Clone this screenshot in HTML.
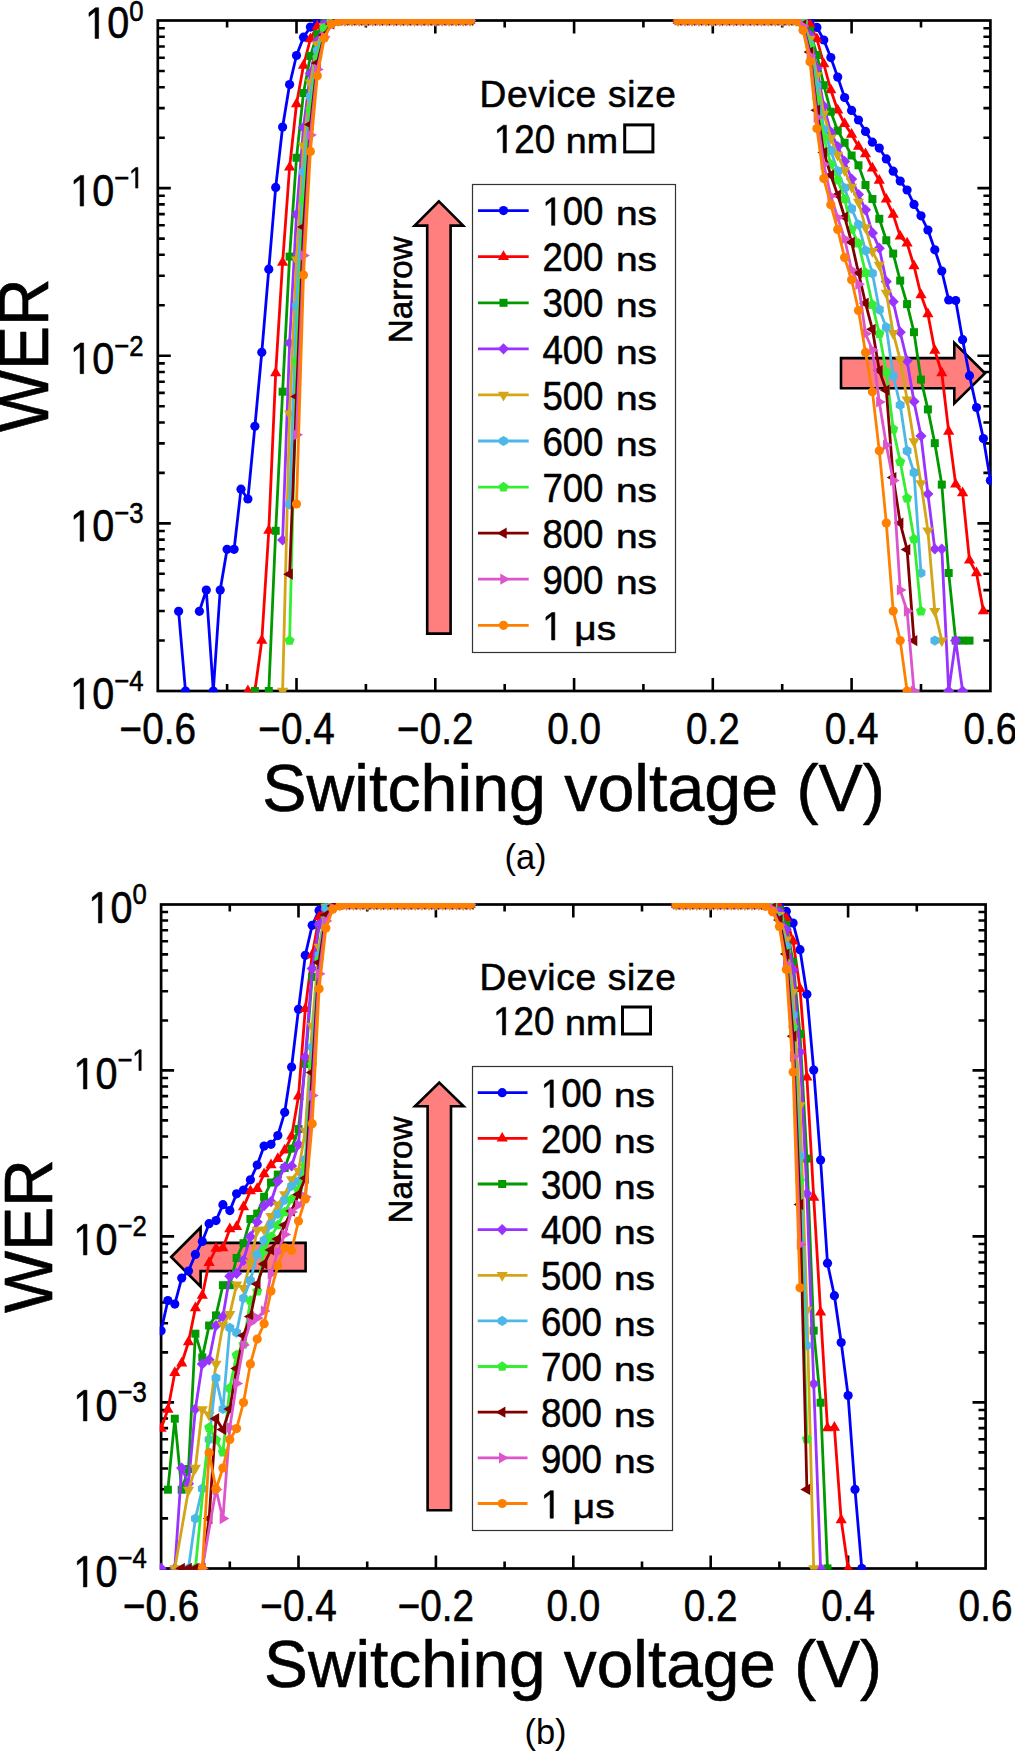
<!DOCTYPE html><html><head><meta charset="utf-8"><style>html,body{margin:0;padding:0;background:#fff;overflow:hidden;width:1015px;height:1751px;}svg{display:block;}text{font-family:"Liberation Sans", sans-serif;fill:#000;stroke:#000;stroke-width:0.6px;stroke-linejoin:round;}text.lt{stroke:none;}</style></head><body>
<svg width="1015" height="1751" viewBox="0 0 1015 1751">
<g id="pa">
<path d="M985.0 373.2L954.3 342.9L954.3 358.1L841.0 358.1L841.0 388.3L954.3 388.3L954.3 403.5Z" fill="#ff7f7f" stroke="#000" stroke-width="2.6" stroke-linejoin="miter"/>
<path d="M438.9 201.3L463.2 225.6L450.6 225.6L450.6 633.6L427.2 633.6L427.2 225.6L414.6 225.6Z" fill="#ff7f7f" stroke="#000" stroke-width="2.6" stroke-linejoin="miter"/>
<path d="M227.1 691.0V684.0M227.1 20.5V27.5M296.5 691.0V678.0M296.5 20.5V33.5M365.9 691.0V684.0M365.9 20.5V27.5M435.3 691.0V678.0M435.3 20.5V33.5M504.7 691.0V684.0M504.7 20.5V27.5M574.1 691.0V678.0M574.1 20.5V33.5M643.4 691.0V684.0M643.4 20.5V27.5M712.8 691.0V678.0M712.8 20.5V33.5M782.2 691.0V684.0M782.2 20.5V27.5M851.6 691.0V678.0M851.6 20.5V33.5M921.0 691.0V684.0M921.0 20.5V27.5M157.8 188.1H170.8M990.4 188.1H977.4M157.8 137.7H164.8M990.4 137.7H983.4M157.8 108.1H164.8M990.4 108.1H983.4M157.8 87.2H164.8M990.4 87.2H983.4M157.8 71.0H164.8M990.4 71.0H983.4M157.8 57.7H164.8M990.4 57.7H983.4M157.8 46.5H164.8M990.4 46.5H983.4M157.8 36.7H164.8M990.4 36.7H983.4M157.8 28.2H164.8M990.4 28.2H983.4M157.8 355.8H170.8M990.4 355.8H977.4M157.8 305.3H164.8M990.4 305.3H983.4M157.8 275.8H164.8M990.4 275.8H983.4M157.8 254.8H164.8M990.4 254.8H983.4M157.8 238.6H164.8M990.4 238.6H983.4M157.8 225.3H164.8M990.4 225.3H983.4M157.8 214.1H164.8M990.4 214.1H983.4M157.8 204.4H164.8M990.4 204.4H983.4M157.8 195.8H164.8M990.4 195.8H983.4M157.8 523.4H170.8M990.4 523.4H977.4M157.8 472.9H164.8M990.4 472.9H983.4M157.8 443.4H164.8M990.4 443.4H983.4M157.8 422.5H164.8M990.4 422.5H983.4M157.8 406.2H164.8M990.4 406.2H983.4M157.8 392.9H164.8M990.4 392.9H983.4M157.8 381.7H164.8M990.4 381.7H983.4M157.8 372.0H164.8M990.4 372.0H983.4M157.8 363.4H164.8M990.4 363.4H983.4M157.8 640.5H164.8M990.4 640.5H983.4M157.8 611.0H164.8M990.4 611.0H983.4M157.8 590.1H164.8M990.4 590.1H983.4M157.8 573.8H164.8M990.4 573.8H983.4M157.8 560.6H164.8M990.4 560.6H983.4M157.8 549.3H164.8M990.4 549.3H983.4M157.8 539.6H164.8M990.4 539.6H983.4M157.8 531.0H164.8M990.4 531.0H983.4" stroke="#000" stroke-width="2.6" fill="none"/>
<rect x="157.8" y="20.5" width="832.6" height="670.5" stroke="#000" stroke-width="2.7" fill="none"/>
<clipPath id="ca"><rect x="156.4" y="19.15" width="835.3000000000001" height="673.2"/></clipPath>
<g clip-path="url(#ca)"><path d="M470.0 20.5L463.0 20.5L456.1 20.5L449.2 20.5L442.2 20.5L435.3 20.5L428.3 20.5L421.4 20.5L414.5 20.5L407.5 20.5L400.6 20.5L393.7 20.5L386.7 20.5L379.8 20.5L372.8 20.5L365.9 20.5L359.0 20.5L352.0 20.5L345.1 20.5L338.1 20.5L331.2 20.5L324.3 20.5L317.3 21.5L310.4 27.1L303.5 37.2L296.5 55.5L289.6 84.6L282.6 127.0L275.7 187.4L268.8 269.2L261.8 352.3L254.9 426.3L247.9 499.0L241.0 489.2L234.1 549.3L227.1 549.3L220.2 590.0L213.3 691.0L206.3 590.0L199.4 611.3M185.5 691.0L178.6 611.3" stroke="#0000ff" stroke-width="2.8" fill="none" stroke-linejoin="round"/>
<circle cx="470.0" cy="20.5" r="4.6" fill="#0000ff"/>
<circle cx="463.0" cy="20.5" r="4.6" fill="#0000ff"/>
<circle cx="456.1" cy="20.5" r="4.6" fill="#0000ff"/>
<circle cx="449.2" cy="20.5" r="4.6" fill="#0000ff"/>
<circle cx="442.2" cy="20.5" r="4.6" fill="#0000ff"/>
<circle cx="435.3" cy="20.5" r="4.6" fill="#0000ff"/>
<circle cx="428.3" cy="20.5" r="4.6" fill="#0000ff"/>
<circle cx="421.4" cy="20.5" r="4.6" fill="#0000ff"/>
<circle cx="414.5" cy="20.5" r="4.6" fill="#0000ff"/>
<circle cx="407.5" cy="20.5" r="4.6" fill="#0000ff"/>
<circle cx="400.6" cy="20.5" r="4.6" fill="#0000ff"/>
<circle cx="393.7" cy="20.5" r="4.6" fill="#0000ff"/>
<circle cx="386.7" cy="20.5" r="4.6" fill="#0000ff"/>
<circle cx="379.8" cy="20.5" r="4.6" fill="#0000ff"/>
<circle cx="372.8" cy="20.5" r="4.6" fill="#0000ff"/>
<circle cx="365.9" cy="20.5" r="4.6" fill="#0000ff"/>
<circle cx="359.0" cy="20.5" r="4.6" fill="#0000ff"/>
<circle cx="352.0" cy="20.5" r="4.6" fill="#0000ff"/>
<circle cx="345.1" cy="20.5" r="4.6" fill="#0000ff"/>
<circle cx="338.1" cy="20.5" r="4.6" fill="#0000ff"/>
<circle cx="331.2" cy="20.5" r="4.6" fill="#0000ff"/>
<circle cx="324.3" cy="20.5" r="4.6" fill="#0000ff"/>
<circle cx="317.3" cy="21.5" r="4.6" fill="#0000ff"/>
<circle cx="310.4" cy="27.1" r="4.6" fill="#0000ff"/>
<circle cx="303.5" cy="37.2" r="4.6" fill="#0000ff"/>
<circle cx="296.5" cy="55.5" r="4.6" fill="#0000ff"/>
<circle cx="289.6" cy="84.6" r="4.6" fill="#0000ff"/>
<circle cx="282.6" cy="127.0" r="4.6" fill="#0000ff"/>
<circle cx="275.7" cy="187.4" r="4.6" fill="#0000ff"/>
<circle cx="268.8" cy="269.2" r="4.6" fill="#0000ff"/>
<circle cx="261.8" cy="352.3" r="4.6" fill="#0000ff"/>
<circle cx="254.9" cy="426.3" r="4.6" fill="#0000ff"/>
<circle cx="247.9" cy="499.0" r="4.6" fill="#0000ff"/>
<circle cx="241.0" cy="489.2" r="4.6" fill="#0000ff"/>
<circle cx="234.1" cy="549.3" r="4.6" fill="#0000ff"/>
<circle cx="227.1" cy="549.3" r="4.6" fill="#0000ff"/>
<circle cx="220.2" cy="590.0" r="4.6" fill="#0000ff"/>
<circle cx="213.3" cy="691.0" r="4.6" fill="#0000ff"/>
<circle cx="206.3" cy="590.0" r="4.6" fill="#0000ff"/>
<circle cx="199.4" cy="611.3" r="4.6" fill="#0000ff"/>
<circle cx="185.5" cy="691.0" r="4.6" fill="#0000ff"/>
<circle cx="178.6" cy="611.3" r="4.6" fill="#0000ff"/>
<path d="M678.1 20.5L685.1 20.5L692.0 20.5L698.9 20.5L705.9 20.5L712.8 20.5L719.8 20.5L726.7 20.5L733.6 20.5L740.6 20.5L747.5 20.5L754.4 20.5L761.4 20.5L768.3 20.5L775.3 20.5L782.2 20.5L789.1 20.5L796.1 20.5L803.0 20.5L810.0 21.2L816.9 27.4L823.8 40.0L830.8 57.6L837.7 77.1L844.6 97.5L851.6 110.4L858.5 120.0L865.5 131.4L872.4 142.2L879.3 148.1L886.3 158.9L893.2 171.2L900.2 181.1L907.1 190.0L914.0 204.4L921.0 215.8L927.9 230.0L934.8 249.8L941.8 271.0L948.7 300.0L955.7 300.5L962.6 339.7L969.5 375.7L976.5 407.5L983.4 438.6L990.4 480.6" stroke="#0000ff" stroke-width="2.8" fill="none" stroke-linejoin="round"/>
<circle cx="678.1" cy="20.5" r="4.6" fill="#0000ff"/>
<circle cx="685.1" cy="20.5" r="4.6" fill="#0000ff"/>
<circle cx="692.0" cy="20.5" r="4.6" fill="#0000ff"/>
<circle cx="698.9" cy="20.5" r="4.6" fill="#0000ff"/>
<circle cx="705.9" cy="20.5" r="4.6" fill="#0000ff"/>
<circle cx="712.8" cy="20.5" r="4.6" fill="#0000ff"/>
<circle cx="719.8" cy="20.5" r="4.6" fill="#0000ff"/>
<circle cx="726.7" cy="20.5" r="4.6" fill="#0000ff"/>
<circle cx="733.6" cy="20.5" r="4.6" fill="#0000ff"/>
<circle cx="740.6" cy="20.5" r="4.6" fill="#0000ff"/>
<circle cx="747.5" cy="20.5" r="4.6" fill="#0000ff"/>
<circle cx="754.4" cy="20.5" r="4.6" fill="#0000ff"/>
<circle cx="761.4" cy="20.5" r="4.6" fill="#0000ff"/>
<circle cx="768.3" cy="20.5" r="4.6" fill="#0000ff"/>
<circle cx="775.3" cy="20.5" r="4.6" fill="#0000ff"/>
<circle cx="782.2" cy="20.5" r="4.6" fill="#0000ff"/>
<circle cx="789.1" cy="20.5" r="4.6" fill="#0000ff"/>
<circle cx="796.1" cy="20.5" r="4.6" fill="#0000ff"/>
<circle cx="803.0" cy="20.5" r="4.6" fill="#0000ff"/>
<circle cx="810.0" cy="21.2" r="4.6" fill="#0000ff"/>
<circle cx="816.9" cy="27.4" r="4.6" fill="#0000ff"/>
<circle cx="823.8" cy="40.0" r="4.6" fill="#0000ff"/>
<circle cx="830.8" cy="57.6" r="4.6" fill="#0000ff"/>
<circle cx="837.7" cy="77.1" r="4.6" fill="#0000ff"/>
<circle cx="844.6" cy="97.5" r="4.6" fill="#0000ff"/>
<circle cx="851.6" cy="110.4" r="4.6" fill="#0000ff"/>
<circle cx="858.5" cy="120.0" r="4.6" fill="#0000ff"/>
<circle cx="865.5" cy="131.4" r="4.6" fill="#0000ff"/>
<circle cx="872.4" cy="142.2" r="4.6" fill="#0000ff"/>
<circle cx="879.3" cy="148.1" r="4.6" fill="#0000ff"/>
<circle cx="886.3" cy="158.9" r="4.6" fill="#0000ff"/>
<circle cx="893.2" cy="171.2" r="4.6" fill="#0000ff"/>
<circle cx="900.2" cy="181.1" r="4.6" fill="#0000ff"/>
<circle cx="907.1" cy="190.0" r="4.6" fill="#0000ff"/>
<circle cx="914.0" cy="204.4" r="4.6" fill="#0000ff"/>
<circle cx="921.0" cy="215.8" r="4.6" fill="#0000ff"/>
<circle cx="927.9" cy="230.0" r="4.6" fill="#0000ff"/>
<circle cx="934.8" cy="249.8" r="4.6" fill="#0000ff"/>
<circle cx="941.8" cy="271.0" r="4.6" fill="#0000ff"/>
<circle cx="948.7" cy="300.0" r="4.6" fill="#0000ff"/>
<circle cx="955.7" cy="300.5" r="4.6" fill="#0000ff"/>
<circle cx="962.6" cy="339.7" r="4.6" fill="#0000ff"/>
<circle cx="969.5" cy="375.7" r="4.6" fill="#0000ff"/>
<circle cx="976.5" cy="407.5" r="4.6" fill="#0000ff"/>
<circle cx="983.4" cy="438.6" r="4.6" fill="#0000ff"/>
<circle cx="990.4" cy="480.6" r="4.6" fill="#0000ff"/>
<path d="M470.0 20.5L463.0 20.5L456.1 20.5L449.2 20.5L442.2 20.5L435.3 20.5L428.3 20.5L421.4 20.5L414.5 20.5L407.5 20.5L400.6 20.5L393.7 20.5L386.7 20.5L379.8 20.5L372.8 20.5L365.9 20.5L359.0 20.5L352.0 20.5L345.1 20.5L338.1 20.5L331.2 20.5L324.3 21.5L317.3 26.2L310.4 39.0L303.5 65.5L296.5 104.0L289.6 167.4L282.6 262.5L275.7 373.0L268.8 530.5L261.8 640.5L254.9 691.0L247.9 691.0" stroke="#ff0000" stroke-width="2.8" fill="none" stroke-linejoin="round"/>
<path d="M470.0 14.0L475.6 23.7L464.4 23.7Z" fill="#ff0000"/>
<path d="M463.0 14.0L468.6 23.7L457.4 23.7Z" fill="#ff0000"/>
<path d="M456.1 14.0L461.7 23.7L450.5 23.7Z" fill="#ff0000"/>
<path d="M449.2 14.0L454.8 23.7L443.6 23.7Z" fill="#ff0000"/>
<path d="M442.2 14.0L447.8 23.7L436.6 23.7Z" fill="#ff0000"/>
<path d="M435.3 14.0L440.9 23.7L429.7 23.7Z" fill="#ff0000"/>
<path d="M428.3 14.0L433.9 23.7L422.7 23.7Z" fill="#ff0000"/>
<path d="M421.4 14.0L427.0 23.7L415.8 23.7Z" fill="#ff0000"/>
<path d="M414.5 14.0L420.1 23.7L408.9 23.7Z" fill="#ff0000"/>
<path d="M407.5 14.0L413.1 23.7L401.9 23.7Z" fill="#ff0000"/>
<path d="M400.6 14.0L406.2 23.7L395.0 23.7Z" fill="#ff0000"/>
<path d="M393.7 14.0L399.3 23.7L388.1 23.7Z" fill="#ff0000"/>
<path d="M386.7 14.0L392.3 23.7L381.1 23.7Z" fill="#ff0000"/>
<path d="M379.8 14.0L385.4 23.7L374.2 23.7Z" fill="#ff0000"/>
<path d="M372.8 14.0L378.4 23.7L367.2 23.7Z" fill="#ff0000"/>
<path d="M365.9 14.0L371.5 23.7L360.3 23.7Z" fill="#ff0000"/>
<path d="M359.0 14.0L364.6 23.7L353.4 23.7Z" fill="#ff0000"/>
<path d="M352.0 14.0L357.6 23.7L346.4 23.7Z" fill="#ff0000"/>
<path d="M345.1 14.0L350.7 23.7L339.5 23.7Z" fill="#ff0000"/>
<path d="M338.1 14.0L343.7 23.7L332.5 23.7Z" fill="#ff0000"/>
<path d="M331.2 14.0L336.8 23.7L325.6 23.7Z" fill="#ff0000"/>
<path d="M324.3 15.0L329.9 24.7L318.7 24.7Z" fill="#ff0000"/>
<path d="M317.3 19.7L322.9 29.4L311.7 29.4Z" fill="#ff0000"/>
<path d="M310.4 32.5L316.0 42.2L304.8 42.2Z" fill="#ff0000"/>
<path d="M303.5 59.0L309.1 68.7L297.9 68.7Z" fill="#ff0000"/>
<path d="M296.5 97.5L302.1 107.2L290.9 107.2Z" fill="#ff0000"/>
<path d="M289.6 160.9L295.2 170.6L284.0 170.6Z" fill="#ff0000"/>
<path d="M282.6 256.0L288.2 265.7L277.0 265.7Z" fill="#ff0000"/>
<path d="M275.7 366.5L281.3 376.2L270.1 376.2Z" fill="#ff0000"/>
<path d="M268.8 524.0L274.4 533.7L263.2 533.7Z" fill="#ff0000"/>
<path d="M261.8 634.0L267.4 643.7L256.2 643.7Z" fill="#ff0000"/>
<path d="M254.9 684.5L260.5 694.2L249.3 694.2Z" fill="#ff0000"/>
<path d="M247.9 684.5L253.5 694.2L242.3 694.2Z" fill="#ff0000"/>
<path d="M678.1 20.5L685.1 20.5L692.0 20.5L698.9 20.5L705.9 20.5L712.8 20.5L719.8 20.5L726.7 20.5L733.6 20.5L740.6 20.5L747.5 20.5L754.4 20.5L761.4 20.5L768.3 20.5L775.3 20.5L782.2 20.5L789.1 20.5L796.1 20.5L803.0 20.5L810.0 24.6L816.9 39.0L823.8 64.0L830.8 90.0L837.7 110.2L844.6 123.8L851.6 134.5L858.5 146.6L865.5 154.0L872.4 168.3L879.3 180.6L886.3 199.4L893.2 214.6L900.2 236.4L907.1 243.3L914.0 266.0L921.0 295.0L927.9 314.0L934.8 350.5L941.8 373.0L948.7 431.5L955.7 484.4L962.6 493.0L969.5 560.4L976.5 573.0L983.4 611.0" stroke="#ff0000" stroke-width="2.8" fill="none" stroke-linejoin="round"/>
<path d="M678.1 14.0L683.7 23.7L672.5 23.7Z" fill="#ff0000"/>
<path d="M685.1 14.0L690.7 23.7L679.5 23.7Z" fill="#ff0000"/>
<path d="M692.0 14.0L697.6 23.7L686.4 23.7Z" fill="#ff0000"/>
<path d="M698.9 14.0L704.5 23.7L693.3 23.7Z" fill="#ff0000"/>
<path d="M705.9 14.0L711.5 23.7L700.3 23.7Z" fill="#ff0000"/>
<path d="M712.8 14.0L718.4 23.7L707.2 23.7Z" fill="#ff0000"/>
<path d="M719.8 14.0L725.4 23.7L714.2 23.7Z" fill="#ff0000"/>
<path d="M726.7 14.0L732.3 23.7L721.1 23.7Z" fill="#ff0000"/>
<path d="M733.6 14.0L739.2 23.7L728.0 23.7Z" fill="#ff0000"/>
<path d="M740.6 14.0L746.2 23.7L735.0 23.7Z" fill="#ff0000"/>
<path d="M747.5 14.0L753.1 23.7L741.9 23.7Z" fill="#ff0000"/>
<path d="M754.4 14.0L760.0 23.7L748.8 23.7Z" fill="#ff0000"/>
<path d="M761.4 14.0L767.0 23.7L755.8 23.7Z" fill="#ff0000"/>
<path d="M768.3 14.0L773.9 23.7L762.7 23.7Z" fill="#ff0000"/>
<path d="M775.3 14.0L780.9 23.7L769.7 23.7Z" fill="#ff0000"/>
<path d="M782.2 14.0L787.8 23.7L776.6 23.7Z" fill="#ff0000"/>
<path d="M789.1 14.0L794.7 23.7L783.5 23.7Z" fill="#ff0000"/>
<path d="M796.1 14.0L801.7 23.7L790.5 23.7Z" fill="#ff0000"/>
<path d="M803.0 14.0L808.6 23.7L797.4 23.7Z" fill="#ff0000"/>
<path d="M810.0 18.1L815.6 27.8L804.4 27.8Z" fill="#ff0000"/>
<path d="M816.9 32.5L822.5 42.2L811.3 42.2Z" fill="#ff0000"/>
<path d="M823.8 57.5L829.4 67.2L818.2 67.2Z" fill="#ff0000"/>
<path d="M830.8 83.5L836.4 93.2L825.2 93.2Z" fill="#ff0000"/>
<path d="M837.7 103.7L843.3 113.4L832.1 113.4Z" fill="#ff0000"/>
<path d="M844.6 117.3L850.2 127.0L839.0 127.0Z" fill="#ff0000"/>
<path d="M851.6 128.0L857.2 137.7L846.0 137.7Z" fill="#ff0000"/>
<path d="M858.5 140.1L864.1 149.8L852.9 149.8Z" fill="#ff0000"/>
<path d="M865.5 147.5L871.1 157.2L859.9 157.2Z" fill="#ff0000"/>
<path d="M872.4 161.8L878.0 171.5L866.8 171.5Z" fill="#ff0000"/>
<path d="M879.3 174.1L884.9 183.8L873.7 183.8Z" fill="#ff0000"/>
<path d="M886.3 192.9L891.9 202.6L880.7 202.6Z" fill="#ff0000"/>
<path d="M893.2 208.1L898.8 217.8L887.6 217.8Z" fill="#ff0000"/>
<path d="M900.2 229.9L905.8 239.6L894.6 239.6Z" fill="#ff0000"/>
<path d="M907.1 236.8L912.7 246.5L901.5 246.5Z" fill="#ff0000"/>
<path d="M914.0 259.5L919.6 269.2L908.4 269.2Z" fill="#ff0000"/>
<path d="M921.0 288.5L926.6 298.2L915.4 298.2Z" fill="#ff0000"/>
<path d="M927.9 307.5L933.5 317.2L922.3 317.2Z" fill="#ff0000"/>
<path d="M934.8 344.0L940.4 353.7L929.2 353.7Z" fill="#ff0000"/>
<path d="M941.8 366.5L947.4 376.2L936.2 376.2Z" fill="#ff0000"/>
<path d="M948.7 425.0L954.3 434.7L943.1 434.7Z" fill="#ff0000"/>
<path d="M955.7 477.9L961.3 487.6L950.1 487.6Z" fill="#ff0000"/>
<path d="M962.6 486.5L968.2 496.2L957.0 496.2Z" fill="#ff0000"/>
<path d="M969.5 553.9L975.1 563.6L963.9 563.6Z" fill="#ff0000"/>
<path d="M976.5 566.5L982.1 576.2L970.9 576.2Z" fill="#ff0000"/>
<path d="M983.4 604.5L989.0 614.2L977.8 614.2Z" fill="#ff0000"/>
<path d="M470.0 20.5L463.0 20.5L456.1 20.5L449.2 20.5L442.2 20.5L435.3 20.5L428.3 20.5L421.4 20.5L414.5 20.5L407.5 20.5L400.6 20.5L393.7 20.5L386.7 20.5L379.8 20.5L372.8 20.5L365.9 20.5L359.0 20.5L352.0 20.5L345.1 20.5L338.1 20.5L331.2 20.5L324.3 22.8L317.3 34.2L310.4 56.0L303.5 93.0L296.5 157.8L289.6 256.6L282.6 391.7L275.7 530.8L268.8 691.0" stroke="#009900" stroke-width="2.8" fill="none" stroke-linejoin="round"/>
<rect x="466.0" y="16.5" width="8.0" height="8.0" fill="#009900"/>
<rect x="459.0" y="16.5" width="8.0" height="8.0" fill="#009900"/>
<rect x="452.1" y="16.5" width="8.0" height="8.0" fill="#009900"/>
<rect x="445.2" y="16.5" width="8.0" height="8.0" fill="#009900"/>
<rect x="438.2" y="16.5" width="8.0" height="8.0" fill="#009900"/>
<rect x="431.3" y="16.5" width="8.0" height="8.0" fill="#009900"/>
<rect x="424.3" y="16.5" width="8.0" height="8.0" fill="#009900"/>
<rect x="417.4" y="16.5" width="8.0" height="8.0" fill="#009900"/>
<rect x="410.5" y="16.5" width="8.0" height="8.0" fill="#009900"/>
<rect x="403.5" y="16.5" width="8.0" height="8.0" fill="#009900"/>
<rect x="396.6" y="16.5" width="8.0" height="8.0" fill="#009900"/>
<rect x="389.7" y="16.5" width="8.0" height="8.0" fill="#009900"/>
<rect x="382.7" y="16.5" width="8.0" height="8.0" fill="#009900"/>
<rect x="375.8" y="16.5" width="8.0" height="8.0" fill="#009900"/>
<rect x="368.8" y="16.5" width="8.0" height="8.0" fill="#009900"/>
<rect x="361.9" y="16.5" width="8.0" height="8.0" fill="#009900"/>
<rect x="355.0" y="16.5" width="8.0" height="8.0" fill="#009900"/>
<rect x="348.0" y="16.5" width="8.0" height="8.0" fill="#009900"/>
<rect x="341.1" y="16.5" width="8.0" height="8.0" fill="#009900"/>
<rect x="334.1" y="16.5" width="8.0" height="8.0" fill="#009900"/>
<rect x="327.2" y="16.5" width="8.0" height="8.0" fill="#009900"/>
<rect x="320.3" y="18.8" width="8.0" height="8.0" fill="#009900"/>
<rect x="313.3" y="30.2" width="8.0" height="8.0" fill="#009900"/>
<rect x="306.4" y="52.0" width="8.0" height="8.0" fill="#009900"/>
<rect x="299.5" y="89.0" width="8.0" height="8.0" fill="#009900"/>
<rect x="292.5" y="153.8" width="8.0" height="8.0" fill="#009900"/>
<rect x="285.6" y="252.6" width="8.0" height="8.0" fill="#009900"/>
<rect x="278.6" y="387.7" width="8.0" height="8.0" fill="#009900"/>
<rect x="271.7" y="526.8" width="8.0" height="8.0" fill="#009900"/>
<rect x="264.8" y="687.0" width="8.0" height="8.0" fill="#009900"/>
<rect x="250.9" y="687.0" width="8.0" height="8.0" fill="#009900"/>
<path d="M678.1 20.5L685.1 20.5L692.0 20.5L698.9 20.5L705.9 20.5L712.8 20.5L719.8 20.5L726.7 20.5L733.6 20.5L740.6 20.5L747.5 20.5L754.4 20.5L761.4 20.5L768.3 20.5L775.3 20.5L782.2 20.5L789.1 20.5L796.1 20.5L803.0 21.0L810.0 31.0L816.9 55.0L823.8 85.2L830.8 111.7L837.7 130.7L844.6 142.7L851.6 155.5L858.5 165.3L865.5 185.0L872.4 199.0L879.3 218.8L886.3 240.3L893.2 253.6L900.2 280.6L907.1 304.1L914.0 332.2L921.0 379.6L927.9 409.4L934.8 443.2L941.8 484.6L948.7 573.0L955.7 640.6L962.6 640.6L969.5 640.6" stroke="#009900" stroke-width="2.8" fill="none" stroke-linejoin="round"/>
<rect x="674.1" y="16.5" width="8.0" height="8.0" fill="#009900"/>
<rect x="681.1" y="16.5" width="8.0" height="8.0" fill="#009900"/>
<rect x="688.0" y="16.5" width="8.0" height="8.0" fill="#009900"/>
<rect x="694.9" y="16.5" width="8.0" height="8.0" fill="#009900"/>
<rect x="701.9" y="16.5" width="8.0" height="8.0" fill="#009900"/>
<rect x="708.8" y="16.5" width="8.0" height="8.0" fill="#009900"/>
<rect x="715.8" y="16.5" width="8.0" height="8.0" fill="#009900"/>
<rect x="722.7" y="16.5" width="8.0" height="8.0" fill="#009900"/>
<rect x="729.6" y="16.5" width="8.0" height="8.0" fill="#009900"/>
<rect x="736.6" y="16.5" width="8.0" height="8.0" fill="#009900"/>
<rect x="743.5" y="16.5" width="8.0" height="8.0" fill="#009900"/>
<rect x="750.4" y="16.5" width="8.0" height="8.0" fill="#009900"/>
<rect x="757.4" y="16.5" width="8.0" height="8.0" fill="#009900"/>
<rect x="764.3" y="16.5" width="8.0" height="8.0" fill="#009900"/>
<rect x="771.3" y="16.5" width="8.0" height="8.0" fill="#009900"/>
<rect x="778.2" y="16.5" width="8.0" height="8.0" fill="#009900"/>
<rect x="785.1" y="16.5" width="8.0" height="8.0" fill="#009900"/>
<rect x="792.1" y="16.5" width="8.0" height="8.0" fill="#009900"/>
<rect x="799.0" y="17.0" width="8.0" height="8.0" fill="#009900"/>
<rect x="806.0" y="27.0" width="8.0" height="8.0" fill="#009900"/>
<rect x="812.9" y="51.0" width="8.0" height="8.0" fill="#009900"/>
<rect x="819.8" y="81.2" width="8.0" height="8.0" fill="#009900"/>
<rect x="826.8" y="107.7" width="8.0" height="8.0" fill="#009900"/>
<rect x="833.7" y="126.7" width="8.0" height="8.0" fill="#009900"/>
<rect x="840.6" y="138.7" width="8.0" height="8.0" fill="#009900"/>
<rect x="847.6" y="151.5" width="8.0" height="8.0" fill="#009900"/>
<rect x="854.5" y="161.3" width="8.0" height="8.0" fill="#009900"/>
<rect x="861.5" y="181.0" width="8.0" height="8.0" fill="#009900"/>
<rect x="868.4" y="195.0" width="8.0" height="8.0" fill="#009900"/>
<rect x="875.3" y="214.8" width="8.0" height="8.0" fill="#009900"/>
<rect x="882.3" y="236.3" width="8.0" height="8.0" fill="#009900"/>
<rect x="889.2" y="249.6" width="8.0" height="8.0" fill="#009900"/>
<rect x="896.2" y="276.6" width="8.0" height="8.0" fill="#009900"/>
<rect x="903.1" y="300.1" width="8.0" height="8.0" fill="#009900"/>
<rect x="910.0" y="328.2" width="8.0" height="8.0" fill="#009900"/>
<rect x="917.0" y="375.6" width="8.0" height="8.0" fill="#009900"/>
<rect x="923.9" y="405.4" width="8.0" height="8.0" fill="#009900"/>
<rect x="930.8" y="439.2" width="8.0" height="8.0" fill="#009900"/>
<rect x="937.8" y="480.6" width="8.0" height="8.0" fill="#009900"/>
<rect x="944.7" y="569.0" width="8.0" height="8.0" fill="#009900"/>
<rect x="951.7" y="636.6" width="8.0" height="8.0" fill="#009900"/>
<rect x="958.6" y="636.6" width="8.0" height="8.0" fill="#009900"/>
<rect x="965.5" y="636.6" width="8.0" height="8.0" fill="#009900"/>
<path d="M470.0 20.5L463.0 20.5L456.1 20.5L449.2 20.5L442.2 20.5L435.3 20.5L428.3 20.5L421.4 20.5L414.5 20.5L407.5 20.5L400.6 20.5L393.7 20.5L386.7 20.5L379.8 20.5L372.8 20.5L365.9 20.5L359.0 20.5L352.0 20.5L345.1 20.5L338.1 20.5L331.2 20.5L324.3 23.9L317.3 41.0L310.4 73.3L303.5 127.5L296.5 214.6L289.6 343.0L282.6 540.0" stroke="#9933ff" stroke-width="2.8" fill="none" stroke-linejoin="round"/>
<path d="M470.0 14.9L475.6 20.5L470.0 26.1L464.4 20.5Z" fill="#9933ff"/>
<path d="M463.0 14.9L468.6 20.5L463.0 26.1L457.4 20.5Z" fill="#9933ff"/>
<path d="M456.1 14.9L461.7 20.5L456.1 26.1L450.5 20.5Z" fill="#9933ff"/>
<path d="M449.2 14.9L454.8 20.5L449.2 26.1L443.6 20.5Z" fill="#9933ff"/>
<path d="M442.2 14.9L447.8 20.5L442.2 26.1L436.6 20.5Z" fill="#9933ff"/>
<path d="M435.3 14.9L440.9 20.5L435.3 26.1L429.7 20.5Z" fill="#9933ff"/>
<path d="M428.3 14.9L433.9 20.5L428.3 26.1L422.7 20.5Z" fill="#9933ff"/>
<path d="M421.4 14.9L427.0 20.5L421.4 26.1L415.8 20.5Z" fill="#9933ff"/>
<path d="M414.5 14.9L420.1 20.5L414.5 26.1L408.9 20.5Z" fill="#9933ff"/>
<path d="M407.5 14.9L413.1 20.5L407.5 26.1L401.9 20.5Z" fill="#9933ff"/>
<path d="M400.6 14.9L406.2 20.5L400.6 26.1L395.0 20.5Z" fill="#9933ff"/>
<path d="M393.7 14.9L399.3 20.5L393.7 26.1L388.1 20.5Z" fill="#9933ff"/>
<path d="M386.7 14.9L392.3 20.5L386.7 26.1L381.1 20.5Z" fill="#9933ff"/>
<path d="M379.8 14.9L385.4 20.5L379.8 26.1L374.2 20.5Z" fill="#9933ff"/>
<path d="M372.8 14.9L378.4 20.5L372.8 26.1L367.2 20.5Z" fill="#9933ff"/>
<path d="M365.9 14.9L371.5 20.5L365.9 26.1L360.3 20.5Z" fill="#9933ff"/>
<path d="M359.0 14.9L364.6 20.5L359.0 26.1L353.4 20.5Z" fill="#9933ff"/>
<path d="M352.0 14.9L357.6 20.5L352.0 26.1L346.4 20.5Z" fill="#9933ff"/>
<path d="M345.1 14.9L350.7 20.5L345.1 26.1L339.5 20.5Z" fill="#9933ff"/>
<path d="M338.1 14.9L343.7 20.5L338.1 26.1L332.5 20.5Z" fill="#9933ff"/>
<path d="M331.2 14.9L336.8 20.5L331.2 26.1L325.6 20.5Z" fill="#9933ff"/>
<path d="M324.3 18.3L329.9 23.9L324.3 29.5L318.7 23.9Z" fill="#9933ff"/>
<path d="M317.3 35.4L322.9 41.0L317.3 46.6L311.7 41.0Z" fill="#9933ff"/>
<path d="M310.4 67.7L316.0 73.3L310.4 78.9L304.8 73.3Z" fill="#9933ff"/>
<path d="M303.5 121.9L309.1 127.5L303.5 133.1L297.9 127.5Z" fill="#9933ff"/>
<path d="M296.5 209.0L302.1 214.6L296.5 220.2L290.9 214.6Z" fill="#9933ff"/>
<path d="M289.6 337.4L295.2 343.0L289.6 348.6L284.0 343.0Z" fill="#9933ff"/>
<path d="M282.6 534.4L288.2 540.0L282.6 545.6L277.0 540.0Z" fill="#9933ff"/>
<path d="M678.1 20.5L685.1 20.5L692.0 20.5L698.9 20.5L705.9 20.5L712.8 20.5L719.8 20.5L726.7 20.5L733.6 20.5L740.6 20.5L747.5 20.5L754.4 20.5L761.4 20.5L768.3 20.5L775.3 20.5L782.2 20.5L789.1 20.5L796.1 20.5L803.0 21.5L810.0 35.0L816.9 68.3L823.8 106.2L830.8 132.0L837.7 146.6L844.6 161.4L851.6 179.1L858.5 194.5L865.5 209.8L872.4 232.9L879.3 248.2L886.3 281.5L893.2 301.7L900.2 332.2L907.1 360.8L914.0 401.5L921.0 436.0L927.9 494.0L934.8 549.0L941.8 549.0L948.7 691.0L955.7 640.6L962.6 691.0" stroke="#9933ff" stroke-width="2.8" fill="none" stroke-linejoin="round"/>
<path d="M678.1 14.9L683.7 20.5L678.1 26.1L672.5 20.5Z" fill="#9933ff"/>
<path d="M685.1 14.9L690.7 20.5L685.1 26.1L679.5 20.5Z" fill="#9933ff"/>
<path d="M692.0 14.9L697.6 20.5L692.0 26.1L686.4 20.5Z" fill="#9933ff"/>
<path d="M698.9 14.9L704.5 20.5L698.9 26.1L693.3 20.5Z" fill="#9933ff"/>
<path d="M705.9 14.9L711.5 20.5L705.9 26.1L700.3 20.5Z" fill="#9933ff"/>
<path d="M712.8 14.9L718.4 20.5L712.8 26.1L707.2 20.5Z" fill="#9933ff"/>
<path d="M719.8 14.9L725.4 20.5L719.8 26.1L714.2 20.5Z" fill="#9933ff"/>
<path d="M726.7 14.9L732.3 20.5L726.7 26.1L721.1 20.5Z" fill="#9933ff"/>
<path d="M733.6 14.9L739.2 20.5L733.6 26.1L728.0 20.5Z" fill="#9933ff"/>
<path d="M740.6 14.9L746.2 20.5L740.6 26.1L735.0 20.5Z" fill="#9933ff"/>
<path d="M747.5 14.9L753.1 20.5L747.5 26.1L741.9 20.5Z" fill="#9933ff"/>
<path d="M754.4 14.9L760.0 20.5L754.4 26.1L748.8 20.5Z" fill="#9933ff"/>
<path d="M761.4 14.9L767.0 20.5L761.4 26.1L755.8 20.5Z" fill="#9933ff"/>
<path d="M768.3 14.9L773.9 20.5L768.3 26.1L762.7 20.5Z" fill="#9933ff"/>
<path d="M775.3 14.9L780.9 20.5L775.3 26.1L769.7 20.5Z" fill="#9933ff"/>
<path d="M782.2 14.9L787.8 20.5L782.2 26.1L776.6 20.5Z" fill="#9933ff"/>
<path d="M789.1 14.9L794.7 20.5L789.1 26.1L783.5 20.5Z" fill="#9933ff"/>
<path d="M796.1 14.9L801.7 20.5L796.1 26.1L790.5 20.5Z" fill="#9933ff"/>
<path d="M803.0 15.9L808.6 21.5L803.0 27.1L797.4 21.5Z" fill="#9933ff"/>
<path d="M810.0 29.4L815.6 35.0L810.0 40.6L804.4 35.0Z" fill="#9933ff"/>
<path d="M816.9 62.7L822.5 68.3L816.9 73.9L811.3 68.3Z" fill="#9933ff"/>
<path d="M823.8 100.6L829.4 106.2L823.8 111.8L818.2 106.2Z" fill="#9933ff"/>
<path d="M830.8 126.4L836.4 132.0L830.8 137.6L825.2 132.0Z" fill="#9933ff"/>
<path d="M837.7 141.0L843.3 146.6L837.7 152.2L832.1 146.6Z" fill="#9933ff"/>
<path d="M844.6 155.8L850.2 161.4L844.6 167.0L839.0 161.4Z" fill="#9933ff"/>
<path d="M851.6 173.5L857.2 179.1L851.6 184.7L846.0 179.1Z" fill="#9933ff"/>
<path d="M858.5 188.9L864.1 194.5L858.5 200.1L852.9 194.5Z" fill="#9933ff"/>
<path d="M865.5 204.2L871.1 209.8L865.5 215.4L859.9 209.8Z" fill="#9933ff"/>
<path d="M872.4 227.3L878.0 232.9L872.4 238.5L866.8 232.9Z" fill="#9933ff"/>
<path d="M879.3 242.6L884.9 248.2L879.3 253.8L873.7 248.2Z" fill="#9933ff"/>
<path d="M886.3 275.9L891.9 281.5L886.3 287.1L880.7 281.5Z" fill="#9933ff"/>
<path d="M893.2 296.1L898.8 301.7L893.2 307.3L887.6 301.7Z" fill="#9933ff"/>
<path d="M900.2 326.6L905.8 332.2L900.2 337.8L894.6 332.2Z" fill="#9933ff"/>
<path d="M907.1 355.2L912.7 360.8L907.1 366.4L901.5 360.8Z" fill="#9933ff"/>
<path d="M914.0 395.9L919.6 401.5L914.0 407.1L908.4 401.5Z" fill="#9933ff"/>
<path d="M921.0 430.4L926.6 436.0L921.0 441.6L915.4 436.0Z" fill="#9933ff"/>
<path d="M927.9 488.4L933.5 494.0L927.9 499.6L922.3 494.0Z" fill="#9933ff"/>
<path d="M934.8 543.4L940.4 549.0L934.8 554.6L929.2 549.0Z" fill="#9933ff"/>
<path d="M941.8 543.4L947.4 549.0L941.8 554.6L936.2 549.0Z" fill="#9933ff"/>
<path d="M948.7 685.4L954.3 691.0L948.7 696.6L943.1 691.0Z" fill="#9933ff"/>
<path d="M955.7 635.0L961.3 640.6L955.7 646.2L950.1 640.6Z" fill="#9933ff"/>
<path d="M962.6 685.4L968.2 691.0L962.6 696.6L957.0 691.0Z" fill="#9933ff"/>
<path d="M470.0 20.5L463.0 20.5L456.1 20.5L449.2 20.5L442.2 20.5L435.3 20.5L428.3 20.5L421.4 20.5L414.5 20.5L407.5 20.5L400.6 20.5L393.7 20.5L386.7 20.5L379.8 20.5L372.8 20.5L365.9 20.5L359.0 20.5L352.0 20.5L345.1 20.5L338.1 20.5L331.2 20.5L324.3 26.8L317.3 44.5L310.4 82.7L303.5 146.0L296.5 259.8L289.6 413.8L282.6 691.0" stroke="#d4a516" stroke-width="2.8" fill="none" stroke-linejoin="round"/>
<path d="M470.0 27.0L475.6 17.3L464.4 17.3Z" fill="#d4a516"/>
<path d="M463.0 27.0L468.6 17.3L457.4 17.3Z" fill="#d4a516"/>
<path d="M456.1 27.0L461.7 17.3L450.5 17.3Z" fill="#d4a516"/>
<path d="M449.2 27.0L454.8 17.3L443.6 17.3Z" fill="#d4a516"/>
<path d="M442.2 27.0L447.8 17.3L436.6 17.3Z" fill="#d4a516"/>
<path d="M435.3 27.0L440.9 17.3L429.7 17.3Z" fill="#d4a516"/>
<path d="M428.3 27.0L433.9 17.3L422.7 17.3Z" fill="#d4a516"/>
<path d="M421.4 27.0L427.0 17.3L415.8 17.3Z" fill="#d4a516"/>
<path d="M414.5 27.0L420.1 17.3L408.9 17.3Z" fill="#d4a516"/>
<path d="M407.5 27.0L413.1 17.3L401.9 17.3Z" fill="#d4a516"/>
<path d="M400.6 27.0L406.2 17.3L395.0 17.3Z" fill="#d4a516"/>
<path d="M393.7 27.0L399.3 17.3L388.1 17.3Z" fill="#d4a516"/>
<path d="M386.7 27.0L392.3 17.3L381.1 17.3Z" fill="#d4a516"/>
<path d="M379.8 27.0L385.4 17.3L374.2 17.3Z" fill="#d4a516"/>
<path d="M372.8 27.0L378.4 17.3L367.2 17.3Z" fill="#d4a516"/>
<path d="M365.9 27.0L371.5 17.3L360.3 17.3Z" fill="#d4a516"/>
<path d="M359.0 27.0L364.6 17.3L353.4 17.3Z" fill="#d4a516"/>
<path d="M352.0 27.0L357.6 17.3L346.4 17.3Z" fill="#d4a516"/>
<path d="M345.1 27.0L350.7 17.3L339.5 17.3Z" fill="#d4a516"/>
<path d="M338.1 27.0L343.7 17.3L332.5 17.3Z" fill="#d4a516"/>
<path d="M331.2 27.0L336.8 17.3L325.6 17.3Z" fill="#d4a516"/>
<path d="M324.3 33.3L329.9 23.6L318.7 23.6Z" fill="#d4a516"/>
<path d="M317.3 51.0L322.9 41.3L311.7 41.3Z" fill="#d4a516"/>
<path d="M310.4 89.2L316.0 79.5L304.8 79.5Z" fill="#d4a516"/>
<path d="M303.5 152.5L309.1 142.8L297.9 142.8Z" fill="#d4a516"/>
<path d="M296.5 266.3L302.1 256.6L290.9 256.6Z" fill="#d4a516"/>
<path d="M289.6 420.3L295.2 410.6L284.0 410.6Z" fill="#d4a516"/>
<path d="M282.6 697.5L288.2 687.8L277.0 687.8Z" fill="#d4a516"/>
<path d="M678.1 20.5L685.1 20.5L692.0 20.5L698.9 20.5L705.9 20.5L712.8 20.5L719.8 20.5L726.7 20.5L733.6 20.5L740.6 20.5L747.5 20.5L754.4 20.5L761.4 20.5L768.3 20.5L775.3 20.5L782.2 20.5L789.1 20.5L796.1 20.5L803.0 22.5L810.0 39.0L816.9 75.5L823.8 114.0L830.8 138.2L837.7 155.0L844.6 170.2L851.6 187.0L858.5 202.0L865.5 227.5L872.4 251.2L879.3 265.0L886.3 293.0L893.2 333.2L900.2 359.8L907.1 399.6L914.0 441.4L921.0 483.4L927.9 530.7L934.8 611.1L941.8 640.6" stroke="#d4a516" stroke-width="2.8" fill="none" stroke-linejoin="round"/>
<path d="M678.1 27.0L683.7 17.3L672.5 17.3Z" fill="#d4a516"/>
<path d="M685.1 27.0L690.7 17.3L679.5 17.3Z" fill="#d4a516"/>
<path d="M692.0 27.0L697.6 17.3L686.4 17.3Z" fill="#d4a516"/>
<path d="M698.9 27.0L704.5 17.3L693.3 17.3Z" fill="#d4a516"/>
<path d="M705.9 27.0L711.5 17.3L700.3 17.3Z" fill="#d4a516"/>
<path d="M712.8 27.0L718.4 17.3L707.2 17.3Z" fill="#d4a516"/>
<path d="M719.8 27.0L725.4 17.3L714.2 17.3Z" fill="#d4a516"/>
<path d="M726.7 27.0L732.3 17.3L721.1 17.3Z" fill="#d4a516"/>
<path d="M733.6 27.0L739.2 17.3L728.0 17.3Z" fill="#d4a516"/>
<path d="M740.6 27.0L746.2 17.3L735.0 17.3Z" fill="#d4a516"/>
<path d="M747.5 27.0L753.1 17.3L741.9 17.3Z" fill="#d4a516"/>
<path d="M754.4 27.0L760.0 17.3L748.8 17.3Z" fill="#d4a516"/>
<path d="M761.4 27.0L767.0 17.3L755.8 17.3Z" fill="#d4a516"/>
<path d="M768.3 27.0L773.9 17.3L762.7 17.3Z" fill="#d4a516"/>
<path d="M775.3 27.0L780.9 17.3L769.7 17.3Z" fill="#d4a516"/>
<path d="M782.2 27.0L787.8 17.3L776.6 17.3Z" fill="#d4a516"/>
<path d="M789.1 27.0L794.7 17.3L783.5 17.3Z" fill="#d4a516"/>
<path d="M796.1 27.0L801.7 17.3L790.5 17.3Z" fill="#d4a516"/>
<path d="M803.0 29.0L808.6 19.3L797.4 19.3Z" fill="#d4a516"/>
<path d="M810.0 45.5L815.6 35.8L804.4 35.8Z" fill="#d4a516"/>
<path d="M816.9 82.0L822.5 72.3L811.3 72.3Z" fill="#d4a516"/>
<path d="M823.8 120.5L829.4 110.8L818.2 110.8Z" fill="#d4a516"/>
<path d="M830.8 144.7L836.4 135.0L825.2 135.0Z" fill="#d4a516"/>
<path d="M837.7 161.5L843.3 151.8L832.1 151.8Z" fill="#d4a516"/>
<path d="M844.6 176.7L850.2 167.0L839.0 167.0Z" fill="#d4a516"/>
<path d="M851.6 193.5L857.2 183.8L846.0 183.8Z" fill="#d4a516"/>
<path d="M858.5 208.5L864.1 198.8L852.9 198.8Z" fill="#d4a516"/>
<path d="M865.5 234.0L871.1 224.3L859.9 224.3Z" fill="#d4a516"/>
<path d="M872.4 257.7L878.0 248.0L866.8 248.0Z" fill="#d4a516"/>
<path d="M879.3 271.5L884.9 261.8L873.7 261.8Z" fill="#d4a516"/>
<path d="M886.3 299.5L891.9 289.8L880.7 289.8Z" fill="#d4a516"/>
<path d="M893.2 339.7L898.8 330.0L887.6 330.0Z" fill="#d4a516"/>
<path d="M900.2 366.3L905.8 356.6L894.6 356.6Z" fill="#d4a516"/>
<path d="M907.1 406.1L912.7 396.4L901.5 396.4Z" fill="#d4a516"/>
<path d="M914.0 447.9L919.6 438.2L908.4 438.2Z" fill="#d4a516"/>
<path d="M921.0 489.9L926.6 480.2L915.4 480.2Z" fill="#d4a516"/>
<path d="M927.9 537.2L933.5 527.5L922.3 527.5Z" fill="#d4a516"/>
<path d="M934.8 617.6L940.4 607.9L929.2 607.9Z" fill="#d4a516"/>
<path d="M941.8 647.1L947.4 637.4L936.2 637.4Z" fill="#d4a516"/>
<path d="M470.0 20.5L463.0 20.5L456.1 20.5L449.2 20.5L442.2 20.5L435.3 20.5L428.3 20.5L421.4 20.5L414.5 20.5L407.5 20.5L400.6 20.5L393.7 20.5L386.7 20.5L379.8 20.5L372.8 20.5L365.9 20.5L359.0 20.5L352.0 20.5L345.1 20.5L338.1 20.5L331.2 20.5L324.3 28.0L317.3 50.5L310.4 96.5L303.5 171.8L296.5 305.9L289.6 504.4" stroke="#4db8e8" stroke-width="2.8" fill="none" stroke-linejoin="round"/>
<path d="M470.0 25.6L465.6 23.1L465.6 18.0L470.0 15.4L474.4 17.9L474.4 23.1Z" fill="#4db8e8"/>
<path d="M463.0 25.6L458.6 23.1L458.6 18.0L463.0 15.4L467.5 17.9L467.5 23.1Z" fill="#4db8e8"/>
<path d="M456.1 25.6L451.7 23.1L451.7 18.0L456.1 15.4L460.5 17.9L460.5 23.1Z" fill="#4db8e8"/>
<path d="M449.2 25.6L444.7 23.1L444.7 18.0L449.2 15.4L453.6 17.9L453.6 23.1Z" fill="#4db8e8"/>
<path d="M442.2 25.6L437.8 23.1L437.8 18.0L442.2 15.4L446.6 17.9L446.6 23.1Z" fill="#4db8e8"/>
<path d="M435.3 25.6L430.9 23.1L430.9 18.0L435.3 15.4L439.7 17.9L439.7 23.1Z" fill="#4db8e8"/>
<path d="M428.3 25.6L423.9 23.1L423.9 18.0L428.3 15.4L432.8 17.9L432.8 23.1Z" fill="#4db8e8"/>
<path d="M421.4 25.6L417.0 23.1L417.0 18.0L421.4 15.4L425.8 17.9L425.8 23.1Z" fill="#4db8e8"/>
<path d="M414.5 25.6L410.1 23.1L410.1 18.0L414.5 15.4L418.9 17.9L418.9 23.1Z" fill="#4db8e8"/>
<path d="M407.5 25.6L403.1 23.1L403.1 18.0L407.5 15.4L411.9 17.9L411.9 23.1Z" fill="#4db8e8"/>
<path d="M400.6 25.6L396.2 23.1L396.2 18.0L400.6 15.4L405.0 17.9L405.0 23.1Z" fill="#4db8e8"/>
<path d="M393.7 25.6L389.2 23.1L389.2 18.0L393.7 15.4L398.1 17.9L398.1 23.1Z" fill="#4db8e8"/>
<path d="M386.7 25.6L382.3 23.1L382.3 18.0L386.7 15.4L391.1 17.9L391.1 23.1Z" fill="#4db8e8"/>
<path d="M379.8 25.6L375.4 23.1L375.4 18.0L379.8 15.4L384.2 17.9L384.2 23.1Z" fill="#4db8e8"/>
<path d="M372.8 25.6L368.4 23.1L368.4 18.0L372.8 15.4L377.3 17.9L377.3 23.1Z" fill="#4db8e8"/>
<path d="M365.9 25.6L361.5 23.1L361.5 18.0L365.9 15.4L370.3 17.9L370.3 23.1Z" fill="#4db8e8"/>
<path d="M359.0 25.6L354.5 23.1L354.5 18.0L359.0 15.4L363.4 17.9L363.4 23.1Z" fill="#4db8e8"/>
<path d="M352.0 25.6L347.6 23.1L347.6 18.0L352.0 15.4L356.4 17.9L356.4 23.1Z" fill="#4db8e8"/>
<path d="M345.1 25.6L340.7 23.1L340.7 18.0L345.1 15.4L349.5 17.9L349.5 23.1Z" fill="#4db8e8"/>
<path d="M338.1 25.6L333.7 23.1L333.7 18.0L338.1 15.4L342.6 17.9L342.6 23.1Z" fill="#4db8e8"/>
<path d="M331.2 25.6L326.8 23.1L326.8 18.0L331.2 15.4L335.6 17.9L335.6 23.1Z" fill="#4db8e8"/>
<path d="M324.3 33.1L319.9 30.6L319.9 25.5L324.3 22.9L328.7 25.4L328.7 30.6Z" fill="#4db8e8"/>
<path d="M317.3 55.6L312.9 53.1L312.9 48.0L317.3 45.4L321.7 47.9L321.7 53.0Z" fill="#4db8e8"/>
<path d="M310.4 101.6L306.0 99.0L306.0 94.0L310.4 91.4L314.8 94.0L314.8 99.0Z" fill="#4db8e8"/>
<path d="M303.5 176.9L299.0 174.4L299.0 169.2L303.5 166.7L307.9 169.2L307.9 174.4Z" fill="#4db8e8"/>
<path d="M296.5 311.0L292.1 308.4L292.1 303.3L296.5 300.8L300.9 303.3L300.9 308.4Z" fill="#4db8e8"/>
<path d="M289.6 509.5L285.2 506.9L285.2 501.8L289.6 499.3L294.0 501.8L294.0 506.9Z" fill="#4db8e8"/>
<path d="M678.1 20.5L685.1 20.5L692.0 20.5L698.9 20.5L705.9 20.5L712.8 20.5L719.8 20.5L726.7 20.5L733.6 20.5L740.6 20.5L747.5 20.5L754.4 20.5L761.4 20.5L768.3 20.5L775.3 20.5L782.2 20.5L789.1 20.5L796.1 20.5L803.0 23.0L810.0 44.3L816.9 85.5L823.8 129.4L830.8 150.5L837.7 171.2L844.6 188.0L851.6 208.7L858.5 224.6L865.5 250.7L872.4 273.3L879.3 309.6L886.3 327.3L893.2 375.8L900.2 405.0L907.1 450.8L914.0 472.7L921.0 573.0" stroke="#4db8e8" stroke-width="2.8" fill="none" stroke-linejoin="round"/>
<path d="M678.1 25.6L673.7 23.1L673.7 18.0L678.1 15.4L682.5 17.9L682.5 23.1Z" fill="#4db8e8"/>
<path d="M685.1 25.6L680.6 23.1L680.6 18.0L685.1 15.4L689.5 17.9L689.5 23.1Z" fill="#4db8e8"/>
<path d="M692.0 25.6L687.6 23.1L687.6 18.0L692.0 15.4L696.4 17.9L696.4 23.1Z" fill="#4db8e8"/>
<path d="M698.9 25.6L694.5 23.1L694.5 18.0L698.9 15.4L703.4 17.9L703.4 23.1Z" fill="#4db8e8"/>
<path d="M705.9 25.6L701.5 23.1L701.5 18.0L705.9 15.4L710.3 17.9L710.3 23.1Z" fill="#4db8e8"/>
<path d="M712.8 25.6L708.4 23.1L708.4 18.0L712.8 15.4L717.2 17.9L717.2 23.1Z" fill="#4db8e8"/>
<path d="M719.8 25.6L715.3 23.1L715.3 18.0L719.8 15.4L724.2 17.9L724.2 23.1Z" fill="#4db8e8"/>
<path d="M726.7 25.6L722.3 23.1L722.3 18.0L726.7 15.4L731.1 17.9L731.1 23.1Z" fill="#4db8e8"/>
<path d="M733.6 25.6L729.2 23.1L729.2 18.0L733.6 15.4L738.0 17.9L738.0 23.1Z" fill="#4db8e8"/>
<path d="M740.6 25.6L736.2 23.1L736.2 18.0L740.6 15.4L745.0 17.9L745.0 23.1Z" fill="#4db8e8"/>
<path d="M747.5 25.6L743.1 23.1L743.1 18.0L747.5 15.4L751.9 17.9L751.9 23.1Z" fill="#4db8e8"/>
<path d="M754.4 25.6L750.0 23.1L750.0 18.0L754.4 15.4L758.9 17.9L758.9 23.1Z" fill="#4db8e8"/>
<path d="M761.4 25.6L757.0 23.1L757.0 18.0L761.4 15.4L765.8 17.9L765.8 23.1Z" fill="#4db8e8"/>
<path d="M768.3 25.6L763.9 23.1L763.9 18.0L768.3 15.4L772.7 17.9L772.7 23.1Z" fill="#4db8e8"/>
<path d="M775.3 25.6L770.8 23.1L770.8 18.0L775.3 15.4L779.7 17.9L779.7 23.1Z" fill="#4db8e8"/>
<path d="M782.2 25.6L777.8 23.1L777.8 18.0L782.2 15.4L786.6 17.9L786.6 23.1Z" fill="#4db8e8"/>
<path d="M789.1 25.6L784.7 23.1L784.7 18.0L789.1 15.4L793.6 17.9L793.6 23.1Z" fill="#4db8e8"/>
<path d="M796.1 25.6L791.7 23.1L791.7 18.0L796.1 15.4L800.5 17.9L800.5 23.1Z" fill="#4db8e8"/>
<path d="M803.0 28.1L798.6 25.6L798.6 20.5L803.0 17.9L807.4 20.4L807.4 25.6Z" fill="#4db8e8"/>
<path d="M810.0 49.4L805.5 46.9L805.5 41.8L810.0 39.2L814.4 41.7L814.4 46.8Z" fill="#4db8e8"/>
<path d="M816.9 90.6L812.5 88.0L812.5 83.0L816.9 80.4L821.3 83.0L821.3 88.0Z" fill="#4db8e8"/>
<path d="M823.8 134.5L819.4 132.0L819.4 126.9L823.8 124.3L828.2 126.9L828.2 132.0Z" fill="#4db8e8"/>
<path d="M830.8 155.6L826.4 153.1L826.4 147.9L830.8 145.4L835.2 147.9L835.2 153.1Z" fill="#4db8e8"/>
<path d="M837.7 176.3L833.3 173.8L833.3 168.6L837.7 166.1L842.1 168.6L842.1 173.8Z" fill="#4db8e8"/>
<path d="M844.6 193.1L840.2 190.6L840.2 185.4L844.6 182.9L849.1 185.4L849.1 190.6Z" fill="#4db8e8"/>
<path d="M851.6 213.8L847.2 211.2L847.2 206.1L851.6 203.6L856.0 206.1L856.0 211.2Z" fill="#4db8e8"/>
<path d="M858.5 229.7L854.1 227.2L854.1 222.0L858.5 219.5L862.9 222.0L862.9 227.2Z" fill="#4db8e8"/>
<path d="M865.5 255.8L861.0 253.2L861.0 248.1L865.5 245.6L869.9 248.1L869.9 253.2Z" fill="#4db8e8"/>
<path d="M872.4 278.4L868.0 275.9L868.0 270.8L872.4 268.2L876.8 270.8L876.8 275.9Z" fill="#4db8e8"/>
<path d="M879.3 314.7L874.9 312.2L874.9 307.1L879.3 304.5L883.8 307.1L883.8 312.2Z" fill="#4db8e8"/>
<path d="M886.3 332.4L881.9 329.9L881.9 324.8L886.3 322.2L890.7 324.8L890.7 329.9Z" fill="#4db8e8"/>
<path d="M893.2 380.9L888.8 378.4L888.8 373.2L893.2 370.7L897.6 373.2L897.6 378.4Z" fill="#4db8e8"/>
<path d="M900.2 410.1L895.7 407.6L895.7 402.4L900.2 399.9L904.6 402.4L904.6 407.6Z" fill="#4db8e8"/>
<path d="M907.1 455.9L902.7 453.4L902.7 448.2L907.1 445.7L911.5 448.2L911.5 453.4Z" fill="#4db8e8"/>
<path d="M914.0 477.8L909.6 475.2L909.6 470.1L914.0 467.6L918.4 470.1L918.4 475.2Z" fill="#4db8e8"/>
<path d="M921.0 578.1L916.5 575.5L916.5 570.5L921.0 567.9L925.4 570.5L925.4 575.5Z" fill="#4db8e8"/>
<path d="M934.8 645.7L930.4 643.1L930.4 638.1L934.8 635.5L939.3 638.1L939.3 643.1Z" fill="#4db8e8"/>
<path d="M470.0 20.5L463.0 20.5L456.1 20.5L449.2 20.5L442.2 20.5L435.3 20.5L428.3 20.5L421.4 20.5L414.5 20.5L407.5 20.5L400.6 20.5L393.7 20.5L386.7 20.5L379.8 20.5L372.8 20.5L365.9 20.5L359.0 20.5L352.0 20.5L345.1 20.5L338.1 20.5L331.2 22.0L324.3 28.6L317.3 57.6L310.4 109.3L303.5 199.5L296.5 361.5L289.6 640.5" stroke="#33ee33" stroke-width="2.8" fill="none" stroke-linejoin="round"/>
<path d="M470.0 15.2L475.0 18.9L473.1 24.8L466.9 24.8L464.9 18.9Z" fill="#33ee33"/>
<path d="M463.0 15.2L468.1 18.9L466.2 24.8L459.9 24.8L458.0 18.9Z" fill="#33ee33"/>
<path d="M456.1 15.2L461.1 18.9L459.2 24.8L453.0 24.8L451.1 18.9Z" fill="#33ee33"/>
<path d="M449.2 15.2L454.2 18.9L452.3 24.8L446.0 24.8L444.1 18.9Z" fill="#33ee33"/>
<path d="M442.2 15.2L447.3 18.9L445.3 24.8L439.1 24.8L437.2 18.9Z" fill="#33ee33"/>
<path d="M435.3 15.2L440.3 18.9L438.4 24.8L432.2 24.8L430.2 18.9Z" fill="#33ee33"/>
<path d="M428.3 15.2L433.4 18.9L431.5 24.8L425.2 24.8L423.3 18.9Z" fill="#33ee33"/>
<path d="M421.4 15.2L426.4 18.9L424.5 24.8L418.3 24.8L416.4 18.9Z" fill="#33ee33"/>
<path d="M414.5 15.2L419.5 18.9L417.6 24.8L411.4 24.8L409.4 18.9Z" fill="#33ee33"/>
<path d="M407.5 15.2L412.6 18.9L410.6 24.8L404.4 24.8L402.5 18.9Z" fill="#33ee33"/>
<path d="M400.6 15.2L405.6 18.9L403.7 24.8L397.5 24.8L395.6 18.9Z" fill="#33ee33"/>
<path d="M393.7 15.2L398.7 18.9L396.8 24.8L390.5 24.8L388.6 18.9Z" fill="#33ee33"/>
<path d="M386.7 15.2L391.8 18.9L389.8 24.8L383.6 24.8L381.7 18.9Z" fill="#33ee33"/>
<path d="M379.8 15.2L384.8 18.9L382.9 24.8L376.7 24.8L374.7 18.9Z" fill="#33ee33"/>
<path d="M372.8 15.2L377.9 18.9L376.0 24.8L369.7 24.8L367.8 18.9Z" fill="#33ee33"/>
<path d="M365.9 15.2L370.9 18.9L369.0 24.8L362.8 24.8L360.9 18.9Z" fill="#33ee33"/>
<path d="M359.0 15.2L364.0 18.9L362.1 24.8L355.8 24.8L353.9 18.9Z" fill="#33ee33"/>
<path d="M352.0 15.2L357.1 18.9L355.1 24.8L348.9 24.8L347.0 18.9Z" fill="#33ee33"/>
<path d="M345.1 15.2L350.1 18.9L348.2 24.8L342.0 24.8L340.0 18.9Z" fill="#33ee33"/>
<path d="M338.1 15.2L343.2 18.9L341.3 24.8L335.0 24.8L333.1 18.9Z" fill="#33ee33"/>
<path d="M331.2 16.7L336.2 20.4L334.3 26.3L328.1 26.3L326.2 20.4Z" fill="#33ee33"/>
<path d="M324.3 23.3L329.3 27.0L327.4 32.9L321.2 32.9L319.2 27.0Z" fill="#33ee33"/>
<path d="M317.3 52.3L322.4 56.0L320.4 61.9L314.2 61.9L312.3 56.0Z" fill="#33ee33"/>
<path d="M310.4 104.0L315.4 107.7L313.5 113.6L307.3 113.6L305.4 107.7Z" fill="#33ee33"/>
<path d="M303.5 194.2L308.5 197.9L306.6 203.8L300.3 203.8L298.4 197.9Z" fill="#33ee33"/>
<path d="M296.5 356.2L301.6 359.9L299.6 365.8L293.4 365.8L291.5 359.9Z" fill="#33ee33"/>
<path d="M289.6 635.2L294.6 638.9L292.7 644.8L286.5 644.8L284.5 638.9Z" fill="#33ee33"/>
<path d="M678.1 20.5L685.1 20.5L692.0 20.5L698.9 20.5L705.9 20.5L712.8 20.5L719.8 20.5L726.7 20.5L733.6 20.5L740.6 20.5L747.5 20.5L754.4 20.5L761.4 20.5L768.3 20.5L775.3 20.5L782.2 20.5L789.1 20.5L796.1 20.5L803.0 23.5L810.0 46.5L816.9 99.1L823.8 137.0L830.8 164.3L837.7 180.1L844.6 199.0L851.6 229.5L858.5 243.3L865.5 272.8L872.4 304.6L879.3 333.7L886.3 372.0L893.2 429.1L900.2 461.8L907.1 498.2L914.0 539.0L921.0 611.1" stroke="#33ee33" stroke-width="2.8" fill="none" stroke-linejoin="round"/>
<path d="M678.1 15.2L683.2 18.9L681.2 24.8L675.0 24.8L673.1 18.9Z" fill="#33ee33"/>
<path d="M685.1 15.2L690.1 18.9L688.2 24.8L681.9 24.8L680.0 18.9Z" fill="#33ee33"/>
<path d="M692.0 15.2L697.0 18.9L695.1 24.8L688.9 24.8L687.0 18.9Z" fill="#33ee33"/>
<path d="M698.9 15.2L704.0 18.9L702.1 24.8L695.8 24.8L693.9 18.9Z" fill="#33ee33"/>
<path d="M705.9 15.2L710.9 18.9L709.0 24.8L702.8 24.8L700.8 18.9Z" fill="#33ee33"/>
<path d="M712.8 15.2L717.9 18.9L715.9 24.8L709.7 24.8L707.8 18.9Z" fill="#33ee33"/>
<path d="M719.8 15.2L724.8 18.9L722.9 24.8L716.6 24.8L714.7 18.9Z" fill="#33ee33"/>
<path d="M726.7 15.2L731.7 18.9L729.8 24.8L723.6 24.8L721.7 18.9Z" fill="#33ee33"/>
<path d="M733.6 15.2L738.7 18.9L736.7 24.8L730.5 24.8L728.6 18.9Z" fill="#33ee33"/>
<path d="M740.6 15.2L745.6 18.9L743.7 24.8L737.5 24.8L735.5 18.9Z" fill="#33ee33"/>
<path d="M747.5 15.2L752.5 18.9L750.6 24.8L744.4 24.8L742.5 18.9Z" fill="#33ee33"/>
<path d="M754.4 15.2L759.5 18.9L757.6 24.8L751.3 24.8L749.4 18.9Z" fill="#33ee33"/>
<path d="M761.4 15.2L766.4 18.9L764.5 24.8L758.3 24.8L756.3 18.9Z" fill="#33ee33"/>
<path d="M768.3 15.2L773.4 18.9L771.4 24.8L765.2 24.8L763.3 18.9Z" fill="#33ee33"/>
<path d="M775.3 15.2L780.3 18.9L778.4 24.8L772.1 24.8L770.2 18.9Z" fill="#33ee33"/>
<path d="M782.2 15.2L787.2 18.9L785.3 24.8L779.1 24.8L777.2 18.9Z" fill="#33ee33"/>
<path d="M789.1 15.2L794.2 18.9L792.3 24.8L786.0 24.8L784.1 18.9Z" fill="#33ee33"/>
<path d="M796.1 15.2L801.1 18.9L799.2 24.8L793.0 24.8L791.0 18.9Z" fill="#33ee33"/>
<path d="M803.0 18.2L808.1 21.9L806.1 27.8L799.9 27.8L798.0 21.9Z" fill="#33ee33"/>
<path d="M810.0 41.2L815.0 44.9L813.1 50.8L806.8 50.8L804.9 44.9Z" fill="#33ee33"/>
<path d="M816.9 93.8L821.9 97.5L820.0 103.4L813.8 103.4L811.9 97.5Z" fill="#33ee33"/>
<path d="M823.8 131.7L828.9 135.4L826.9 141.3L820.7 141.3L818.8 135.4Z" fill="#33ee33"/>
<path d="M830.8 159.0L835.8 162.7L833.9 168.6L827.7 168.6L825.7 162.7Z" fill="#33ee33"/>
<path d="M837.7 174.8L842.7 178.5L840.8 184.4L834.6 184.4L832.7 178.5Z" fill="#33ee33"/>
<path d="M844.6 193.7L849.7 197.4L847.8 203.3L841.5 203.3L839.6 197.4Z" fill="#33ee33"/>
<path d="M851.6 224.2L856.6 227.9L854.7 233.8L848.5 233.8L846.5 227.9Z" fill="#33ee33"/>
<path d="M858.5 238.0L863.6 241.7L861.6 247.6L855.4 247.6L853.5 241.7Z" fill="#33ee33"/>
<path d="M865.5 267.5L870.5 271.2L868.6 277.1L862.3 277.1L860.4 271.2Z" fill="#33ee33"/>
<path d="M872.4 299.3L877.4 303.0L875.5 308.9L869.3 308.9L867.4 303.0Z" fill="#33ee33"/>
<path d="M879.3 328.4L884.4 332.1L882.5 338.0L876.2 338.0L874.3 332.1Z" fill="#33ee33"/>
<path d="M886.3 366.7L891.3 370.4L889.4 376.3L883.2 376.3L881.2 370.4Z" fill="#33ee33"/>
<path d="M893.2 423.8L898.3 427.5L896.3 433.4L890.1 433.4L888.2 427.5Z" fill="#33ee33"/>
<path d="M900.2 456.5L905.2 460.2L903.3 466.1L897.0 466.1L895.1 460.2Z" fill="#33ee33"/>
<path d="M907.1 492.9L912.1 496.6L910.2 502.5L904.0 502.5L902.0 496.6Z" fill="#33ee33"/>
<path d="M914.0 533.7L919.1 537.4L917.1 543.3L910.9 543.3L909.0 537.4Z" fill="#33ee33"/>
<path d="M921.0 605.8L926.0 609.5L924.1 615.4L917.9 615.4L915.9 609.5Z" fill="#33ee33"/>
<path d="M470.0 20.5L463.0 20.5L456.1 20.5L449.2 20.5L442.2 20.5L435.3 20.5L428.3 20.5L421.4 20.5L414.5 20.5L407.5 20.5L400.6 20.5L393.7 20.5L386.7 20.5L379.8 20.5L372.8 20.5L365.9 20.5L359.0 20.5L352.0 20.5L345.1 20.5L338.1 20.5L331.2 24.0L324.3 35.0L317.3 63.0L310.4 124.5L303.5 227.0L296.5 396.5L289.6 574.2" stroke="#800000" stroke-width="2.8" fill="none" stroke-linejoin="round"/>
<path d="M463.5 20.5L473.2 14.9L473.2 26.1Z" fill="#800000"/>
<path d="M456.6 20.5L466.3 14.9L466.3 26.1Z" fill="#800000"/>
<path d="M449.6 20.5L459.3 14.9L459.3 26.1Z" fill="#800000"/>
<path d="M442.7 20.5L452.4 14.9L452.4 26.1Z" fill="#800000"/>
<path d="M435.8 20.5L445.5 14.9L445.5 26.1Z" fill="#800000"/>
<path d="M428.8 20.5L438.5 14.9L438.5 26.1Z" fill="#800000"/>
<path d="M421.9 20.5L431.6 14.9L431.6 26.1Z" fill="#800000"/>
<path d="M414.9 20.5L424.6 14.9L424.6 26.1Z" fill="#800000"/>
<path d="M408.0 20.5L417.7 14.9L417.7 26.1Z" fill="#800000"/>
<path d="M401.1 20.5L410.8 14.9L410.8 26.1Z" fill="#800000"/>
<path d="M394.1 20.5L403.8 14.9L403.8 26.1Z" fill="#800000"/>
<path d="M387.2 20.5L396.9 14.9L396.9 26.1Z" fill="#800000"/>
<path d="M380.2 20.5L389.9 14.9L389.9 26.1Z" fill="#800000"/>
<path d="M373.3 20.5L383.0 14.9L383.0 26.1Z" fill="#800000"/>
<path d="M366.4 20.5L376.1 14.9L376.1 26.1Z" fill="#800000"/>
<path d="M359.4 20.5L369.1 14.9L369.1 26.1Z" fill="#800000"/>
<path d="M352.5 20.5L362.2 14.9L362.2 26.1Z" fill="#800000"/>
<path d="M345.6 20.5L355.3 14.9L355.3 26.1Z" fill="#800000"/>
<path d="M338.6 20.5L348.3 14.9L348.3 26.1Z" fill="#800000"/>
<path d="M331.7 20.5L341.4 14.9L341.4 26.1Z" fill="#800000"/>
<path d="M324.7 24.0L334.4 18.4L334.4 29.6Z" fill="#800000"/>
<path d="M317.8 35.0L327.5 29.4L327.5 40.6Z" fill="#800000"/>
<path d="M310.9 63.0L320.6 57.4L320.6 68.6Z" fill="#800000"/>
<path d="M303.9 124.5L313.6 118.9L313.6 130.1Z" fill="#800000"/>
<path d="M297.0 227.0L306.7 221.4L306.7 232.6Z" fill="#800000"/>
<path d="M290.1 396.5L299.8 390.9L299.8 402.1Z" fill="#800000"/>
<path d="M283.1 574.2L292.8 568.6L292.8 579.8Z" fill="#800000"/>
<path d="M678.1 20.5L685.1 20.5L692.0 20.5L698.9 20.5L705.9 20.5L712.8 20.5L719.8 20.5L726.7 20.5L733.6 20.5L740.6 20.5L747.5 20.5L754.4 20.5L761.4 20.5L768.3 20.5L775.3 20.5L782.2 20.5L789.1 20.5L796.1 20.5L803.0 25.0L810.0 52.0L816.9 110.2L823.8 152.5L830.8 175.2L837.7 195.0L844.6 217.0L851.6 242.3L858.5 272.8L865.5 303.2L872.4 329.3L879.3 370.6L886.3 390.2L893.2 477.5L900.2 523.0L907.1 549.6L914.0 640.6" stroke="#800000" stroke-width="2.8" fill="none" stroke-linejoin="round"/>
<path d="M671.7 20.5L681.4 14.9L681.4 26.1Z" fill="#800000"/>
<path d="M678.6 20.5L688.3 14.9L688.3 26.1Z" fill="#800000"/>
<path d="M685.5 20.5L695.2 14.9L695.2 26.1Z" fill="#800000"/>
<path d="M692.5 20.5L702.2 14.9L702.2 26.1Z" fill="#800000"/>
<path d="M699.4 20.5L709.1 14.9L709.1 26.1Z" fill="#800000"/>
<path d="M706.4 20.5L716.1 14.9L716.1 26.1Z" fill="#800000"/>
<path d="M713.3 20.5L723.0 14.9L723.0 26.1Z" fill="#800000"/>
<path d="M720.2 20.5L729.9 14.9L729.9 26.1Z" fill="#800000"/>
<path d="M727.2 20.5L736.9 14.9L736.9 26.1Z" fill="#800000"/>
<path d="M734.1 20.5L743.8 14.9L743.8 26.1Z" fill="#800000"/>
<path d="M741.0 20.5L750.7 14.9L750.7 26.1Z" fill="#800000"/>
<path d="M748.0 20.5L757.7 14.9L757.7 26.1Z" fill="#800000"/>
<path d="M754.9 20.5L764.6 14.9L764.6 26.1Z" fill="#800000"/>
<path d="M761.9 20.5L771.6 14.9L771.6 26.1Z" fill="#800000"/>
<path d="M768.8 20.5L778.5 14.9L778.5 26.1Z" fill="#800000"/>
<path d="M775.7 20.5L785.4 14.9L785.4 26.1Z" fill="#800000"/>
<path d="M782.7 20.5L792.4 14.9L792.4 26.1Z" fill="#800000"/>
<path d="M789.6 20.5L799.3 14.9L799.3 26.1Z" fill="#800000"/>
<path d="M796.5 25.0L806.2 19.4L806.2 30.6Z" fill="#800000"/>
<path d="M803.5 52.0L813.2 46.4L813.2 57.6Z" fill="#800000"/>
<path d="M810.4 110.2L820.1 104.6L820.1 115.8Z" fill="#800000"/>
<path d="M817.4 152.5L827.1 146.9L827.1 158.1Z" fill="#800000"/>
<path d="M824.3 175.2L834.0 169.6L834.0 180.8Z" fill="#800000"/>
<path d="M831.2 195.0L840.9 189.4L840.9 200.6Z" fill="#800000"/>
<path d="M838.2 217.0L847.9 211.4L847.9 222.6Z" fill="#800000"/>
<path d="M845.1 242.3L854.8 236.7L854.8 247.9Z" fill="#800000"/>
<path d="M852.1 272.8L861.8 267.2L861.8 278.4Z" fill="#800000"/>
<path d="M859.0 303.2L868.7 297.6L868.7 308.8Z" fill="#800000"/>
<path d="M865.9 329.3L875.6 323.7L875.6 334.9Z" fill="#800000"/>
<path d="M872.9 370.6L882.6 365.0L882.6 376.2Z" fill="#800000"/>
<path d="M879.8 390.2L889.5 384.6L889.5 395.8Z" fill="#800000"/>
<path d="M886.7 477.5L896.4 471.9L896.4 483.1Z" fill="#800000"/>
<path d="M893.7 523.0L903.4 517.4L903.4 528.6Z" fill="#800000"/>
<path d="M900.6 549.6L910.3 544.0L910.3 555.2Z" fill="#800000"/>
<path d="M907.6 640.6L917.3 635.0L917.3 646.2Z" fill="#800000"/>
<path d="M470.0 20.5L463.0 20.5L456.1 20.5L449.2 20.5L442.2 20.5L435.3 20.5L428.3 20.5L421.4 20.5L414.5 20.5L407.5 20.5L400.6 20.5L393.7 20.5L386.7 20.5L379.8 20.5L372.8 20.5L365.9 20.5L359.0 20.5L352.0 20.5L345.1 20.5L338.1 20.5L331.2 25.0L324.3 36.9L317.3 69.4L310.4 135.0L303.5 255.4L296.5 434.8" stroke="#dd55cc" stroke-width="2.8" fill="none" stroke-linejoin="round"/>
<path d="M476.4 20.5L466.7 14.9L466.7 26.1Z" fill="#dd55cc"/>
<path d="M469.5 20.5L459.8 14.9L459.8 26.1Z" fill="#dd55cc"/>
<path d="M462.6 20.5L452.9 14.9L452.9 26.1Z" fill="#dd55cc"/>
<path d="M455.6 20.5L445.9 14.9L445.9 26.1Z" fill="#dd55cc"/>
<path d="M448.7 20.5L439.0 14.9L439.0 26.1Z" fill="#dd55cc"/>
<path d="M441.7 20.5L432.0 14.9L432.0 26.1Z" fill="#dd55cc"/>
<path d="M434.8 20.5L425.1 14.9L425.1 26.1Z" fill="#dd55cc"/>
<path d="M427.9 20.5L418.2 14.9L418.2 26.1Z" fill="#dd55cc"/>
<path d="M420.9 20.5L411.2 14.9L411.2 26.1Z" fill="#dd55cc"/>
<path d="M414.0 20.5L404.3 14.9L404.3 26.1Z" fill="#dd55cc"/>
<path d="M407.1 20.5L397.4 14.9L397.4 26.1Z" fill="#dd55cc"/>
<path d="M400.1 20.5L390.4 14.9L390.4 26.1Z" fill="#dd55cc"/>
<path d="M393.2 20.5L383.5 14.9L383.5 26.1Z" fill="#dd55cc"/>
<path d="M386.2 20.5L376.5 14.9L376.5 26.1Z" fill="#dd55cc"/>
<path d="M379.3 20.5L369.6 14.9L369.6 26.1Z" fill="#dd55cc"/>
<path d="M372.4 20.5L362.7 14.9L362.7 26.1Z" fill="#dd55cc"/>
<path d="M365.4 20.5L355.7 14.9L355.7 26.1Z" fill="#dd55cc"/>
<path d="M358.5 20.5L348.8 14.9L348.8 26.1Z" fill="#dd55cc"/>
<path d="M351.6 20.5L341.9 14.9L341.9 26.1Z" fill="#dd55cc"/>
<path d="M344.6 20.5L334.9 14.9L334.9 26.1Z" fill="#dd55cc"/>
<path d="M337.7 25.0L328.0 19.4L328.0 30.6Z" fill="#dd55cc"/>
<path d="M330.7 36.9L321.0 31.3L321.0 42.5Z" fill="#dd55cc"/>
<path d="M323.8 69.4L314.1 63.8L314.1 75.0Z" fill="#dd55cc"/>
<path d="M316.9 135.0L307.2 129.4L307.2 140.6Z" fill="#dd55cc"/>
<path d="M309.9 255.4L300.2 249.8L300.2 261.0Z" fill="#dd55cc"/>
<path d="M303.0 434.8L293.3 429.2L293.3 440.4Z" fill="#dd55cc"/>
<path d="M678.1 20.5L685.1 20.5L692.0 20.5L698.9 20.5L705.9 20.5L712.8 20.5L719.8 20.5L726.7 20.5L733.6 20.5L740.6 20.5L747.5 20.5L754.4 20.5L761.4 20.5L768.3 20.5L775.3 20.5L782.2 20.5L789.1 20.5L796.1 20.5L803.0 26.0L810.0 55.8L816.9 117.3L823.8 164.3L830.8 196.0L837.7 217.6L844.6 238.8L851.6 269.9L858.5 284.3L865.5 333.7L872.4 350.0L879.3 402.0L886.3 445.0L893.2 480.4L900.2 590.0L907.1 611.1L914.0 691.0" stroke="#dd55cc" stroke-width="2.8" fill="none" stroke-linejoin="round"/>
<path d="M684.6 20.5L674.9 14.9L674.9 26.1Z" fill="#dd55cc"/>
<path d="M691.5 20.5L681.8 14.9L681.8 26.1Z" fill="#dd55cc"/>
<path d="M698.5 20.5L688.8 14.9L688.8 26.1Z" fill="#dd55cc"/>
<path d="M705.4 20.5L695.7 14.9L695.7 26.1Z" fill="#dd55cc"/>
<path d="M712.3 20.5L702.6 14.9L702.6 26.1Z" fill="#dd55cc"/>
<path d="M719.3 20.5L709.6 14.9L709.6 26.1Z" fill="#dd55cc"/>
<path d="M726.2 20.5L716.5 14.9L716.5 26.1Z" fill="#dd55cc"/>
<path d="M733.2 20.5L723.5 14.9L723.5 26.1Z" fill="#dd55cc"/>
<path d="M740.1 20.5L730.4 14.9L730.4 26.1Z" fill="#dd55cc"/>
<path d="M747.0 20.5L737.3 14.9L737.3 26.1Z" fill="#dd55cc"/>
<path d="M754.0 20.5L744.3 14.9L744.3 26.1Z" fill="#dd55cc"/>
<path d="M760.9 20.5L751.2 14.9L751.2 26.1Z" fill="#dd55cc"/>
<path d="M767.9 20.5L758.2 14.9L758.2 26.1Z" fill="#dd55cc"/>
<path d="M774.8 20.5L765.1 14.9L765.1 26.1Z" fill="#dd55cc"/>
<path d="M781.7 20.5L772.0 14.9L772.0 26.1Z" fill="#dd55cc"/>
<path d="M788.7 20.5L779.0 14.9L779.0 26.1Z" fill="#dd55cc"/>
<path d="M795.6 20.5L785.9 14.9L785.9 26.1Z" fill="#dd55cc"/>
<path d="M802.5 20.5L792.8 14.9L792.8 26.1Z" fill="#dd55cc"/>
<path d="M809.5 26.0L799.8 20.4L799.8 31.6Z" fill="#dd55cc"/>
<path d="M816.4 55.8L806.7 50.2L806.7 61.4Z" fill="#dd55cc"/>
<path d="M823.4 117.3L813.7 111.7L813.7 122.9Z" fill="#dd55cc"/>
<path d="M830.3 164.3L820.6 158.7L820.6 169.9Z" fill="#dd55cc"/>
<path d="M837.2 196.0L827.5 190.4L827.5 201.6Z" fill="#dd55cc"/>
<path d="M844.2 217.6L834.5 212.0L834.5 223.2Z" fill="#dd55cc"/>
<path d="M851.1 238.8L841.4 233.2L841.4 244.4Z" fill="#dd55cc"/>
<path d="M858.1 269.9L848.4 264.3L848.4 275.5Z" fill="#dd55cc"/>
<path d="M865.0 284.3L855.3 278.7L855.3 289.9Z" fill="#dd55cc"/>
<path d="M871.9 333.7L862.2 328.1L862.2 339.3Z" fill="#dd55cc"/>
<path d="M878.9 350.0L869.2 344.4L869.2 355.6Z" fill="#dd55cc"/>
<path d="M885.8 402.0L876.1 396.4L876.1 407.6Z" fill="#dd55cc"/>
<path d="M892.7 445.0L883.0 439.4L883.0 450.6Z" fill="#dd55cc"/>
<path d="M899.7 480.4L890.0 474.8L890.0 486.0Z" fill="#dd55cc"/>
<path d="M906.6 590.0L896.9 584.4L896.9 595.6Z" fill="#dd55cc"/>
<path d="M913.6 611.1L903.9 605.5L903.9 616.7Z" fill="#dd55cc"/>
<path d="M920.5 691.0L910.8 685.4L910.8 696.6Z" fill="#dd55cc"/>
<path d="M470.0 20.5L463.0 20.5L456.1 20.5L449.2 20.5L442.2 20.5L435.3 20.5L428.3 20.5L421.4 20.5L414.5 20.5L407.5 20.5L400.6 20.5L393.7 20.5L386.7 20.5L379.8 20.5L372.8 20.5L365.9 20.5L359.0 20.5L352.0 20.5L345.1 20.5L338.1 21.5L331.2 24.0L324.3 38.0L317.3 75.8L310.4 151.4L303.5 274.9L296.5 504.0" stroke="#ff8000" stroke-width="2.8" fill="none" stroke-linejoin="round"/>
<circle cx="470.0" cy="20.5" r="4.6" fill="#ff8000"/>
<circle cx="463.0" cy="20.5" r="4.6" fill="#ff8000"/>
<circle cx="456.1" cy="20.5" r="4.6" fill="#ff8000"/>
<circle cx="449.2" cy="20.5" r="4.6" fill="#ff8000"/>
<circle cx="442.2" cy="20.5" r="4.6" fill="#ff8000"/>
<circle cx="435.3" cy="20.5" r="4.6" fill="#ff8000"/>
<circle cx="428.3" cy="20.5" r="4.6" fill="#ff8000"/>
<circle cx="421.4" cy="20.5" r="4.6" fill="#ff8000"/>
<circle cx="414.5" cy="20.5" r="4.6" fill="#ff8000"/>
<circle cx="407.5" cy="20.5" r="4.6" fill="#ff8000"/>
<circle cx="400.6" cy="20.5" r="4.6" fill="#ff8000"/>
<circle cx="393.7" cy="20.5" r="4.6" fill="#ff8000"/>
<circle cx="386.7" cy="20.5" r="4.6" fill="#ff8000"/>
<circle cx="379.8" cy="20.5" r="4.6" fill="#ff8000"/>
<circle cx="372.8" cy="20.5" r="4.6" fill="#ff8000"/>
<circle cx="365.9" cy="20.5" r="4.6" fill="#ff8000"/>
<circle cx="359.0" cy="20.5" r="4.6" fill="#ff8000"/>
<circle cx="352.0" cy="20.5" r="4.6" fill="#ff8000"/>
<circle cx="345.1" cy="20.5" r="4.6" fill="#ff8000"/>
<circle cx="338.1" cy="21.5" r="4.6" fill="#ff8000"/>
<circle cx="331.2" cy="24.0" r="4.6" fill="#ff8000"/>
<circle cx="324.3" cy="38.0" r="4.6" fill="#ff8000"/>
<circle cx="317.3" cy="75.8" r="4.6" fill="#ff8000"/>
<circle cx="310.4" cy="151.4" r="4.6" fill="#ff8000"/>
<circle cx="303.5" cy="274.9" r="4.6" fill="#ff8000"/>
<circle cx="296.5" cy="504.0" r="4.6" fill="#ff8000"/>
<path d="M678.1 20.5L685.1 20.5L692.0 20.5L698.9 20.5L705.9 20.5L712.8 20.5L719.8 20.5L726.7 20.5L733.6 20.5L740.6 20.5L747.5 20.5L754.4 20.5L761.4 20.5L768.3 20.5L775.3 20.5L782.2 20.5L789.1 20.5L796.1 21.0L803.0 30.3L810.0 61.7L816.9 128.5L823.8 178.6L830.8 204.8L837.7 229.5L844.6 257.6L851.6 279.8L858.5 310.5L865.5 352.4L872.4 391.7L879.3 450.8L886.3 523.0L893.2 611.1L900.2 640.6L907.1 691.0" stroke="#ff8000" stroke-width="2.8" fill="none" stroke-linejoin="round"/>
<circle cx="678.1" cy="20.5" r="4.6" fill="#ff8000"/>
<circle cx="685.1" cy="20.5" r="4.6" fill="#ff8000"/>
<circle cx="692.0" cy="20.5" r="4.6" fill="#ff8000"/>
<circle cx="698.9" cy="20.5" r="4.6" fill="#ff8000"/>
<circle cx="705.9" cy="20.5" r="4.6" fill="#ff8000"/>
<circle cx="712.8" cy="20.5" r="4.6" fill="#ff8000"/>
<circle cx="719.8" cy="20.5" r="4.6" fill="#ff8000"/>
<circle cx="726.7" cy="20.5" r="4.6" fill="#ff8000"/>
<circle cx="733.6" cy="20.5" r="4.6" fill="#ff8000"/>
<circle cx="740.6" cy="20.5" r="4.6" fill="#ff8000"/>
<circle cx="747.5" cy="20.5" r="4.6" fill="#ff8000"/>
<circle cx="754.4" cy="20.5" r="4.6" fill="#ff8000"/>
<circle cx="761.4" cy="20.5" r="4.6" fill="#ff8000"/>
<circle cx="768.3" cy="20.5" r="4.6" fill="#ff8000"/>
<circle cx="775.3" cy="20.5" r="4.6" fill="#ff8000"/>
<circle cx="782.2" cy="20.5" r="4.6" fill="#ff8000"/>
<circle cx="789.1" cy="20.5" r="4.6" fill="#ff8000"/>
<circle cx="796.1" cy="21.0" r="4.6" fill="#ff8000"/>
<circle cx="803.0" cy="30.3" r="4.6" fill="#ff8000"/>
<circle cx="810.0" cy="61.7" r="4.6" fill="#ff8000"/>
<circle cx="816.9" cy="128.5" r="4.6" fill="#ff8000"/>
<circle cx="823.8" cy="178.6" r="4.6" fill="#ff8000"/>
<circle cx="830.8" cy="204.8" r="4.6" fill="#ff8000"/>
<circle cx="837.7" cy="229.5" r="4.6" fill="#ff8000"/>
<circle cx="844.6" cy="257.6" r="4.6" fill="#ff8000"/>
<circle cx="851.6" cy="279.8" r="4.6" fill="#ff8000"/>
<circle cx="858.5" cy="310.5" r="4.6" fill="#ff8000"/>
<circle cx="865.5" cy="352.4" r="4.6" fill="#ff8000"/>
<circle cx="872.4" cy="391.7" r="4.6" fill="#ff8000"/>
<circle cx="879.3" cy="450.8" r="4.6" fill="#ff8000"/>
<circle cx="886.3" cy="523.0" r="4.6" fill="#ff8000"/>
<circle cx="893.2" cy="611.1" r="4.6" fill="#ff8000"/>
<circle cx="900.2" cy="640.6" r="4.6" fill="#ff8000"/>
<circle cx="907.1" cy="691.0" r="4.6" fill="#ff8000"/></g>
<g transform="translate(129.18 20.50) scale(0.885 1.035)"><text x="0.00" y="0" font-size="29">0</text></g>
<g transform="translate(85.17 38.40) scale(0.92 1.035)"><path d="M10.81 0.00L10.81 -25.97L4.14 -21.21L4.14 -24.78L11.13 -29.58L14.61 -29.58L14.61 0.00Z" fill="#000" stroke="#000" stroke-width="0.6" stroke-linejoin="round"/><text x="23.91" y="0" font-size="43">0</text></g>
<g transform="translate(114.19 188.12) scale(0.885 1.035)"><path d="M24.23 0.00L24.23 -17.52L19.73 -14.30L19.73 -16.71L24.44 -19.95L26.79 -19.95L26.79 0.00Z" fill="#000" stroke="#000" stroke-width="0.6" stroke-linejoin="round"/><text x="0.00" y="0" font-size="29">−</text></g>
<g transform="translate(70.19 206.03) scale(0.92 1.035)"><path d="M10.81 0.00L10.81 -25.97L4.14 -21.21L4.14 -24.78L11.13 -29.58L14.61 -29.58L14.61 0.00Z" fill="#000" stroke="#000" stroke-width="0.6" stroke-linejoin="round"/><text x="23.91" y="0" font-size="43">0</text></g>
<g transform="translate(114.19 355.75) scale(0.885 1.035)"><text x="0.00" y="0" font-size="29">−2</text></g>
<g transform="translate(70.19 373.65) scale(0.92 1.035)"><path d="M10.81 0.00L10.81 -25.97L4.14 -21.21L4.14 -24.78L11.13 -29.58L14.61 -29.58L14.61 0.00Z" fill="#000" stroke="#000" stroke-width="0.6" stroke-linejoin="round"/><text x="23.91" y="0" font-size="43">0</text></g>
<g transform="translate(114.19 523.38) scale(0.885 1.035)"><text x="0.00" y="0" font-size="29">−3</text></g>
<g transform="translate(70.19 541.27) scale(0.92 1.035)"><path d="M10.81 0.00L10.81 -25.97L4.14 -21.21L4.14 -24.78L11.13 -29.58L14.61 -29.58L14.61 0.00Z" fill="#000" stroke="#000" stroke-width="0.6" stroke-linejoin="round"/><text x="23.91" y="0" font-size="43">0</text></g>
<g transform="translate(114.19 691.00) scale(0.885 1.035)"><text x="0.00" y="0" font-size="29">−4</text></g>
<g transform="translate(70.19 708.90) scale(0.92 1.035)"><path d="M10.81 0.00L10.81 -25.97L4.14 -21.21L4.14 -24.78L11.13 -29.58L14.61 -29.58L14.61 0.00Z" fill="#000" stroke="#000" stroke-width="0.6" stroke-linejoin="round"/><text x="23.91" y="0" font-size="43">0</text></g>
<g transform="translate(157.8 743.5) scale(0.9 1.035)"><text x="0" y="0" text-anchor="middle" font-size="43">−0.6</text></g>
<g transform="translate(296.5 743.5) scale(0.9 1.035)"><text x="0" y="0" text-anchor="middle" font-size="43">−0.4</text></g>
<g transform="translate(435.3 743.5) scale(0.9 1.035)"><text x="0" y="0" text-anchor="middle" font-size="43">−0.2</text></g>
<g transform="translate(574.1 743.5) scale(0.9 1.035)"><text x="0" y="0" text-anchor="middle" font-size="43">0.0</text></g>
<g transform="translate(712.8 743.5) scale(0.9 1.035)"><text x="0" y="0" text-anchor="middle" font-size="43">0.2</text></g>
<g transform="translate(851.6 743.5) scale(0.9 1.035)"><text x="0" y="0" text-anchor="middle" font-size="43">0.4</text></g>
<g transform="translate(990.4 743.5) scale(0.9 1.035)"><text x="0" y="0" text-anchor="middle" font-size="43">0.6</text></g>
<rect x="472.5" y="184.5" width="203.0" height="468.0" fill="#fff" stroke="#333" stroke-width="1.2"/>
<line x1="478" y1="210.6" x2="528.7" y2="210.6" stroke="#0000ff" stroke-width="2.8"/>
<circle cx="503.5" cy="210.6" r="4.6" fill="#0000ff"/>
<g transform="translate(542.40 225.30) scale(0.915 1.0)"><path d="M10.06 0.00L10.06 -24.16L3.85 -19.73L3.85 -23.05L10.35 -27.52L13.59 -27.52L13.59 0.00Z" fill="#000" stroke="#000" stroke-width="0.6" stroke-linejoin="round"/><text x="22.25" y="0" font-size="40">00</text></g>
<g transform="translate(615.90 225.30) scale(1.01 0.886)"><text x="0" y="0" font-size="38.5">ns</text></g>
<line x1="478" y1="256.7" x2="528.7" y2="256.7" stroke="#ff0000" stroke-width="2.8"/>
<path d="M503.5 250.2L509.1 259.9L497.9 259.9Z" fill="#ff0000"/>
<g transform="translate(542.40 271.38) scale(0.915 1.0)"><text x="0.00" y="0" font-size="40">200</text></g>
<g transform="translate(615.90 271.38) scale(1.01 0.886)"><text x="0" y="0" font-size="38.5">ns</text></g>
<line x1="478" y1="302.8" x2="528.7" y2="302.8" stroke="#009900" stroke-width="2.8"/>
<rect x="499.5" y="298.8" width="8.0" height="8.0" fill="#009900"/>
<g transform="translate(542.40 317.46) scale(0.915 1.0)"><text x="0.00" y="0" font-size="40">300</text></g>
<g transform="translate(615.90 317.46) scale(1.01 0.886)"><text x="0" y="0" font-size="38.5">ns</text></g>
<line x1="478" y1="348.8" x2="528.7" y2="348.8" stroke="#9933ff" stroke-width="2.8"/>
<path d="M503.5 343.2L509.1 348.8L503.5 354.4L497.9 348.8Z" fill="#9933ff"/>
<g transform="translate(542.40 363.54) scale(0.915 1.0)"><text x="0.00" y="0" font-size="40">400</text></g>
<g transform="translate(615.90 363.54) scale(1.01 0.886)"><text x="0" y="0" font-size="38.5">ns</text></g>
<line x1="478" y1="394.9" x2="528.7" y2="394.9" stroke="#d4a516" stroke-width="2.8"/>
<path d="M503.5 401.4L509.1 391.7L497.9 391.7Z" fill="#d4a516"/>
<g transform="translate(542.40 409.62) scale(0.915 1.0)"><text x="0.00" y="0" font-size="40">500</text></g>
<g transform="translate(615.90 409.62) scale(1.01 0.886)"><text x="0" y="0" font-size="38.5">ns</text></g>
<line x1="478" y1="441.0" x2="528.7" y2="441.0" stroke="#4db8e8" stroke-width="2.8"/>
<path d="M503.5 446.1L499.1 443.6L499.1 438.4L503.5 435.9L507.9 438.4L507.9 443.6Z" fill="#4db8e8"/>
<g transform="translate(542.40 455.70) scale(0.915 1.0)"><text x="0.00" y="0" font-size="40">600</text></g>
<g transform="translate(615.90 455.70) scale(1.01 0.886)"><text x="0" y="0" font-size="38.5">ns</text></g>
<line x1="478" y1="487.1" x2="528.7" y2="487.1" stroke="#33ee33" stroke-width="2.8"/>
<path d="M503.5 481.8L508.5 485.4L506.6 491.4L500.4 491.4L498.5 485.4Z" fill="#33ee33"/>
<g transform="translate(542.40 501.78) scale(0.915 1.0)"><text x="0.00" y="0" font-size="40">700</text></g>
<g transform="translate(615.90 501.78) scale(1.01 0.886)"><text x="0" y="0" font-size="38.5">ns</text></g>
<line x1="478" y1="533.2" x2="528.7" y2="533.2" stroke="#800000" stroke-width="2.8"/>
<path d="M497.0 533.2L506.7 527.6L506.7 538.8Z" fill="#800000"/>
<g transform="translate(542.40 547.86) scale(0.915 1.0)"><text x="0.00" y="0" font-size="40">800</text></g>
<g transform="translate(615.90 547.86) scale(1.01 0.886)"><text x="0" y="0" font-size="38.5">ns</text></g>
<line x1="478" y1="579.2" x2="528.7" y2="579.2" stroke="#dd55cc" stroke-width="2.8"/>
<path d="M510.0 579.2L500.3 573.6L500.3 584.8Z" fill="#dd55cc"/>
<g transform="translate(542.40 593.94) scale(0.915 1.0)"><text x="0.00" y="0" font-size="40">900</text></g>
<g transform="translate(615.90 593.94) scale(1.01 0.886)"><text x="0" y="0" font-size="38.5">ns</text></g>
<line x1="478" y1="625.3" x2="528.7" y2="625.3" stroke="#ff8000" stroke-width="2.8"/>
<circle cx="503.5" cy="625.3" r="4.6" fill="#ff8000"/>
<g transform="translate(542.40 640.02) scale(0.915 1.0)"><path d="M10.06 0.00L10.06 -24.16L3.85 -19.73L3.85 -23.05L10.35 -27.52L13.59 -27.52L13.59 0.00Z" fill="#000" stroke="#000" stroke-width="0.6" stroke-linejoin="round"/></g>
<g transform="translate(574.30 640.02) scale(1.01 0.886)"><text x="0" y="0" font-size="38.5">μs</text></g>
<text x="479.5" y="107.0" font-size="37" letter-spacing="0.72">Device size</text>
<g transform="translate(493.90 152.70) scale(0.918 1.0)"><path d="M10.06 0.00L10.06 -24.16L3.85 -19.73L3.85 -23.05L10.35 -27.52L13.59 -27.52L13.59 0.00Z" fill="#000" stroke="#000" stroke-width="0.6" stroke-linejoin="round"/><text x="22.25" y="0" font-size="40">20</text></g>
<g transform="translate(565.80 152.70) scale(0.977 0.92)"><text x="0" y="0" font-size="38.5">nm</text></g>
<rect x="624.7" y="124.9" width="28.2" height="27" fill="none" stroke="#000" stroke-width="3"/>
<text transform="translate(411.7 343.3) rotate(-90) scale(0.99 1)" font-size="33.5">Narrow</text>
<text transform="translate(262.2 810.5) scale(1 1.015)" font-size="66.3">Switching voltage (V)</text>
<text transform="translate(47.5 432.3) rotate(-90) scale(1 1.07)" font-size="66">WER</text>
<text class="lt" x="504.4" y="868.6" font-size="34.5" fill="#111">(a)</text>
</g>
<g id="pb">
<path d="M171.2 1257.0L200.6 1227.5L200.6 1242.9L305.6 1242.9L305.6 1271.1L200.6 1271.1L200.6 1286.5Z" fill="#ff7f7f" stroke="#000" stroke-width="2.6" stroke-linejoin="miter"/>
<path d="M439.3 1082.6L463.6 1106.3L451.0 1106.3L451.0 1510.2L427.6 1510.2L427.6 1106.3L415.0 1106.3Z" fill="#ff7f7f" stroke="#000" stroke-width="2.6" stroke-linejoin="miter"/>
<path d="M229.8 1568.4V1561.4M229.8 904.5V911.5M298.5 1568.4V1555.4M298.5 904.5V917.5M367.2 1568.4V1561.4M367.2 904.5V911.5M435.9 1568.4V1555.4M435.9 904.5V917.5M504.6 1568.4V1561.4M504.6 904.5V911.5M573.3 1568.4V1555.4M573.3 904.5V917.5M642.0 1568.4V1561.4M642.0 904.5V911.5M710.7 1568.4V1555.4M710.7 904.5V917.5M779.4 1568.4V1561.4M779.4 904.5V911.5M848.1 1568.4V1555.4M848.1 904.5V917.5M916.8 1568.4V1561.4M916.8 904.5V911.5M161.1 1070.4H174.1M985.5 1070.4H972.5M161.1 1020.5H168.1M985.5 1020.5H978.5M161.1 991.2H168.1M985.5 991.2H978.5M161.1 970.5H168.1M985.5 970.5H978.5M161.1 954.4H168.1M985.5 954.4H978.5M161.1 941.3H168.1M985.5 941.3H978.5M161.1 930.2H168.1M985.5 930.2H978.5M161.1 920.5H168.1M985.5 920.5H978.5M161.1 912.0H168.1M985.5 912.0H978.5M161.1 1236.4H174.1M985.5 1236.4H972.5M161.1 1186.5H168.1M985.5 1186.5H978.5M161.1 1157.2H168.1M985.5 1157.2H978.5M161.1 1136.5H168.1M985.5 1136.5H978.5M161.1 1120.4H168.1M985.5 1120.4H978.5M161.1 1107.3H168.1M985.5 1107.3H978.5M161.1 1096.1H168.1M985.5 1096.1H978.5M161.1 1086.5H168.1M985.5 1086.5H978.5M161.1 1078.0H168.1M985.5 1078.0H978.5M161.1 1402.4H174.1M985.5 1402.4H972.5M161.1 1352.4H168.1M985.5 1352.4H978.5M161.1 1323.2H168.1M985.5 1323.2H978.5M161.1 1302.5H168.1M985.5 1302.5H978.5M161.1 1286.4H168.1M985.5 1286.4H978.5M161.1 1273.2H168.1M985.5 1273.2H978.5M161.1 1262.1H168.1M985.5 1262.1H978.5M161.1 1252.5H168.1M985.5 1252.5H978.5M161.1 1244.0H168.1M985.5 1244.0H978.5M161.1 1518.4H168.1M985.5 1518.4H978.5M161.1 1489.2H168.1M985.5 1489.2H978.5M161.1 1468.5H168.1M985.5 1468.5H978.5M161.1 1452.4H168.1M985.5 1452.4H978.5M161.1 1439.2H168.1M985.5 1439.2H978.5M161.1 1428.1H168.1M985.5 1428.1H978.5M161.1 1418.5H168.1M985.5 1418.5H978.5M161.1 1410.0H168.1M985.5 1410.0H978.5" stroke="#000" stroke-width="2.6" fill="none"/>
<rect x="161.1" y="904.5" width="824.5" height="664.0" stroke="#000" stroke-width="2.7" fill="none"/>
<clipPath id="cb"><rect x="159.70000000000002" y="903.1" width="827.1500000000001" height="666.6500000000001"/></clipPath>
<g clip-path="url(#cb)"><path d="M470.2 904.5L463.3 904.5L456.5 904.5L449.6 904.5L442.7 904.5L435.9 904.5L429.0 904.5L422.1 904.5L415.3 904.5L408.4 904.5L401.5 904.5L394.6 904.5L387.8 904.5L380.9 904.5L374.0 904.5L367.2 904.5L360.3 904.5L353.4 904.5L346.6 904.5L339.7 904.5L332.8 904.5L325.9 905.0L319.1 910.4L312.2 925.3L305.3 955.3L298.5 1009.3L291.6 1067.0L284.7 1112.3L277.8 1135.6L271.0 1144.3L264.1 1146.1L257.2 1165.0L250.4 1179.8L243.5 1190.0L236.6 1193.8L229.8 1210.6L222.9 1204.7L216.0 1220.6L209.1 1223.7L202.3 1241.4L195.4 1254.4L188.5 1271.0L181.7 1278.1L174.8 1304.1L167.9 1300.5L161.1 1330.8" stroke="#0000ff" stroke-width="2.8" fill="none" stroke-linejoin="round"/>
<circle cx="470.2" cy="904.5" r="4.6" fill="#0000ff"/>
<circle cx="463.3" cy="904.5" r="4.6" fill="#0000ff"/>
<circle cx="456.5" cy="904.5" r="4.6" fill="#0000ff"/>
<circle cx="449.6" cy="904.5" r="4.6" fill="#0000ff"/>
<circle cx="442.7" cy="904.5" r="4.6" fill="#0000ff"/>
<circle cx="435.9" cy="904.5" r="4.6" fill="#0000ff"/>
<circle cx="429.0" cy="904.5" r="4.6" fill="#0000ff"/>
<circle cx="422.1" cy="904.5" r="4.6" fill="#0000ff"/>
<circle cx="415.3" cy="904.5" r="4.6" fill="#0000ff"/>
<circle cx="408.4" cy="904.5" r="4.6" fill="#0000ff"/>
<circle cx="401.5" cy="904.5" r="4.6" fill="#0000ff"/>
<circle cx="394.6" cy="904.5" r="4.6" fill="#0000ff"/>
<circle cx="387.8" cy="904.5" r="4.6" fill="#0000ff"/>
<circle cx="380.9" cy="904.5" r="4.6" fill="#0000ff"/>
<circle cx="374.0" cy="904.5" r="4.6" fill="#0000ff"/>
<circle cx="367.2" cy="904.5" r="4.6" fill="#0000ff"/>
<circle cx="360.3" cy="904.5" r="4.6" fill="#0000ff"/>
<circle cx="353.4" cy="904.5" r="4.6" fill="#0000ff"/>
<circle cx="346.6" cy="904.5" r="4.6" fill="#0000ff"/>
<circle cx="339.7" cy="904.5" r="4.6" fill="#0000ff"/>
<circle cx="332.8" cy="904.5" r="4.6" fill="#0000ff"/>
<circle cx="325.9" cy="905.0" r="4.6" fill="#0000ff"/>
<circle cx="319.1" cy="910.4" r="4.6" fill="#0000ff"/>
<circle cx="312.2" cy="925.3" r="4.6" fill="#0000ff"/>
<circle cx="305.3" cy="955.3" r="4.6" fill="#0000ff"/>
<circle cx="298.5" cy="1009.3" r="4.6" fill="#0000ff"/>
<circle cx="291.6" cy="1067.0" r="4.6" fill="#0000ff"/>
<circle cx="284.7" cy="1112.3" r="4.6" fill="#0000ff"/>
<circle cx="277.8" cy="1135.6" r="4.6" fill="#0000ff"/>
<circle cx="271.0" cy="1144.3" r="4.6" fill="#0000ff"/>
<circle cx="264.1" cy="1146.1" r="4.6" fill="#0000ff"/>
<circle cx="257.2" cy="1165.0" r="4.6" fill="#0000ff"/>
<circle cx="250.4" cy="1179.8" r="4.6" fill="#0000ff"/>
<circle cx="243.5" cy="1190.0" r="4.6" fill="#0000ff"/>
<circle cx="236.6" cy="1193.8" r="4.6" fill="#0000ff"/>
<circle cx="229.8" cy="1210.6" r="4.6" fill="#0000ff"/>
<circle cx="222.9" cy="1204.7" r="4.6" fill="#0000ff"/>
<circle cx="216.0" cy="1220.6" r="4.6" fill="#0000ff"/>
<circle cx="209.1" cy="1223.7" r="4.6" fill="#0000ff"/>
<circle cx="202.3" cy="1241.4" r="4.6" fill="#0000ff"/>
<circle cx="195.4" cy="1254.4" r="4.6" fill="#0000ff"/>
<circle cx="188.5" cy="1271.0" r="4.6" fill="#0000ff"/>
<circle cx="181.7" cy="1278.1" r="4.6" fill="#0000ff"/>
<circle cx="174.8" cy="1304.1" r="4.6" fill="#0000ff"/>
<circle cx="167.9" cy="1300.5" r="4.6" fill="#0000ff"/>
<circle cx="161.1" cy="1330.8" r="4.6" fill="#0000ff"/>
<path d="M676.3 904.5L683.2 904.5L690.1 904.5L696.9 904.5L703.8 904.5L710.7 904.5L717.6 904.5L724.4 904.5L731.3 904.5L738.2 904.5L745.0 904.5L751.9 904.5L758.8 904.5L765.6 904.5L772.5 904.5L779.4 905.0L786.3 911.3L793.1 923.1L800.0 949.7L806.9 994.3L813.7 1070.1L820.6 1160.1L827.5 1263.2L834.4 1295.7L841.2 1342.5L848.1 1395.5L855.0 1489.4L861.8 1568.4" stroke="#0000ff" stroke-width="2.8" fill="none" stroke-linejoin="round"/>
<circle cx="676.3" cy="904.5" r="4.6" fill="#0000ff"/>
<circle cx="683.2" cy="904.5" r="4.6" fill="#0000ff"/>
<circle cx="690.1" cy="904.5" r="4.6" fill="#0000ff"/>
<circle cx="696.9" cy="904.5" r="4.6" fill="#0000ff"/>
<circle cx="703.8" cy="904.5" r="4.6" fill="#0000ff"/>
<circle cx="710.7" cy="904.5" r="4.6" fill="#0000ff"/>
<circle cx="717.6" cy="904.5" r="4.6" fill="#0000ff"/>
<circle cx="724.4" cy="904.5" r="4.6" fill="#0000ff"/>
<circle cx="731.3" cy="904.5" r="4.6" fill="#0000ff"/>
<circle cx="738.2" cy="904.5" r="4.6" fill="#0000ff"/>
<circle cx="745.0" cy="904.5" r="4.6" fill="#0000ff"/>
<circle cx="751.9" cy="904.5" r="4.6" fill="#0000ff"/>
<circle cx="758.8" cy="904.5" r="4.6" fill="#0000ff"/>
<circle cx="765.6" cy="904.5" r="4.6" fill="#0000ff"/>
<circle cx="772.5" cy="904.5" r="4.6" fill="#0000ff"/>
<circle cx="779.4" cy="905.0" r="4.6" fill="#0000ff"/>
<circle cx="786.3" cy="911.3" r="4.6" fill="#0000ff"/>
<circle cx="793.1" cy="923.1" r="4.6" fill="#0000ff"/>
<circle cx="800.0" cy="949.7" r="4.6" fill="#0000ff"/>
<circle cx="806.9" cy="994.3" r="4.6" fill="#0000ff"/>
<circle cx="813.7" cy="1070.1" r="4.6" fill="#0000ff"/>
<circle cx="820.6" cy="1160.1" r="4.6" fill="#0000ff"/>
<circle cx="827.5" cy="1263.2" r="4.6" fill="#0000ff"/>
<circle cx="834.4" cy="1295.7" r="4.6" fill="#0000ff"/>
<circle cx="841.2" cy="1342.5" r="4.6" fill="#0000ff"/>
<circle cx="848.1" cy="1395.5" r="4.6" fill="#0000ff"/>
<circle cx="855.0" cy="1489.4" r="4.6" fill="#0000ff"/>
<circle cx="861.8" cy="1568.4" r="4.6" fill="#0000ff"/>
<path d="M470.2 904.5L463.3 904.5L456.5 904.5L449.6 904.5L442.7 904.5L435.9 904.5L429.0 904.5L422.1 904.5L415.3 904.5L408.4 904.5L401.5 904.5L394.6 904.5L387.8 904.5L380.9 904.5L374.0 904.5L367.2 904.5L360.3 904.5L353.4 904.5L346.6 904.5L339.7 904.5L332.8 904.5L325.9 906.0L319.1 917.0L312.2 955.0L305.3 1008.9L298.5 1096.2L291.6 1136.3L284.7 1150.3L277.8 1158.7L271.0 1165.0L264.1 1174.0L257.2 1188.7L250.4 1191.0L243.5 1207.1L236.6 1226.7L229.8 1229.0L222.9 1248.0L216.0 1248.5L209.1 1262.7L202.3 1295.5L195.4 1308.0L188.5 1342.0L181.7 1363.3L174.8 1372.8L167.9 1409.5L161.1 1428.6" stroke="#ff0000" stroke-width="2.8" fill="none" stroke-linejoin="round"/>
<path d="M470.2 898.0L475.8 907.7L464.6 907.7Z" fill="#ff0000"/>
<path d="M463.3 898.0L468.9 907.7L457.7 907.7Z" fill="#ff0000"/>
<path d="M456.5 898.0L462.1 907.7L450.9 907.7Z" fill="#ff0000"/>
<path d="M449.6 898.0L455.2 907.7L444.0 907.7Z" fill="#ff0000"/>
<path d="M442.7 898.0L448.3 907.7L437.1 907.7Z" fill="#ff0000"/>
<path d="M435.9 898.0L441.5 907.7L430.3 907.7Z" fill="#ff0000"/>
<path d="M429.0 898.0L434.6 907.7L423.4 907.7Z" fill="#ff0000"/>
<path d="M422.1 898.0L427.7 907.7L416.5 907.7Z" fill="#ff0000"/>
<path d="M415.3 898.0L420.9 907.7L409.7 907.7Z" fill="#ff0000"/>
<path d="M408.4 898.0L414.0 907.7L402.8 907.7Z" fill="#ff0000"/>
<path d="M401.5 898.0L407.1 907.7L395.9 907.7Z" fill="#ff0000"/>
<path d="M394.6 898.0L400.2 907.7L389.0 907.7Z" fill="#ff0000"/>
<path d="M387.8 898.0L393.4 907.7L382.2 907.7Z" fill="#ff0000"/>
<path d="M380.9 898.0L386.5 907.7L375.3 907.7Z" fill="#ff0000"/>
<path d="M374.0 898.0L379.6 907.7L368.4 907.7Z" fill="#ff0000"/>
<path d="M367.2 898.0L372.8 907.7L361.6 907.7Z" fill="#ff0000"/>
<path d="M360.3 898.0L365.9 907.7L354.7 907.7Z" fill="#ff0000"/>
<path d="M353.4 898.0L359.0 907.7L347.8 907.7Z" fill="#ff0000"/>
<path d="M346.6 898.0L352.2 907.7L341.0 907.7Z" fill="#ff0000"/>
<path d="M339.7 898.0L345.3 907.7L334.1 907.7Z" fill="#ff0000"/>
<path d="M332.8 898.0L338.4 907.7L327.2 907.7Z" fill="#ff0000"/>
<path d="M325.9 899.5L331.5 909.2L320.3 909.2Z" fill="#ff0000"/>
<path d="M319.1 910.5L324.7 920.2L313.5 920.2Z" fill="#ff0000"/>
<path d="M312.2 948.5L317.8 958.2L306.6 958.2Z" fill="#ff0000"/>
<path d="M305.3 1002.4L310.9 1012.1L299.7 1012.1Z" fill="#ff0000"/>
<path d="M298.5 1089.7L304.1 1099.4L292.9 1099.4Z" fill="#ff0000"/>
<path d="M291.6 1129.8L297.2 1139.5L286.0 1139.5Z" fill="#ff0000"/>
<path d="M284.7 1143.8L290.3 1153.5L279.1 1153.5Z" fill="#ff0000"/>
<path d="M277.8 1152.2L283.4 1161.9L272.2 1161.9Z" fill="#ff0000"/>
<path d="M271.0 1158.5L276.6 1168.2L265.4 1168.2Z" fill="#ff0000"/>
<path d="M264.1 1167.5L269.7 1177.2L258.5 1177.2Z" fill="#ff0000"/>
<path d="M257.2 1182.2L262.8 1191.9L251.6 1191.9Z" fill="#ff0000"/>
<path d="M250.4 1184.5L256.0 1194.2L244.8 1194.2Z" fill="#ff0000"/>
<path d="M243.5 1200.6L249.1 1210.3L237.9 1210.3Z" fill="#ff0000"/>
<path d="M236.6 1220.2L242.2 1229.9L231.0 1229.9Z" fill="#ff0000"/>
<path d="M229.8 1222.5L235.4 1232.2L224.2 1232.2Z" fill="#ff0000"/>
<path d="M222.9 1241.5L228.5 1251.2L217.3 1251.2Z" fill="#ff0000"/>
<path d="M216.0 1242.0L221.6 1251.7L210.4 1251.7Z" fill="#ff0000"/>
<path d="M209.1 1256.2L214.7 1265.9L203.5 1265.9Z" fill="#ff0000"/>
<path d="M202.3 1289.0L207.9 1298.7L196.7 1298.7Z" fill="#ff0000"/>
<path d="M195.4 1301.5L201.0 1311.2L189.8 1311.2Z" fill="#ff0000"/>
<path d="M188.5 1335.5L194.1 1345.2L182.9 1345.2Z" fill="#ff0000"/>
<path d="M181.7 1356.8L187.3 1366.5L176.1 1366.5Z" fill="#ff0000"/>
<path d="M174.8 1366.3L180.4 1376.0L169.2 1376.0Z" fill="#ff0000"/>
<path d="M167.9 1403.0L173.5 1412.7L162.3 1412.7Z" fill="#ff0000"/>
<path d="M161.1 1422.1L166.7 1431.8L155.5 1431.8Z" fill="#ff0000"/>
<path d="M676.3 904.5L683.2 904.5L690.1 904.5L696.9 904.5L703.8 904.5L710.7 904.5L717.6 904.5L724.4 904.5L731.3 904.5L738.2 904.5L745.0 904.5L751.9 904.5L758.8 904.5L765.6 904.5L772.5 905.0L779.4 906.8L786.3 918.6L793.1 941.3L800.0 988.7L806.9 1077.2L813.7 1197.5L820.6 1312.4L827.5 1428.0L834.4 1427.5L841.2 1520.0L848.1 1568.4" stroke="#ff0000" stroke-width="2.8" fill="none" stroke-linejoin="round"/>
<path d="M676.3 898.0L681.9 907.7L670.7 907.7Z" fill="#ff0000"/>
<path d="M683.2 898.0L688.8 907.7L677.6 907.7Z" fill="#ff0000"/>
<path d="M690.1 898.0L695.7 907.7L684.5 907.7Z" fill="#ff0000"/>
<path d="M696.9 898.0L702.5 907.7L691.3 907.7Z" fill="#ff0000"/>
<path d="M703.8 898.0L709.4 907.7L698.2 907.7Z" fill="#ff0000"/>
<path d="M710.7 898.0L716.3 907.7L705.1 907.7Z" fill="#ff0000"/>
<path d="M717.6 898.0L723.2 907.7L712.0 907.7Z" fill="#ff0000"/>
<path d="M724.4 898.0L730.0 907.7L718.8 907.7Z" fill="#ff0000"/>
<path d="M731.3 898.0L736.9 907.7L725.7 907.7Z" fill="#ff0000"/>
<path d="M738.2 898.0L743.8 907.7L732.6 907.7Z" fill="#ff0000"/>
<path d="M745.0 898.0L750.6 907.7L739.4 907.7Z" fill="#ff0000"/>
<path d="M751.9 898.0L757.5 907.7L746.3 907.7Z" fill="#ff0000"/>
<path d="M758.8 898.0L764.4 907.7L753.2 907.7Z" fill="#ff0000"/>
<path d="M765.6 898.0L771.2 907.7L760.0 907.7Z" fill="#ff0000"/>
<path d="M772.5 898.5L778.1 908.2L766.9 908.2Z" fill="#ff0000"/>
<path d="M779.4 900.3L785.0 910.0L773.8 910.0Z" fill="#ff0000"/>
<path d="M786.3 912.1L791.9 921.8L780.7 921.8Z" fill="#ff0000"/>
<path d="M793.1 934.8L798.7 944.5L787.5 944.5Z" fill="#ff0000"/>
<path d="M800.0 982.2L805.6 991.9L794.4 991.9Z" fill="#ff0000"/>
<path d="M806.9 1070.7L812.5 1080.4L801.3 1080.4Z" fill="#ff0000"/>
<path d="M813.7 1191.0L819.3 1200.7L808.1 1200.7Z" fill="#ff0000"/>
<path d="M820.6 1305.9L826.2 1315.6L815.0 1315.6Z" fill="#ff0000"/>
<path d="M827.5 1421.5L833.1 1431.2L821.9 1431.2Z" fill="#ff0000"/>
<path d="M834.4 1421.0L840.0 1430.7L828.8 1430.7Z" fill="#ff0000"/>
<path d="M841.2 1513.5L846.8 1523.2L835.6 1523.2Z" fill="#ff0000"/>
<path d="M848.1 1561.9L853.7 1571.6L842.5 1571.6Z" fill="#ff0000"/>
<path d="M470.2 904.5L463.3 904.5L456.5 904.5L449.6 904.5L442.7 904.5L435.9 904.5L429.0 904.5L422.1 904.5L415.3 904.5L408.4 904.5L401.5 904.5L394.6 904.5L387.8 904.5L380.9 904.5L374.0 904.5L367.2 904.5L360.3 904.5L353.4 904.5L346.6 904.5L339.7 904.5L332.8 905.0L325.9 907.0L319.1 925.0L312.2 977.0L305.3 1063.9L298.5 1129.0L291.6 1148.6L284.7 1168.0L277.8 1174.6L271.0 1182.5L264.1 1196.8L257.2 1213.6L250.4 1219.0L243.5 1243.2L236.6 1258.0L229.8 1285.2L222.9 1285.2L216.0 1315.4L209.1 1325.5L202.3 1357.4L195.4 1333.7L188.5 1469.0L181.7 1489.7L174.8 1418.7L167.9 1489.7" stroke="#009900" stroke-width="2.8" fill="none" stroke-linejoin="round"/>
<rect x="466.2" y="900.5" width="8.0" height="8.0" fill="#009900"/>
<rect x="459.3" y="900.5" width="8.0" height="8.0" fill="#009900"/>
<rect x="452.5" y="900.5" width="8.0" height="8.0" fill="#009900"/>
<rect x="445.6" y="900.5" width="8.0" height="8.0" fill="#009900"/>
<rect x="438.7" y="900.5" width="8.0" height="8.0" fill="#009900"/>
<rect x="431.9" y="900.5" width="8.0" height="8.0" fill="#009900"/>
<rect x="425.0" y="900.5" width="8.0" height="8.0" fill="#009900"/>
<rect x="418.1" y="900.5" width="8.0" height="8.0" fill="#009900"/>
<rect x="411.3" y="900.5" width="8.0" height="8.0" fill="#009900"/>
<rect x="404.4" y="900.5" width="8.0" height="8.0" fill="#009900"/>
<rect x="397.5" y="900.5" width="8.0" height="8.0" fill="#009900"/>
<rect x="390.6" y="900.5" width="8.0" height="8.0" fill="#009900"/>
<rect x="383.8" y="900.5" width="8.0" height="8.0" fill="#009900"/>
<rect x="376.9" y="900.5" width="8.0" height="8.0" fill="#009900"/>
<rect x="370.0" y="900.5" width="8.0" height="8.0" fill="#009900"/>
<rect x="363.2" y="900.5" width="8.0" height="8.0" fill="#009900"/>
<rect x="356.3" y="900.5" width="8.0" height="8.0" fill="#009900"/>
<rect x="349.4" y="900.5" width="8.0" height="8.0" fill="#009900"/>
<rect x="342.6" y="900.5" width="8.0" height="8.0" fill="#009900"/>
<rect x="335.7" y="900.5" width="8.0" height="8.0" fill="#009900"/>
<rect x="328.8" y="901.0" width="8.0" height="8.0" fill="#009900"/>
<rect x="321.9" y="903.0" width="8.0" height="8.0" fill="#009900"/>
<rect x="315.1" y="921.0" width="8.0" height="8.0" fill="#009900"/>
<rect x="308.2" y="973.0" width="8.0" height="8.0" fill="#009900"/>
<rect x="301.3" y="1059.9" width="8.0" height="8.0" fill="#009900"/>
<rect x="294.5" y="1125.0" width="8.0" height="8.0" fill="#009900"/>
<rect x="287.6" y="1144.6" width="8.0" height="8.0" fill="#009900"/>
<rect x="280.7" y="1164.0" width="8.0" height="8.0" fill="#009900"/>
<rect x="273.8" y="1170.6" width="8.0" height="8.0" fill="#009900"/>
<rect x="267.0" y="1178.5" width="8.0" height="8.0" fill="#009900"/>
<rect x="260.1" y="1192.8" width="8.0" height="8.0" fill="#009900"/>
<rect x="253.2" y="1209.6" width="8.0" height="8.0" fill="#009900"/>
<rect x="246.4" y="1215.0" width="8.0" height="8.0" fill="#009900"/>
<rect x="239.5" y="1239.2" width="8.0" height="8.0" fill="#009900"/>
<rect x="232.6" y="1254.0" width="8.0" height="8.0" fill="#009900"/>
<rect x="225.8" y="1281.2" width="8.0" height="8.0" fill="#009900"/>
<rect x="218.9" y="1281.2" width="8.0" height="8.0" fill="#009900"/>
<rect x="212.0" y="1311.4" width="8.0" height="8.0" fill="#009900"/>
<rect x="205.1" y="1321.5" width="8.0" height="8.0" fill="#009900"/>
<rect x="198.3" y="1353.4" width="8.0" height="8.0" fill="#009900"/>
<rect x="191.4" y="1329.7" width="8.0" height="8.0" fill="#009900"/>
<rect x="184.5" y="1465.0" width="8.0" height="8.0" fill="#009900"/>
<rect x="177.7" y="1485.7" width="8.0" height="8.0" fill="#009900"/>
<rect x="170.8" y="1414.7" width="8.0" height="8.0" fill="#009900"/>
<rect x="163.9" y="1485.7" width="8.0" height="8.0" fill="#009900"/>
<path d="M676.3 904.5L683.2 904.5L690.1 904.5L696.9 904.5L703.8 904.5L710.7 904.5L717.6 904.5L724.4 904.5L731.3 904.5L738.2 904.5L745.0 904.5L751.9 904.5L758.8 904.5L765.6 904.5L772.5 905.5L779.4 910.0L786.3 925.0L793.1 962.0L800.0 1033.9L806.9 1158.6L813.7 1330.6L820.6 1402.7L827.5 1568.4" stroke="#009900" stroke-width="2.8" fill="none" stroke-linejoin="round"/>
<rect x="672.3" y="900.5" width="8.0" height="8.0" fill="#009900"/>
<rect x="679.2" y="900.5" width="8.0" height="8.0" fill="#009900"/>
<rect x="686.1" y="900.5" width="8.0" height="8.0" fill="#009900"/>
<rect x="692.9" y="900.5" width="8.0" height="8.0" fill="#009900"/>
<rect x="699.8" y="900.5" width="8.0" height="8.0" fill="#009900"/>
<rect x="706.7" y="900.5" width="8.0" height="8.0" fill="#009900"/>
<rect x="713.6" y="900.5" width="8.0" height="8.0" fill="#009900"/>
<rect x="720.4" y="900.5" width="8.0" height="8.0" fill="#009900"/>
<rect x="727.3" y="900.5" width="8.0" height="8.0" fill="#009900"/>
<rect x="734.2" y="900.5" width="8.0" height="8.0" fill="#009900"/>
<rect x="741.0" y="900.5" width="8.0" height="8.0" fill="#009900"/>
<rect x="747.9" y="900.5" width="8.0" height="8.0" fill="#009900"/>
<rect x="754.8" y="900.5" width="8.0" height="8.0" fill="#009900"/>
<rect x="761.6" y="900.5" width="8.0" height="8.0" fill="#009900"/>
<rect x="768.5" y="901.5" width="8.0" height="8.0" fill="#009900"/>
<rect x="775.4" y="906.0" width="8.0" height="8.0" fill="#009900"/>
<rect x="782.3" y="921.0" width="8.0" height="8.0" fill="#009900"/>
<rect x="789.1" y="958.0" width="8.0" height="8.0" fill="#009900"/>
<rect x="796.0" y="1029.9" width="8.0" height="8.0" fill="#009900"/>
<rect x="802.9" y="1154.6" width="8.0" height="8.0" fill="#009900"/>
<rect x="809.7" y="1326.6" width="8.0" height="8.0" fill="#009900"/>
<rect x="816.6" y="1398.7" width="8.0" height="8.0" fill="#009900"/>
<rect x="823.5" y="1564.4" width="8.0" height="8.0" fill="#009900"/>
<path d="M470.2 904.5L463.3 904.5L456.5 904.5L449.6 904.5L442.7 904.5L435.9 904.5L429.0 904.5L422.1 904.5L415.3 904.5L408.4 904.5L401.5 904.5L394.6 904.5L387.8 904.5L380.9 904.5L374.0 904.5L367.2 904.5L360.3 904.5L353.4 904.5L346.6 904.5L339.7 904.5L332.8 905.0L325.9 909.2L319.1 924.6L312.2 968.5L305.3 1057.2L298.5 1144.4L291.6 1166.0L284.7 1167.2L277.8 1181.3L271.0 1201.7L264.1 1205.6L257.2 1222.0L250.4 1236.7L243.5 1260.3L236.6 1273.4L229.8 1276.3L222.9 1316.6L216.0 1325.5L209.1 1359.8L202.3 1363.9L195.4 1409.0L188.5 1483.7L181.7 1468.0L174.8 1568.4" stroke="#9933ff" stroke-width="2.8" fill="none" stroke-linejoin="round"/>
<path d="M470.2 898.9L475.8 904.5L470.2 910.1L464.6 904.5Z" fill="#9933ff"/>
<path d="M463.3 898.9L468.9 904.5L463.3 910.1L457.7 904.5Z" fill="#9933ff"/>
<path d="M456.5 898.9L462.1 904.5L456.5 910.1L450.9 904.5Z" fill="#9933ff"/>
<path d="M449.6 898.9L455.2 904.5L449.6 910.1L444.0 904.5Z" fill="#9933ff"/>
<path d="M442.7 898.9L448.3 904.5L442.7 910.1L437.1 904.5Z" fill="#9933ff"/>
<path d="M435.9 898.9L441.5 904.5L435.9 910.1L430.3 904.5Z" fill="#9933ff"/>
<path d="M429.0 898.9L434.6 904.5L429.0 910.1L423.4 904.5Z" fill="#9933ff"/>
<path d="M422.1 898.9L427.7 904.5L422.1 910.1L416.5 904.5Z" fill="#9933ff"/>
<path d="M415.3 898.9L420.9 904.5L415.3 910.1L409.7 904.5Z" fill="#9933ff"/>
<path d="M408.4 898.9L414.0 904.5L408.4 910.1L402.8 904.5Z" fill="#9933ff"/>
<path d="M401.5 898.9L407.1 904.5L401.5 910.1L395.9 904.5Z" fill="#9933ff"/>
<path d="M394.6 898.9L400.2 904.5L394.6 910.1L389.0 904.5Z" fill="#9933ff"/>
<path d="M387.8 898.9L393.4 904.5L387.8 910.1L382.2 904.5Z" fill="#9933ff"/>
<path d="M380.9 898.9L386.5 904.5L380.9 910.1L375.3 904.5Z" fill="#9933ff"/>
<path d="M374.0 898.9L379.6 904.5L374.0 910.1L368.4 904.5Z" fill="#9933ff"/>
<path d="M367.2 898.9L372.8 904.5L367.2 910.1L361.6 904.5Z" fill="#9933ff"/>
<path d="M360.3 898.9L365.9 904.5L360.3 910.1L354.7 904.5Z" fill="#9933ff"/>
<path d="M353.4 898.9L359.0 904.5L353.4 910.1L347.8 904.5Z" fill="#9933ff"/>
<path d="M346.6 898.9L352.2 904.5L346.6 910.1L341.0 904.5Z" fill="#9933ff"/>
<path d="M339.7 898.9L345.3 904.5L339.7 910.1L334.1 904.5Z" fill="#9933ff"/>
<path d="M332.8 899.4L338.4 905.0L332.8 910.6L327.2 905.0Z" fill="#9933ff"/>
<path d="M325.9 903.6L331.5 909.2L325.9 914.8L320.3 909.2Z" fill="#9933ff"/>
<path d="M319.1 919.0L324.7 924.6L319.1 930.2L313.5 924.6Z" fill="#9933ff"/>
<path d="M312.2 962.9L317.8 968.5L312.2 974.1L306.6 968.5Z" fill="#9933ff"/>
<path d="M305.3 1051.6L310.9 1057.2L305.3 1062.8L299.7 1057.2Z" fill="#9933ff"/>
<path d="M298.5 1138.8L304.1 1144.4L298.5 1150.0L292.9 1144.4Z" fill="#9933ff"/>
<path d="M291.6 1160.4L297.2 1166.0L291.6 1171.6L286.0 1166.0Z" fill="#9933ff"/>
<path d="M284.7 1161.6L290.3 1167.2L284.7 1172.8L279.1 1167.2Z" fill="#9933ff"/>
<path d="M277.8 1175.7L283.4 1181.3L277.8 1186.9L272.2 1181.3Z" fill="#9933ff"/>
<path d="M271.0 1196.1L276.6 1201.7L271.0 1207.3L265.4 1201.7Z" fill="#9933ff"/>
<path d="M264.1 1200.0L269.7 1205.6L264.1 1211.2L258.5 1205.6Z" fill="#9933ff"/>
<path d="M257.2 1216.4L262.8 1222.0L257.2 1227.6L251.6 1222.0Z" fill="#9933ff"/>
<path d="M250.4 1231.1L256.0 1236.7L250.4 1242.3L244.8 1236.7Z" fill="#9933ff"/>
<path d="M243.5 1254.7L249.1 1260.3L243.5 1265.9L237.9 1260.3Z" fill="#9933ff"/>
<path d="M236.6 1267.8L242.2 1273.4L236.6 1279.0L231.0 1273.4Z" fill="#9933ff"/>
<path d="M229.8 1270.7L235.4 1276.3L229.8 1281.9L224.2 1276.3Z" fill="#9933ff"/>
<path d="M222.9 1311.0L228.5 1316.6L222.9 1322.2L217.3 1316.6Z" fill="#9933ff"/>
<path d="M216.0 1319.9L221.6 1325.5L216.0 1331.1L210.4 1325.5Z" fill="#9933ff"/>
<path d="M209.1 1354.2L214.7 1359.8L209.1 1365.4L203.5 1359.8Z" fill="#9933ff"/>
<path d="M202.3 1358.3L207.9 1363.9L202.3 1369.5L196.7 1363.9Z" fill="#9933ff"/>
<path d="M195.4 1403.4L201.0 1409.0L195.4 1414.6L189.8 1409.0Z" fill="#9933ff"/>
<path d="M188.5 1478.1L194.1 1483.7L188.5 1489.3L182.9 1483.7Z" fill="#9933ff"/>
<path d="M181.7 1462.4L187.3 1468.0L181.7 1473.6L176.1 1468.0Z" fill="#9933ff"/>
<path d="M174.8 1562.8L180.4 1568.4L174.8 1574.0L169.2 1568.4Z" fill="#9933ff"/>
<path d="M161.1 1562.8L166.7 1568.4L161.1 1574.0L155.5 1568.4Z" fill="#9933ff"/>
<path d="M676.3 904.5L683.2 904.5L690.1 904.5L696.9 904.5L703.8 904.5L710.7 904.5L717.6 904.5L724.4 904.5L731.3 904.5L738.2 904.5L745.0 904.5L751.9 904.5L758.8 904.5L765.6 904.5L772.5 906.0L779.4 911.7L786.3 929.5L793.1 969.9L800.0 1052.0L806.9 1193.6L813.7 1383.8L820.6 1568.4" stroke="#9933ff" stroke-width="2.8" fill="none" stroke-linejoin="round"/>
<path d="M676.3 898.9L681.9 904.5L676.3 910.1L670.7 904.5Z" fill="#9933ff"/>
<path d="M683.2 898.9L688.8 904.5L683.2 910.1L677.6 904.5Z" fill="#9933ff"/>
<path d="M690.1 898.9L695.7 904.5L690.1 910.1L684.5 904.5Z" fill="#9933ff"/>
<path d="M696.9 898.9L702.5 904.5L696.9 910.1L691.3 904.5Z" fill="#9933ff"/>
<path d="M703.8 898.9L709.4 904.5L703.8 910.1L698.2 904.5Z" fill="#9933ff"/>
<path d="M710.7 898.9L716.3 904.5L710.7 910.1L705.1 904.5Z" fill="#9933ff"/>
<path d="M717.6 898.9L723.2 904.5L717.6 910.1L712.0 904.5Z" fill="#9933ff"/>
<path d="M724.4 898.9L730.0 904.5L724.4 910.1L718.8 904.5Z" fill="#9933ff"/>
<path d="M731.3 898.9L736.9 904.5L731.3 910.1L725.7 904.5Z" fill="#9933ff"/>
<path d="M738.2 898.9L743.8 904.5L738.2 910.1L732.6 904.5Z" fill="#9933ff"/>
<path d="M745.0 898.9L750.6 904.5L745.0 910.1L739.4 904.5Z" fill="#9933ff"/>
<path d="M751.9 898.9L757.5 904.5L751.9 910.1L746.3 904.5Z" fill="#9933ff"/>
<path d="M758.8 898.9L764.4 904.5L758.8 910.1L753.2 904.5Z" fill="#9933ff"/>
<path d="M765.6 898.9L771.2 904.5L765.6 910.1L760.0 904.5Z" fill="#9933ff"/>
<path d="M772.5 900.4L778.1 906.0L772.5 911.6L766.9 906.0Z" fill="#9933ff"/>
<path d="M779.4 906.1L785.0 911.7L779.4 917.3L773.8 911.7Z" fill="#9933ff"/>
<path d="M786.3 923.9L791.9 929.5L786.3 935.1L780.7 929.5Z" fill="#9933ff"/>
<path d="M793.1 964.3L798.7 969.9L793.1 975.5L787.5 969.9Z" fill="#9933ff"/>
<path d="M800.0 1046.4L805.6 1052.0L800.0 1057.6L794.4 1052.0Z" fill="#9933ff"/>
<path d="M806.9 1188.0L812.5 1193.6L806.9 1199.2L801.3 1193.6Z" fill="#9933ff"/>
<path d="M813.7 1378.2L819.3 1383.8L813.7 1389.4L808.1 1383.8Z" fill="#9933ff"/>
<path d="M820.6 1562.8L826.2 1568.4L820.6 1574.0L815.0 1568.4Z" fill="#9933ff"/>
<path d="M470.2 904.5L463.3 904.5L456.5 904.5L449.6 904.5L442.7 904.5L435.9 904.5L429.0 904.5L422.1 904.5L415.3 904.5L408.4 904.5L401.5 904.5L394.6 904.5L387.8 904.5L380.9 904.5L374.0 904.5L367.2 904.5L360.3 904.5L353.4 904.5L346.6 904.5L339.7 904.5L332.8 904.5L325.9 907.0L319.1 947.0L312.2 1026.0L305.3 1131.0L298.5 1171.0L291.6 1179.5L284.7 1194.5L277.8 1204.6L271.0 1216.3L264.1 1229.6L257.2 1230.2L250.4 1262.7L243.5 1288.1L236.6 1284.6L229.8 1314.2L222.9 1324.9L216.0 1363.9L209.1 1415.0L202.3 1409.5L195.4 1468.0L188.5 1490.0L174.8 1568.4" stroke="#d4a516" stroke-width="2.8" fill="none" stroke-linejoin="round"/>
<path d="M470.2 910.9L475.8 901.2L464.6 901.2Z" fill="#d4a516"/>
<path d="M463.3 910.9L468.9 901.2L457.7 901.2Z" fill="#d4a516"/>
<path d="M456.5 910.9L462.1 901.2L450.9 901.2Z" fill="#d4a516"/>
<path d="M449.6 910.9L455.2 901.2L444.0 901.2Z" fill="#d4a516"/>
<path d="M442.7 910.9L448.3 901.2L437.1 901.2Z" fill="#d4a516"/>
<path d="M435.9 910.9L441.5 901.2L430.3 901.2Z" fill="#d4a516"/>
<path d="M429.0 910.9L434.6 901.2L423.4 901.2Z" fill="#d4a516"/>
<path d="M422.1 910.9L427.7 901.2L416.5 901.2Z" fill="#d4a516"/>
<path d="M415.3 910.9L420.9 901.2L409.7 901.2Z" fill="#d4a516"/>
<path d="M408.4 910.9L414.0 901.2L402.8 901.2Z" fill="#d4a516"/>
<path d="M401.5 910.9L407.1 901.2L395.9 901.2Z" fill="#d4a516"/>
<path d="M394.6 910.9L400.2 901.2L389.0 901.2Z" fill="#d4a516"/>
<path d="M387.8 910.9L393.4 901.2L382.2 901.2Z" fill="#d4a516"/>
<path d="M380.9 910.9L386.5 901.2L375.3 901.2Z" fill="#d4a516"/>
<path d="M374.0 910.9L379.6 901.2L368.4 901.2Z" fill="#d4a516"/>
<path d="M367.2 910.9L372.8 901.2L361.6 901.2Z" fill="#d4a516"/>
<path d="M360.3 910.9L365.9 901.2L354.7 901.2Z" fill="#d4a516"/>
<path d="M353.4 910.9L359.0 901.2L347.8 901.2Z" fill="#d4a516"/>
<path d="M346.6 910.9L352.2 901.2L341.0 901.2Z" fill="#d4a516"/>
<path d="M339.7 910.9L345.3 901.2L334.1 901.2Z" fill="#d4a516"/>
<path d="M332.8 910.9L338.4 901.2L327.2 901.2Z" fill="#d4a516"/>
<path d="M325.9 913.5L331.5 903.8L320.3 903.8Z" fill="#d4a516"/>
<path d="M319.1 953.5L324.7 943.8L313.5 943.8Z" fill="#d4a516"/>
<path d="M312.2 1032.5L317.8 1022.8L306.6 1022.8Z" fill="#d4a516"/>
<path d="M305.3 1137.5L310.9 1127.8L299.7 1127.8Z" fill="#d4a516"/>
<path d="M298.5 1177.5L304.1 1167.8L292.9 1167.8Z" fill="#d4a516"/>
<path d="M291.6 1186.0L297.2 1176.3L286.0 1176.3Z" fill="#d4a516"/>
<path d="M284.7 1201.0L290.3 1191.3L279.1 1191.3Z" fill="#d4a516"/>
<path d="M277.8 1211.1L283.4 1201.4L272.2 1201.4Z" fill="#d4a516"/>
<path d="M271.0 1222.8L276.6 1213.1L265.4 1213.1Z" fill="#d4a516"/>
<path d="M264.1 1236.1L269.7 1226.4L258.5 1226.4Z" fill="#d4a516"/>
<path d="M257.2 1236.7L262.8 1227.0L251.6 1227.0Z" fill="#d4a516"/>
<path d="M250.4 1269.2L256.0 1259.5L244.8 1259.5Z" fill="#d4a516"/>
<path d="M243.5 1294.6L249.1 1284.9L237.9 1284.9Z" fill="#d4a516"/>
<path d="M236.6 1291.1L242.2 1281.4L231.0 1281.4Z" fill="#d4a516"/>
<path d="M229.8 1320.7L235.4 1311.0L224.2 1311.0Z" fill="#d4a516"/>
<path d="M222.9 1331.4L228.5 1321.7L217.3 1321.7Z" fill="#d4a516"/>
<path d="M216.0 1370.4L221.6 1360.7L210.4 1360.7Z" fill="#d4a516"/>
<path d="M209.1 1421.5L214.7 1411.8L203.5 1411.8Z" fill="#d4a516"/>
<path d="M202.3 1416.0L207.9 1406.3L196.7 1406.3Z" fill="#d4a516"/>
<path d="M195.4 1474.5L201.0 1464.8L189.8 1464.8Z" fill="#d4a516"/>
<path d="M188.5 1496.5L194.1 1486.8L182.9 1486.8Z" fill="#d4a516"/>
<path d="M174.8 1574.9L180.4 1565.2L169.2 1565.2Z" fill="#d4a516"/>
<path d="M676.3 904.5L683.2 904.5L690.1 904.5L696.9 904.5L703.8 904.5L710.7 904.5L717.6 904.5L724.4 904.5L731.3 904.5L738.2 904.5L745.0 904.5L751.9 904.5L758.8 904.5L765.6 904.5L772.5 906.5L779.4 915.2L786.3 939.8L793.1 992.1L800.0 1105.4L806.9 1310.0L813.7 1568.4" stroke="#d4a516" stroke-width="2.8" fill="none" stroke-linejoin="round"/>
<path d="M676.3 910.9L681.9 901.2L670.7 901.2Z" fill="#d4a516"/>
<path d="M683.2 910.9L688.8 901.2L677.6 901.2Z" fill="#d4a516"/>
<path d="M690.1 910.9L695.7 901.2L684.5 901.2Z" fill="#d4a516"/>
<path d="M696.9 910.9L702.5 901.2L691.3 901.2Z" fill="#d4a516"/>
<path d="M703.8 910.9L709.4 901.2L698.2 901.2Z" fill="#d4a516"/>
<path d="M710.7 910.9L716.3 901.2L705.1 901.2Z" fill="#d4a516"/>
<path d="M717.6 910.9L723.2 901.2L712.0 901.2Z" fill="#d4a516"/>
<path d="M724.4 910.9L730.0 901.2L718.8 901.2Z" fill="#d4a516"/>
<path d="M731.3 910.9L736.9 901.2L725.7 901.2Z" fill="#d4a516"/>
<path d="M738.2 910.9L743.8 901.2L732.6 901.2Z" fill="#d4a516"/>
<path d="M745.0 910.9L750.6 901.2L739.4 901.2Z" fill="#d4a516"/>
<path d="M751.9 910.9L757.5 901.2L746.3 901.2Z" fill="#d4a516"/>
<path d="M758.8 910.9L764.4 901.2L753.2 901.2Z" fill="#d4a516"/>
<path d="M765.6 910.9L771.2 901.2L760.0 901.2Z" fill="#d4a516"/>
<path d="M772.5 913.0L778.1 903.3L766.9 903.3Z" fill="#d4a516"/>
<path d="M779.4 921.7L785.0 912.0L773.8 912.0Z" fill="#d4a516"/>
<path d="M786.3 946.3L791.9 936.6L780.7 936.6Z" fill="#d4a516"/>
<path d="M793.1 998.6L798.7 988.9L787.5 988.9Z" fill="#d4a516"/>
<path d="M800.0 1111.9L805.6 1102.2L794.4 1102.2Z" fill="#d4a516"/>
<path d="M806.9 1316.5L812.5 1306.8L801.3 1306.8Z" fill="#d4a516"/>
<path d="M813.7 1574.9L819.3 1565.2L808.1 1565.2Z" fill="#d4a516"/>
<path d="M470.2 904.5L463.3 904.5L456.5 904.5L449.6 904.5L442.7 904.5L435.9 904.5L429.0 904.5L422.1 904.5L415.3 904.5L408.4 904.5L401.5 904.5L394.6 904.5L387.8 904.5L380.9 904.5L374.0 904.5L367.2 904.5L360.3 904.5L353.4 904.5L346.6 904.5L339.7 904.5L332.8 904.5L325.9 908.0L319.1 955.0L312.2 1047.0L305.3 1159.4L298.5 1181.6L291.6 1186.0L284.7 1200.0L277.8 1213.8L271.0 1224.3L264.1 1240.2L257.2 1254.4L250.4 1280.4L243.5 1298.2L236.6 1332.6L229.8 1327.8L222.9 1409.0L216.0 1378.1L209.1 1439.4L202.3 1488.7L195.4 1518.6L188.5 1568.4" stroke="#4db8e8" stroke-width="2.8" fill="none" stroke-linejoin="round"/>
<path d="M470.2 909.6L465.8 907.0L465.8 901.9L470.2 899.4L474.6 901.9L474.6 907.0Z" fill="#4db8e8"/>
<path d="M463.3 909.6L458.9 907.0L458.9 901.9L463.3 899.4L467.8 901.9L467.8 907.0Z" fill="#4db8e8"/>
<path d="M456.5 909.6L452.1 907.0L452.1 901.9L456.5 899.4L460.9 901.9L460.9 907.0Z" fill="#4db8e8"/>
<path d="M449.6 909.6L445.2 907.0L445.2 901.9L449.6 899.4L454.0 901.9L454.0 907.0Z" fill="#4db8e8"/>
<path d="M442.7 909.6L438.3 907.0L438.3 901.9L442.7 899.4L447.2 901.9L447.2 907.0Z" fill="#4db8e8"/>
<path d="M435.9 909.6L431.4 907.0L431.4 901.9L435.9 899.4L440.3 901.9L440.3 907.0Z" fill="#4db8e8"/>
<path d="M429.0 909.6L424.6 907.0L424.6 901.9L429.0 899.4L433.4 901.9L433.4 907.0Z" fill="#4db8e8"/>
<path d="M422.1 909.6L417.7 907.0L417.7 901.9L422.1 899.4L426.5 901.9L426.5 907.0Z" fill="#4db8e8"/>
<path d="M415.3 909.6L410.8 907.0L410.8 901.9L415.3 899.4L419.7 901.9L419.7 907.0Z" fill="#4db8e8"/>
<path d="M408.4 909.6L404.0 907.0L404.0 901.9L408.4 899.4L412.8 901.9L412.8 907.0Z" fill="#4db8e8"/>
<path d="M401.5 909.6L397.1 907.0L397.1 901.9L401.5 899.4L405.9 901.9L405.9 907.0Z" fill="#4db8e8"/>
<path d="M394.6 909.6L390.2 907.0L390.2 901.9L394.6 899.4L399.1 901.9L399.1 907.0Z" fill="#4db8e8"/>
<path d="M387.8 909.6L383.4 907.0L383.4 901.9L387.8 899.4L392.2 901.9L392.2 907.0Z" fill="#4db8e8"/>
<path d="M380.9 909.6L376.5 907.0L376.5 901.9L380.9 899.4L385.3 901.9L385.3 907.0Z" fill="#4db8e8"/>
<path d="M374.0 909.6L369.6 907.0L369.6 901.9L374.0 899.4L378.4 901.9L378.4 907.0Z" fill="#4db8e8"/>
<path d="M367.2 909.6L362.7 907.0L362.7 901.9L367.2 899.4L371.6 901.9L371.6 907.0Z" fill="#4db8e8"/>
<path d="M360.3 909.6L355.9 907.0L355.9 901.9L360.3 899.4L364.7 901.9L364.7 907.0Z" fill="#4db8e8"/>
<path d="M353.4 909.6L349.0 907.0L349.0 901.9L353.4 899.4L357.8 901.9L357.8 907.0Z" fill="#4db8e8"/>
<path d="M346.6 909.6L342.1 907.0L342.1 901.9L346.6 899.4L351.0 901.9L351.0 907.0Z" fill="#4db8e8"/>
<path d="M339.7 909.6L335.3 907.0L335.3 901.9L339.7 899.4L344.1 901.9L344.1 907.0Z" fill="#4db8e8"/>
<path d="M332.8 909.6L328.4 907.0L328.4 901.9L332.8 899.4L337.2 901.9L337.2 907.0Z" fill="#4db8e8"/>
<path d="M325.9 913.1L321.5 910.5L321.5 905.5L325.9 902.9L330.4 905.5L330.4 910.5Z" fill="#4db8e8"/>
<path d="M319.1 960.1L314.7 957.5L314.7 952.5L319.1 949.9L323.5 952.5L323.5 957.5Z" fill="#4db8e8"/>
<path d="M312.2 1052.1L307.8 1049.5L307.8 1044.5L312.2 1041.9L316.6 1044.5L316.6 1049.5Z" fill="#4db8e8"/>
<path d="M305.3 1164.5L300.9 1162.0L300.9 1156.9L305.3 1154.3L309.7 1156.9L309.7 1162.0Z" fill="#4db8e8"/>
<path d="M298.5 1186.7L294.0 1184.1L294.0 1179.0L298.5 1176.5L302.9 1179.0L302.9 1184.1Z" fill="#4db8e8"/>
<path d="M291.6 1191.1L287.2 1188.5L287.2 1183.5L291.6 1180.9L296.0 1183.5L296.0 1188.5Z" fill="#4db8e8"/>
<path d="M284.7 1205.1L280.3 1202.5L280.3 1197.5L284.7 1194.9L289.1 1197.5L289.1 1202.5Z" fill="#4db8e8"/>
<path d="M277.8 1218.9L273.4 1216.3L273.4 1211.2L277.8 1208.7L282.3 1211.2L282.3 1216.3Z" fill="#4db8e8"/>
<path d="M271.0 1229.4L266.6 1226.8L266.6 1221.8L271.0 1219.2L275.4 1221.8L275.4 1226.8Z" fill="#4db8e8"/>
<path d="M264.1 1245.3L259.7 1242.8L259.7 1237.7L264.1 1235.1L268.5 1237.7L268.5 1242.8Z" fill="#4db8e8"/>
<path d="M257.2 1259.5L252.8 1257.0L252.8 1251.9L257.2 1249.3L261.7 1251.9L261.7 1257.0Z" fill="#4db8e8"/>
<path d="M250.4 1285.5L245.9 1283.0L245.9 1277.9L250.4 1275.3L254.8 1277.9L254.8 1283.0Z" fill="#4db8e8"/>
<path d="M243.5 1303.3L239.1 1300.8L239.1 1295.7L243.5 1293.1L247.9 1295.7L247.9 1300.8Z" fill="#4db8e8"/>
<path d="M236.6 1337.7L232.2 1335.1L232.2 1330.0L236.6 1327.5L241.0 1330.0L241.0 1335.1Z" fill="#4db8e8"/>
<path d="M229.8 1332.9L225.3 1330.3L225.3 1325.2L229.8 1322.7L234.2 1325.2L234.2 1330.3Z" fill="#4db8e8"/>
<path d="M222.9 1414.1L218.5 1411.5L218.5 1406.5L222.9 1403.9L227.3 1406.5L227.3 1411.5Z" fill="#4db8e8"/>
<path d="M216.0 1383.2L211.6 1380.6L211.6 1375.5L216.0 1373.0L220.4 1375.5L220.4 1380.6Z" fill="#4db8e8"/>
<path d="M209.1 1444.5L204.7 1442.0L204.7 1436.9L209.1 1434.3L213.6 1436.9L213.6 1442.0Z" fill="#4db8e8"/>
<path d="M202.3 1493.8L197.9 1491.2L197.9 1486.2L202.3 1483.6L206.7 1486.2L206.7 1491.2Z" fill="#4db8e8"/>
<path d="M195.4 1523.7L191.0 1521.1L191.0 1516.0L195.4 1513.5L199.8 1516.0L199.8 1521.1Z" fill="#4db8e8"/>
<path d="M188.5 1573.5L184.1 1571.0L184.1 1565.9L188.5 1563.3L192.9 1565.9L192.9 1571.0Z" fill="#4db8e8"/>
<path d="M676.3 904.5L683.2 904.5L690.1 904.5L696.9 904.5L703.8 904.5L710.7 904.5L717.6 904.5L724.4 904.5L731.3 904.5L738.2 904.5L745.0 904.5L751.9 904.5L758.8 904.5L765.6 904.5L772.5 907.0L779.4 918.0L786.3 946.2L793.1 1015.0L800.0 1156.2L806.9 1345.4" stroke="#4db8e8" stroke-width="2.8" fill="none" stroke-linejoin="round"/>
<path d="M676.3 909.6L671.9 907.0L671.9 901.9L676.3 899.4L680.7 901.9L680.7 907.0Z" fill="#4db8e8"/>
<path d="M683.2 909.6L678.8 907.0L678.8 901.9L683.2 899.4L687.6 901.9L687.6 907.0Z" fill="#4db8e8"/>
<path d="M690.1 909.6L685.7 907.0L685.7 901.9L690.1 899.4L694.5 901.9L694.5 907.0Z" fill="#4db8e8"/>
<path d="M696.9 909.6L692.5 907.0L692.5 901.9L696.9 899.4L701.4 901.9L701.4 907.0Z" fill="#4db8e8"/>
<path d="M703.8 909.6L699.4 907.0L699.4 901.9L703.8 899.4L708.2 901.9L708.2 907.0Z" fill="#4db8e8"/>
<path d="M710.7 909.6L706.3 907.0L706.3 901.9L710.7 899.4L715.1 901.9L715.1 907.0Z" fill="#4db8e8"/>
<path d="M717.6 909.6L713.1 907.0L713.1 901.9L717.6 899.4L722.0 901.9L722.0 907.0Z" fill="#4db8e8"/>
<path d="M724.4 909.6L720.0 907.0L720.0 901.9L724.4 899.4L728.8 901.9L728.8 907.0Z" fill="#4db8e8"/>
<path d="M731.3 909.6L726.9 907.0L726.9 901.9L731.3 899.4L735.7 901.9L735.7 907.0Z" fill="#4db8e8"/>
<path d="M738.2 909.6L733.7 907.0L733.7 901.9L738.2 899.4L742.6 901.9L742.6 907.0Z" fill="#4db8e8"/>
<path d="M745.0 909.6L740.6 907.0L740.6 901.9L745.0 899.4L749.5 901.9L749.5 907.0Z" fill="#4db8e8"/>
<path d="M751.9 909.6L747.5 907.0L747.5 901.9L751.9 899.4L756.3 901.9L756.3 907.0Z" fill="#4db8e8"/>
<path d="M758.8 909.6L754.4 907.0L754.4 901.9L758.8 899.4L763.2 901.9L763.2 907.0Z" fill="#4db8e8"/>
<path d="M765.6 909.6L761.2 907.0L761.2 901.9L765.6 899.4L770.1 901.9L770.1 907.0Z" fill="#4db8e8"/>
<path d="M772.5 912.1L768.1 909.5L768.1 904.5L772.5 901.9L776.9 904.5L776.9 909.5Z" fill="#4db8e8"/>
<path d="M779.4 923.1L775.0 920.5L775.0 915.5L779.4 912.9L783.8 915.5L783.8 920.5Z" fill="#4db8e8"/>
<path d="M786.3 951.3L781.8 948.8L781.8 943.7L786.3 941.1L790.7 943.7L790.7 948.8Z" fill="#4db8e8"/>
<path d="M793.1 1020.1L788.7 1017.5L788.7 1012.5L793.1 1009.9L797.5 1012.5L797.5 1017.5Z" fill="#4db8e8"/>
<path d="M800.0 1161.3L795.6 1158.8L795.6 1153.7L800.0 1151.1L804.4 1153.7L804.4 1158.8Z" fill="#4db8e8"/>
<path d="M806.9 1350.5L802.5 1348.0L802.5 1342.9L806.9 1340.3L811.3 1342.9L811.3 1348.0Z" fill="#4db8e8"/>
<path d="M470.2 904.5L463.3 904.5L456.5 904.5L449.6 904.5L442.7 904.5L435.9 904.5L429.0 904.5L422.1 904.5L415.3 904.5L408.4 904.5L401.5 904.5L394.6 904.5L387.8 904.5L380.9 904.5L374.0 904.5L367.2 904.5L360.3 904.5L353.4 904.5L346.6 904.5L339.7 904.5L332.8 904.5L325.9 918.0L319.1 960.0L312.2 1064.7L305.3 1165.6L298.5 1189.9L291.6 1199.3L284.7 1212.0L277.8 1225.0L271.0 1236.7L264.1 1250.3L257.2 1291.1L250.4 1300.5L243.5 1344.4L236.6 1355.0L229.8 1388.1L222.9 1452.2L216.0 1440.0L209.1 1427.6L195.4 1568.4" stroke="#33ee33" stroke-width="2.8" fill="none" stroke-linejoin="round"/>
<path d="M470.2 899.2L475.3 902.8L473.3 908.7L467.1 908.7L465.2 902.8Z" fill="#33ee33"/>
<path d="M463.3 899.2L468.4 902.8L466.5 908.7L460.2 908.7L458.3 902.8Z" fill="#33ee33"/>
<path d="M456.5 899.2L461.5 902.8L459.6 908.7L453.4 908.7L451.4 902.8Z" fill="#33ee33"/>
<path d="M449.6 899.2L454.6 902.8L452.7 908.7L446.5 908.7L444.6 902.8Z" fill="#33ee33"/>
<path d="M442.7 899.2L447.8 902.8L445.9 908.7L439.6 908.7L437.7 902.8Z" fill="#33ee33"/>
<path d="M435.9 899.2L440.9 902.8L439.0 908.7L432.8 908.7L430.8 902.8Z" fill="#33ee33"/>
<path d="M429.0 899.2L434.0 902.8L432.1 908.7L425.9 908.7L424.0 902.8Z" fill="#33ee33"/>
<path d="M422.1 899.2L427.2 902.8L425.2 908.7L419.0 908.7L417.1 902.8Z" fill="#33ee33"/>
<path d="M415.3 899.2L420.3 902.8L418.4 908.7L412.1 908.7L410.2 902.8Z" fill="#33ee33"/>
<path d="M408.4 899.2L413.4 902.8L411.5 908.7L405.3 908.7L403.3 902.8Z" fill="#33ee33"/>
<path d="M401.5 899.2L406.6 902.8L404.6 908.7L398.4 908.7L396.5 902.8Z" fill="#33ee33"/>
<path d="M394.6 899.2L399.7 902.8L397.8 908.7L391.5 908.7L389.6 902.8Z" fill="#33ee33"/>
<path d="M387.8 899.2L392.8 902.8L390.9 908.7L384.7 908.7L382.7 902.8Z" fill="#33ee33"/>
<path d="M380.9 899.2L385.9 902.8L384.0 908.7L377.8 908.7L375.9 902.8Z" fill="#33ee33"/>
<path d="M374.0 899.2L379.1 902.8L377.1 908.7L370.9 908.7L369.0 902.8Z" fill="#33ee33"/>
<path d="M367.2 899.2L372.2 902.8L370.3 908.7L364.0 908.7L362.1 902.8Z" fill="#33ee33"/>
<path d="M360.3 899.2L365.3 902.8L363.4 908.7L357.2 908.7L355.3 902.8Z" fill="#33ee33"/>
<path d="M353.4 899.2L358.5 902.8L356.5 908.7L350.3 908.7L348.4 902.8Z" fill="#33ee33"/>
<path d="M346.6 899.2L351.6 902.8L349.7 908.7L343.4 908.7L341.5 902.8Z" fill="#33ee33"/>
<path d="M339.7 899.2L344.7 902.8L342.8 908.7L336.6 908.7L334.6 902.8Z" fill="#33ee33"/>
<path d="M332.8 899.2L337.9 902.8L335.9 908.7L329.7 908.7L327.8 902.8Z" fill="#33ee33"/>
<path d="M325.9 912.7L331.0 916.4L329.1 922.3L322.8 922.3L320.9 916.4Z" fill="#33ee33"/>
<path d="M319.1 954.7L324.1 958.4L322.2 964.3L316.0 964.3L314.0 958.4Z" fill="#33ee33"/>
<path d="M312.2 1059.4L317.2 1063.1L315.3 1069.0L309.1 1069.0L307.2 1063.1Z" fill="#33ee33"/>
<path d="M305.3 1160.3L310.4 1164.0L308.4 1169.9L302.2 1169.9L300.3 1164.0Z" fill="#33ee33"/>
<path d="M298.5 1184.6L303.5 1188.3L301.6 1194.2L295.3 1194.2L293.4 1188.3Z" fill="#33ee33"/>
<path d="M291.6 1194.0L296.6 1197.7L294.7 1203.6L288.5 1203.6L286.5 1197.7Z" fill="#33ee33"/>
<path d="M284.7 1206.7L289.8 1210.4L287.8 1216.3L281.6 1216.3L279.7 1210.4Z" fill="#33ee33"/>
<path d="M277.8 1219.7L282.9 1223.4L281.0 1229.3L274.7 1229.3L272.8 1223.4Z" fill="#33ee33"/>
<path d="M271.0 1231.4L276.0 1235.1L274.1 1241.0L267.9 1241.0L265.9 1235.1Z" fill="#33ee33"/>
<path d="M264.1 1245.0L269.1 1248.7L267.2 1254.6L261.0 1254.6L259.1 1248.7Z" fill="#33ee33"/>
<path d="M257.2 1285.8L262.3 1289.5L260.4 1295.4L254.1 1295.4L252.2 1289.5Z" fill="#33ee33"/>
<path d="M250.4 1295.2L255.4 1298.9L253.5 1304.8L247.3 1304.8L245.3 1298.9Z" fill="#33ee33"/>
<path d="M243.5 1339.1L248.5 1342.8L246.6 1348.7L240.4 1348.7L238.5 1342.8Z" fill="#33ee33"/>
<path d="M236.6 1349.7L241.7 1353.4L239.7 1359.3L233.5 1359.3L231.6 1353.4Z" fill="#33ee33"/>
<path d="M229.8 1382.8L234.8 1386.5L232.9 1392.4L226.6 1392.4L224.7 1386.5Z" fill="#33ee33"/>
<path d="M222.9 1446.9L227.9 1450.6L226.0 1456.5L219.8 1456.5L217.8 1450.6Z" fill="#33ee33"/>
<path d="M216.0 1434.7L221.1 1438.4L219.1 1444.3L212.9 1444.3L211.0 1438.4Z" fill="#33ee33"/>
<path d="M209.1 1422.3L214.2 1426.0L212.3 1431.9L206.0 1431.9L204.1 1426.0Z" fill="#33ee33"/>
<path d="M195.4 1563.1L200.4 1566.8L198.5 1572.7L192.3 1572.7L190.4 1566.8Z" fill="#33ee33"/>
<path d="M676.3 904.5L683.2 904.5L690.1 904.5L696.9 904.5L703.8 904.5L710.7 904.5L717.6 904.5L724.4 904.5L731.3 904.5L738.2 904.5L745.0 904.5L751.9 904.5L758.8 904.5L765.6 904.5L772.5 907.0L779.4 920.0L786.3 952.0L793.1 1027.6L800.0 1180.8L806.9 1439.2" stroke="#33ee33" stroke-width="2.8" fill="none" stroke-linejoin="round"/>
<path d="M676.3 899.2L681.4 902.8L679.4 908.7L673.2 908.7L671.3 902.8Z" fill="#33ee33"/>
<path d="M683.2 899.2L688.2 902.8L686.3 908.7L680.1 908.7L678.2 902.8Z" fill="#33ee33"/>
<path d="M690.1 899.2L695.1 902.8L693.2 908.7L687.0 908.7L685.0 902.8Z" fill="#33ee33"/>
<path d="M696.9 899.2L702.0 902.8L700.1 908.7L693.8 908.7L691.9 902.8Z" fill="#33ee33"/>
<path d="M703.8 899.2L708.9 902.8L706.9 908.7L700.7 908.7L698.8 902.8Z" fill="#33ee33"/>
<path d="M710.7 899.2L715.7 902.8L713.8 908.7L707.6 908.7L705.6 902.8Z" fill="#33ee33"/>
<path d="M717.6 899.2L722.6 902.8L720.7 908.7L714.4 908.7L712.5 902.8Z" fill="#33ee33"/>
<path d="M724.4 899.2L729.5 902.8L727.5 908.7L721.3 908.7L719.4 902.8Z" fill="#33ee33"/>
<path d="M731.3 899.2L736.3 902.8L734.4 908.7L728.2 908.7L726.3 902.8Z" fill="#33ee33"/>
<path d="M738.2 899.2L743.2 902.8L741.3 908.7L735.0 908.7L733.1 902.8Z" fill="#33ee33"/>
<path d="M745.0 899.2L750.1 902.8L748.2 908.7L741.9 908.7L740.0 902.8Z" fill="#33ee33"/>
<path d="M751.9 899.2L756.9 902.8L755.0 908.7L748.8 908.7L746.9 902.8Z" fill="#33ee33"/>
<path d="M758.8 899.2L763.8 902.8L761.9 908.7L755.7 908.7L753.7 902.8Z" fill="#33ee33"/>
<path d="M765.6 899.2L770.7 902.8L768.8 908.7L762.5 908.7L760.6 902.8Z" fill="#33ee33"/>
<path d="M772.5 901.7L777.6 905.4L775.6 911.3L769.4 911.3L767.5 905.4Z" fill="#33ee33"/>
<path d="M779.4 914.7L784.4 918.4L782.5 924.3L776.3 924.3L774.3 918.4Z" fill="#33ee33"/>
<path d="M786.3 946.7L791.3 950.4L789.4 956.3L783.1 956.3L781.2 950.4Z" fill="#33ee33"/>
<path d="M793.1 1022.3L798.2 1026.0L796.2 1031.9L790.0 1031.9L788.1 1026.0Z" fill="#33ee33"/>
<path d="M800.0 1175.5L805.0 1179.2L803.1 1185.1L796.9 1185.1L795.0 1179.2Z" fill="#33ee33"/>
<path d="M806.9 1433.9L811.9 1437.6L810.0 1443.5L803.8 1443.5L801.8 1437.6Z" fill="#33ee33"/>
<path d="M470.2 904.5L463.3 904.5L456.5 904.5L449.6 904.5L442.7 904.5L435.9 904.5L429.0 904.5L422.1 904.5L415.3 904.5L408.4 904.5L401.5 904.5L394.6 904.5L387.8 904.5L380.9 904.5L374.0 904.5L367.2 904.5L360.3 904.5L353.4 904.5L346.6 904.5L339.7 904.5L332.8 906.0L325.9 915.0L319.1 962.6L312.2 1072.6L305.3 1178.2L298.5 1194.4L291.6 1211.1L284.7 1225.0L277.8 1239.0L271.0 1250.0L264.1 1263.9L257.2 1284.0L250.4 1316.6L243.5 1335.5L236.6 1368.6L229.8 1409.0L222.9 1429.6L216.0 1418.7L209.1 1518.6L202.3 1568.4L195.4 1568.4L188.5 1568.4L181.7 1568.4" stroke="#800000" stroke-width="2.8" fill="none" stroke-linejoin="round"/>
<path d="M463.8 904.5L473.5 898.9L473.5 910.1Z" fill="#800000"/>
<path d="M456.9 904.5L466.6 898.9L466.6 910.1Z" fill="#800000"/>
<path d="M450.0 904.5L459.7 898.9L459.7 910.1Z" fill="#800000"/>
<path d="M443.1 904.5L452.8 898.9L452.8 910.1Z" fill="#800000"/>
<path d="M436.3 904.5L446.0 898.9L446.0 910.1Z" fill="#800000"/>
<path d="M429.4 904.5L439.1 898.9L439.1 910.1Z" fill="#800000"/>
<path d="M422.5 904.5L432.2 898.9L432.2 910.1Z" fill="#800000"/>
<path d="M415.7 904.5L425.4 898.9L425.4 910.1Z" fill="#800000"/>
<path d="M408.8 904.5L418.5 898.9L418.5 910.1Z" fill="#800000"/>
<path d="M401.9 904.5L411.6 898.9L411.6 910.1Z" fill="#800000"/>
<path d="M395.0 904.5L404.7 898.9L404.7 910.1Z" fill="#800000"/>
<path d="M388.2 904.5L397.9 898.9L397.9 910.1Z" fill="#800000"/>
<path d="M381.3 904.5L391.0 898.9L391.0 910.1Z" fill="#800000"/>
<path d="M374.4 904.5L384.1 898.9L384.1 910.1Z" fill="#800000"/>
<path d="M367.6 904.5L377.3 898.9L377.3 910.1Z" fill="#800000"/>
<path d="M360.7 904.5L370.4 898.9L370.4 910.1Z" fill="#800000"/>
<path d="M353.8 904.5L363.5 898.9L363.5 910.1Z" fill="#800000"/>
<path d="M347.0 904.5L356.7 898.9L356.7 910.1Z" fill="#800000"/>
<path d="M340.1 904.5L349.8 898.9L349.8 910.1Z" fill="#800000"/>
<path d="M333.2 904.5L342.9 898.9L342.9 910.1Z" fill="#800000"/>
<path d="M326.3 906.0L336.0 900.4L336.0 911.6Z" fill="#800000"/>
<path d="M319.5 915.0L329.2 909.4L329.2 920.6Z" fill="#800000"/>
<path d="M312.6 962.6L322.3 957.0L322.3 968.2Z" fill="#800000"/>
<path d="M305.7 1072.6L315.4 1067.0L315.4 1078.2Z" fill="#800000"/>
<path d="M298.9 1178.2L308.6 1172.6L308.6 1183.8Z" fill="#800000"/>
<path d="M292.0 1194.4L301.7 1188.8L301.7 1200.0Z" fill="#800000"/>
<path d="M285.1 1211.1L294.8 1205.5L294.8 1216.7Z" fill="#800000"/>
<path d="M278.3 1225.0L288.0 1219.4L288.0 1230.6Z" fill="#800000"/>
<path d="M271.4 1239.0L281.1 1233.4L281.1 1244.6Z" fill="#800000"/>
<path d="M264.5 1250.0L274.2 1244.4L274.2 1255.6Z" fill="#800000"/>
<path d="M257.6 1263.9L267.3 1258.3L267.3 1269.5Z" fill="#800000"/>
<path d="M250.8 1284.0L260.5 1278.4L260.5 1289.6Z" fill="#800000"/>
<path d="M243.9 1316.6L253.6 1311.0L253.6 1322.2Z" fill="#800000"/>
<path d="M237.0 1335.5L246.7 1329.9L246.7 1341.1Z" fill="#800000"/>
<path d="M230.2 1368.6L239.9 1363.0L239.9 1374.2Z" fill="#800000"/>
<path d="M223.3 1409.0L233.0 1403.4L233.0 1414.6Z" fill="#800000"/>
<path d="M216.4 1429.6L226.1 1424.0L226.1 1435.2Z" fill="#800000"/>
<path d="M209.5 1418.7L219.2 1413.1L219.2 1424.3Z" fill="#800000"/>
<path d="M202.7 1518.6L212.4 1513.0L212.4 1524.2Z" fill="#800000"/>
<path d="M195.8 1568.4L205.5 1562.8L205.5 1574.0Z" fill="#800000"/>
<path d="M188.9 1568.4L198.6 1562.8L198.6 1574.0Z" fill="#800000"/>
<path d="M182.1 1568.4L191.8 1562.8L191.8 1574.0Z" fill="#800000"/>
<path d="M175.2 1568.4L184.9 1562.8L184.9 1574.0Z" fill="#800000"/>
<path d="M676.3 904.5L683.2 904.5L690.1 904.5L696.9 904.5L703.8 904.5L710.7 904.5L717.6 904.5L724.4 904.5L731.3 904.5L738.2 904.5L745.0 904.5L751.9 904.5L758.8 904.5L765.6 904.5L772.5 908.0L779.4 920.0L786.3 954.1L793.1 1036.2L800.0 1204.4L806.9 1489.4" stroke="#800000" stroke-width="2.8" fill="none" stroke-linejoin="round"/>
<path d="M669.9 904.5L679.6 898.9L679.6 910.1Z" fill="#800000"/>
<path d="M676.7 904.5L686.4 898.9L686.4 910.1Z" fill="#800000"/>
<path d="M683.6 904.5L693.3 898.9L693.3 910.1Z" fill="#800000"/>
<path d="M690.5 904.5L700.2 898.9L700.2 910.1Z" fill="#800000"/>
<path d="M697.3 904.5L707.0 898.9L707.0 910.1Z" fill="#800000"/>
<path d="M704.2 904.5L713.9 898.9L713.9 910.1Z" fill="#800000"/>
<path d="M711.1 904.5L720.8 898.9L720.8 910.1Z" fill="#800000"/>
<path d="M718.0 904.5L727.7 898.9L727.7 910.1Z" fill="#800000"/>
<path d="M724.8 904.5L734.5 898.9L734.5 910.1Z" fill="#800000"/>
<path d="M731.7 904.5L741.4 898.9L741.4 910.1Z" fill="#800000"/>
<path d="M738.6 904.5L748.3 898.9L748.3 910.1Z" fill="#800000"/>
<path d="M745.4 904.5L755.1 898.9L755.1 910.1Z" fill="#800000"/>
<path d="M752.3 904.5L762.0 898.9L762.0 910.1Z" fill="#800000"/>
<path d="M759.2 904.5L768.9 898.9L768.9 910.1Z" fill="#800000"/>
<path d="M766.1 908.0L775.8 902.4L775.8 913.6Z" fill="#800000"/>
<path d="M772.9 920.0L782.6 914.4L782.6 925.6Z" fill="#800000"/>
<path d="M779.8 954.1L789.5 948.5L789.5 959.7Z" fill="#800000"/>
<path d="M786.7 1036.2L796.4 1030.6L796.4 1041.8Z" fill="#800000"/>
<path d="M793.5 1204.4L803.2 1198.8L803.2 1210.0Z" fill="#800000"/>
<path d="M800.4 1489.4L810.1 1483.8L810.1 1495.0Z" fill="#800000"/>
<path d="M470.2 904.5L463.3 904.5L456.5 904.5L449.6 904.5L442.7 904.5L435.9 904.5L429.0 904.5L422.1 904.5L415.3 904.5L408.4 904.5L401.5 904.5L394.6 904.5L387.8 904.5L380.9 904.5L374.0 904.5L367.2 904.5L360.3 904.5L353.4 904.5L346.6 904.5L339.7 904.5L332.8 908.0L325.9 921.0L319.1 973.8L312.2 1095.4L305.3 1197.0L298.5 1205.0L291.6 1212.0L284.7 1234.5L277.8 1252.0L271.0 1273.8L264.1 1311.0L257.2 1318.0L250.4 1322.7L243.5 1345.0L236.6 1383.4L229.8 1427.6L222.9 1518.6L216.0 1489.5L202.3 1568.4" stroke="#dd55cc" stroke-width="2.8" fill="none" stroke-linejoin="round"/>
<path d="M476.7 904.5L467.0 898.9L467.0 910.1Z" fill="#dd55cc"/>
<path d="M469.8 904.5L460.1 898.9L460.1 910.1Z" fill="#dd55cc"/>
<path d="M462.9 904.5L453.2 898.9L453.2 910.1Z" fill="#dd55cc"/>
<path d="M456.1 904.5L446.4 898.9L446.4 910.1Z" fill="#dd55cc"/>
<path d="M449.2 904.5L439.5 898.9L439.5 910.1Z" fill="#dd55cc"/>
<path d="M442.3 904.5L432.6 898.9L432.6 910.1Z" fill="#dd55cc"/>
<path d="M435.5 904.5L425.8 898.9L425.8 910.1Z" fill="#dd55cc"/>
<path d="M428.6 904.5L418.9 898.9L418.9 910.1Z" fill="#dd55cc"/>
<path d="M421.7 904.5L412.0 898.9L412.0 910.1Z" fill="#dd55cc"/>
<path d="M414.9 904.5L405.2 898.9L405.2 910.1Z" fill="#dd55cc"/>
<path d="M408.0 904.5L398.3 898.9L398.3 910.1Z" fill="#dd55cc"/>
<path d="M401.1 904.5L391.4 898.9L391.4 910.1Z" fill="#dd55cc"/>
<path d="M394.2 904.5L384.5 898.9L384.5 910.1Z" fill="#dd55cc"/>
<path d="M387.4 904.5L377.7 898.9L377.7 910.1Z" fill="#dd55cc"/>
<path d="M380.5 904.5L370.8 898.9L370.8 910.1Z" fill="#dd55cc"/>
<path d="M373.6 904.5L363.9 898.9L363.9 910.1Z" fill="#dd55cc"/>
<path d="M366.8 904.5L357.1 898.9L357.1 910.1Z" fill="#dd55cc"/>
<path d="M359.9 904.5L350.2 898.9L350.2 910.1Z" fill="#dd55cc"/>
<path d="M353.0 904.5L343.3 898.9L343.3 910.1Z" fill="#dd55cc"/>
<path d="M346.1 904.5L336.4 898.9L336.4 910.1Z" fill="#dd55cc"/>
<path d="M339.3 908.0L329.6 902.4L329.6 913.6Z" fill="#dd55cc"/>
<path d="M332.4 921.0L322.7 915.4L322.7 926.6Z" fill="#dd55cc"/>
<path d="M325.5 973.8L315.8 968.2L315.8 979.4Z" fill="#dd55cc"/>
<path d="M318.7 1095.4L309.0 1089.8L309.0 1101.0Z" fill="#dd55cc"/>
<path d="M311.8 1197.0L302.1 1191.4L302.1 1202.6Z" fill="#dd55cc"/>
<path d="M304.9 1205.0L295.2 1199.4L295.2 1210.6Z" fill="#dd55cc"/>
<path d="M298.1 1212.0L288.4 1206.4L288.4 1217.6Z" fill="#dd55cc"/>
<path d="M291.2 1234.5L281.5 1228.9L281.5 1240.1Z" fill="#dd55cc"/>
<path d="M284.3 1252.0L274.6 1246.4L274.6 1257.6Z" fill="#dd55cc"/>
<path d="M277.4 1273.8L267.7 1268.2L267.7 1279.4Z" fill="#dd55cc"/>
<path d="M270.6 1311.0L260.9 1305.4L260.9 1316.6Z" fill="#dd55cc"/>
<path d="M263.7 1318.0L254.0 1312.4L254.0 1323.6Z" fill="#dd55cc"/>
<path d="M256.8 1322.7L247.1 1317.1L247.1 1328.3Z" fill="#dd55cc"/>
<path d="M250.0 1345.0L240.3 1339.4L240.3 1350.6Z" fill="#dd55cc"/>
<path d="M243.1 1383.4L233.4 1377.8L233.4 1389.0Z" fill="#dd55cc"/>
<path d="M236.2 1427.6L226.5 1422.0L226.5 1433.2Z" fill="#dd55cc"/>
<path d="M229.4 1518.6L219.7 1513.0L219.7 1524.2Z" fill="#dd55cc"/>
<path d="M222.5 1489.5L212.8 1483.9L212.8 1495.1Z" fill="#dd55cc"/>
<path d="M208.7 1568.4L199.0 1562.8L199.0 1574.0Z" fill="#dd55cc"/>
<path d="M676.3 904.5L683.2 904.5L690.1 904.5L696.9 904.5L703.8 904.5L710.7 904.5L717.6 904.5L724.4 904.5L731.3 904.5L738.2 904.5L745.0 904.5L751.9 904.5L758.8 904.5L765.6 904.5L772.5 909.0L779.4 925.0L786.3 964.0L793.1 1056.7L800.0 1244.4" stroke="#dd55cc" stroke-width="2.8" fill="none" stroke-linejoin="round"/>
<path d="M682.8 904.5L673.1 898.9L673.1 910.1Z" fill="#dd55cc"/>
<path d="M689.7 904.5L680.0 898.9L680.0 910.1Z" fill="#dd55cc"/>
<path d="M696.5 904.5L686.8 898.9L686.8 910.1Z" fill="#dd55cc"/>
<path d="M703.4 904.5L693.7 898.9L693.7 910.1Z" fill="#dd55cc"/>
<path d="M710.3 904.5L700.6 898.9L700.6 910.1Z" fill="#dd55cc"/>
<path d="M717.2 904.5L707.5 898.9L707.5 910.1Z" fill="#dd55cc"/>
<path d="M724.0 904.5L714.3 898.9L714.3 910.1Z" fill="#dd55cc"/>
<path d="M730.9 904.5L721.2 898.9L721.2 910.1Z" fill="#dd55cc"/>
<path d="M737.8 904.5L728.1 898.9L728.1 910.1Z" fill="#dd55cc"/>
<path d="M744.6 904.5L734.9 898.9L734.9 910.1Z" fill="#dd55cc"/>
<path d="M751.5 904.5L741.8 898.9L741.8 910.1Z" fill="#dd55cc"/>
<path d="M758.4 904.5L748.7 898.9L748.7 910.1Z" fill="#dd55cc"/>
<path d="M765.2 904.5L755.5 898.9L755.5 910.1Z" fill="#dd55cc"/>
<path d="M772.1 904.5L762.4 898.9L762.4 910.1Z" fill="#dd55cc"/>
<path d="M779.0 909.0L769.3 903.4L769.3 914.6Z" fill="#dd55cc"/>
<path d="M785.9 925.0L776.2 919.4L776.2 930.6Z" fill="#dd55cc"/>
<path d="M792.7 964.0L783.0 958.4L783.0 969.6Z" fill="#dd55cc"/>
<path d="M799.6 1056.7L789.9 1051.1L789.9 1062.3Z" fill="#dd55cc"/>
<path d="M806.5 1244.4L796.8 1238.8L796.8 1250.0Z" fill="#dd55cc"/>
<path d="M470.2 904.5L463.3 904.5L456.5 904.5L449.6 904.5L442.7 904.5L435.9 904.5L429.0 904.5L422.1 904.5L415.3 904.5L408.4 904.5L401.5 904.5L394.6 904.5L387.8 904.5L380.9 904.5L374.0 904.5L367.2 904.5L360.3 904.5L353.4 904.5L346.6 904.5L339.7 906.0L332.8 909.2L325.9 928.1L319.1 988.8L312.2 1123.7L305.3 1199.0L298.5 1221.0L291.6 1250.5L284.7 1247.8L277.8 1265.7L271.0 1291.1L264.1 1323.7L257.2 1339.1L250.4 1363.9L243.5 1402.5L236.6 1428.6L229.8 1439.4L222.9 1468.0L216.0 1489.1L209.1 1452.7L202.3 1568.4" stroke="#ff8000" stroke-width="2.8" fill="none" stroke-linejoin="round"/>
<circle cx="470.2" cy="904.5" r="4.6" fill="#ff8000"/>
<circle cx="463.3" cy="904.5" r="4.6" fill="#ff8000"/>
<circle cx="456.5" cy="904.5" r="4.6" fill="#ff8000"/>
<circle cx="449.6" cy="904.5" r="4.6" fill="#ff8000"/>
<circle cx="442.7" cy="904.5" r="4.6" fill="#ff8000"/>
<circle cx="435.9" cy="904.5" r="4.6" fill="#ff8000"/>
<circle cx="429.0" cy="904.5" r="4.6" fill="#ff8000"/>
<circle cx="422.1" cy="904.5" r="4.6" fill="#ff8000"/>
<circle cx="415.3" cy="904.5" r="4.6" fill="#ff8000"/>
<circle cx="408.4" cy="904.5" r="4.6" fill="#ff8000"/>
<circle cx="401.5" cy="904.5" r="4.6" fill="#ff8000"/>
<circle cx="394.6" cy="904.5" r="4.6" fill="#ff8000"/>
<circle cx="387.8" cy="904.5" r="4.6" fill="#ff8000"/>
<circle cx="380.9" cy="904.5" r="4.6" fill="#ff8000"/>
<circle cx="374.0" cy="904.5" r="4.6" fill="#ff8000"/>
<circle cx="367.2" cy="904.5" r="4.6" fill="#ff8000"/>
<circle cx="360.3" cy="904.5" r="4.6" fill="#ff8000"/>
<circle cx="353.4" cy="904.5" r="4.6" fill="#ff8000"/>
<circle cx="346.6" cy="904.5" r="4.6" fill="#ff8000"/>
<circle cx="339.7" cy="906.0" r="4.6" fill="#ff8000"/>
<circle cx="332.8" cy="909.2" r="4.6" fill="#ff8000"/>
<circle cx="325.9" cy="928.1" r="4.6" fill="#ff8000"/>
<circle cx="319.1" cy="988.8" r="4.6" fill="#ff8000"/>
<circle cx="312.2" cy="1123.7" r="4.6" fill="#ff8000"/>
<circle cx="305.3" cy="1199.0" r="4.6" fill="#ff8000"/>
<circle cx="298.5" cy="1221.0" r="4.6" fill="#ff8000"/>
<circle cx="291.6" cy="1250.5" r="4.6" fill="#ff8000"/>
<circle cx="284.7" cy="1247.8" r="4.6" fill="#ff8000"/>
<circle cx="277.8" cy="1265.7" r="4.6" fill="#ff8000"/>
<circle cx="271.0" cy="1291.1" r="4.6" fill="#ff8000"/>
<circle cx="264.1" cy="1323.7" r="4.6" fill="#ff8000"/>
<circle cx="257.2" cy="1339.1" r="4.6" fill="#ff8000"/>
<circle cx="250.4" cy="1363.9" r="4.6" fill="#ff8000"/>
<circle cx="243.5" cy="1402.5" r="4.6" fill="#ff8000"/>
<circle cx="236.6" cy="1428.6" r="4.6" fill="#ff8000"/>
<circle cx="229.8" cy="1439.4" r="4.6" fill="#ff8000"/>
<circle cx="222.9" cy="1468.0" r="4.6" fill="#ff8000"/>
<circle cx="216.0" cy="1489.1" r="4.6" fill="#ff8000"/>
<circle cx="209.1" cy="1452.7" r="4.6" fill="#ff8000"/>
<circle cx="202.3" cy="1568.4" r="4.6" fill="#ff8000"/>
<path d="M676.3 904.5L683.2 904.5L690.1 904.5L696.9 904.5L703.8 904.5L710.7 904.5L717.6 904.5L724.4 904.5L731.3 904.5L738.2 904.5L745.0 904.5L751.9 904.5L758.8 904.5L765.6 906.3L772.5 911.7L779.4 926.5L786.3 969.4L793.1 1072.1L800.0 1287.8" stroke="#ff8000" stroke-width="2.8" fill="none" stroke-linejoin="round"/>
<circle cx="676.3" cy="904.5" r="4.6" fill="#ff8000"/>
<circle cx="683.2" cy="904.5" r="4.6" fill="#ff8000"/>
<circle cx="690.1" cy="904.5" r="4.6" fill="#ff8000"/>
<circle cx="696.9" cy="904.5" r="4.6" fill="#ff8000"/>
<circle cx="703.8" cy="904.5" r="4.6" fill="#ff8000"/>
<circle cx="710.7" cy="904.5" r="4.6" fill="#ff8000"/>
<circle cx="717.6" cy="904.5" r="4.6" fill="#ff8000"/>
<circle cx="724.4" cy="904.5" r="4.6" fill="#ff8000"/>
<circle cx="731.3" cy="904.5" r="4.6" fill="#ff8000"/>
<circle cx="738.2" cy="904.5" r="4.6" fill="#ff8000"/>
<circle cx="745.0" cy="904.5" r="4.6" fill="#ff8000"/>
<circle cx="751.9" cy="904.5" r="4.6" fill="#ff8000"/>
<circle cx="758.8" cy="904.5" r="4.6" fill="#ff8000"/>
<circle cx="765.6" cy="906.3" r="4.6" fill="#ff8000"/>
<circle cx="772.5" cy="911.7" r="4.6" fill="#ff8000"/>
<circle cx="779.4" cy="926.5" r="4.6" fill="#ff8000"/>
<circle cx="786.3" cy="969.4" r="4.6" fill="#ff8000"/>
<circle cx="793.1" cy="1072.1" r="4.6" fill="#ff8000"/>
<circle cx="800.0" cy="1287.8" r="4.6" fill="#ff8000"/></g>
<g transform="translate(132.48 904.45) scale(0.885 1.035)"><text x="0.00" y="0" font-size="29">0</text></g>
<g transform="translate(88.47 922.95) scale(0.92 1.035)"><path d="M10.81 0.00L10.81 -25.97L4.14 -21.21L4.14 -24.78L11.13 -29.58L14.61 -29.58L14.61 0.00Z" fill="#000" stroke="#000" stroke-width="0.6" stroke-linejoin="round"/><text x="23.91" y="0" font-size="43">0</text></g>
<g transform="translate(117.49 1070.44) scale(0.885 1.035)"><path d="M24.23 0.00L24.23 -17.52L19.73 -14.30L19.73 -16.71L24.44 -19.95L26.79 -19.95L26.79 0.00Z" fill="#000" stroke="#000" stroke-width="0.6" stroke-linejoin="round"/><text x="0.00" y="0" font-size="29">−</text></g>
<g transform="translate(73.49 1088.94) scale(0.92 1.035)"><path d="M10.81 0.00L10.81 -25.97L4.14 -21.21L4.14 -24.78L11.13 -29.58L14.61 -29.58L14.61 0.00Z" fill="#000" stroke="#000" stroke-width="0.6" stroke-linejoin="round"/><text x="23.91" y="0" font-size="43">0</text></g>
<g transform="translate(117.49 1236.43) scale(0.885 1.035)"><text x="0.00" y="0" font-size="29">−2</text></g>
<g transform="translate(73.49 1254.93) scale(0.92 1.035)"><path d="M10.81 0.00L10.81 -25.97L4.14 -21.21L4.14 -24.78L11.13 -29.58L14.61 -29.58L14.61 0.00Z" fill="#000" stroke="#000" stroke-width="0.6" stroke-linejoin="round"/><text x="23.91" y="0" font-size="43">0</text></g>
<g transform="translate(117.49 1402.41) scale(0.885 1.035)"><text x="0.00" y="0" font-size="29">−3</text></g>
<g transform="translate(73.49 1420.91) scale(0.92 1.035)"><path d="M10.81 0.00L10.81 -25.97L4.14 -21.21L4.14 -24.78L11.13 -29.58L14.61 -29.58L14.61 0.00Z" fill="#000" stroke="#000" stroke-width="0.6" stroke-linejoin="round"/><text x="23.91" y="0" font-size="43">0</text></g>
<g transform="translate(117.49 1568.40) scale(0.885 1.035)"><text x="0.00" y="0" font-size="29">−4</text></g>
<g transform="translate(73.49 1586.90) scale(0.92 1.035)"><path d="M10.81 0.00L10.81 -25.97L4.14 -21.21L4.14 -24.78L11.13 -29.58L14.61 -29.58L14.61 0.00Z" fill="#000" stroke="#000" stroke-width="0.6" stroke-linejoin="round"/><text x="23.91" y="0" font-size="43">0</text></g>
<g transform="translate(161.1 1620.9) scale(0.9 1.035)"><text x="0" y="0" text-anchor="middle" font-size="43">−0.6</text></g>
<g transform="translate(298.5 1620.9) scale(0.9 1.035)"><text x="0" y="0" text-anchor="middle" font-size="43">−0.4</text></g>
<g transform="translate(435.9 1620.9) scale(0.9 1.035)"><text x="0" y="0" text-anchor="middle" font-size="43">−0.2</text></g>
<g transform="translate(573.3 1620.9) scale(0.9 1.035)"><text x="0" y="0" text-anchor="middle" font-size="43">0.0</text></g>
<g transform="translate(710.7 1620.9) scale(0.9 1.035)"><text x="0" y="0" text-anchor="middle" font-size="43">0.2</text></g>
<g transform="translate(848.1 1620.9) scale(0.9 1.035)"><text x="0" y="0" text-anchor="middle" font-size="43">0.4</text></g>
<g transform="translate(985.5 1620.9) scale(0.9 1.035)"><text x="0" y="0" text-anchor="middle" font-size="43">0.6</text></g>
<rect x="472.5" y="1066.5" width="200.0" height="464.0" fill="#fff" stroke="#333" stroke-width="1.2"/>
<line x1="477.7" y1="1092.7" x2="527.5" y2="1092.7" stroke="#0000ff" stroke-width="2.8"/>
<circle cx="502.2" cy="1092.7" r="4.6" fill="#0000ff"/>
<g transform="translate(540.90 1107.40) scale(0.915 1.0)"><path d="M10.06 0.00L10.06 -24.16L3.85 -19.73L3.85 -23.05L10.35 -27.52L13.59 -27.52L13.59 0.00Z" fill="#000" stroke="#000" stroke-width="0.6" stroke-linejoin="round"/><text x="22.25" y="0" font-size="40">00</text></g>
<g transform="translate(614.00 1107.40) scale(1.01 0.886)"><text x="0" y="0" font-size="38.5">ns</text></g>
<line x1="477.7" y1="1138.3" x2="527.5" y2="1138.3" stroke="#ff0000" stroke-width="2.8"/>
<path d="M502.2 1131.9L507.8 1141.6L496.6 1141.6Z" fill="#ff0000"/>
<g transform="translate(540.90 1153.04) scale(0.915 1.0)"><text x="0.00" y="0" font-size="40">200</text></g>
<g transform="translate(614.00 1153.04) scale(1.01 0.886)"><text x="0" y="0" font-size="38.5">ns</text></g>
<line x1="477.7" y1="1184.0" x2="527.5" y2="1184.0" stroke="#009900" stroke-width="2.8"/>
<rect x="498.2" y="1180.0" width="8.0" height="8.0" fill="#009900"/>
<g transform="translate(540.90 1198.68) scale(0.915 1.0)"><text x="0.00" y="0" font-size="40">300</text></g>
<g transform="translate(614.00 1198.68) scale(1.01 0.886)"><text x="0" y="0" font-size="38.5">ns</text></g>
<line x1="477.7" y1="1229.6" x2="527.5" y2="1229.6" stroke="#9933ff" stroke-width="2.8"/>
<path d="M502.2 1224.0L507.8 1229.6L502.2 1235.2L496.6 1229.6Z" fill="#9933ff"/>
<g transform="translate(540.90 1244.32) scale(0.915 1.0)"><text x="0.00" y="0" font-size="40">400</text></g>
<g transform="translate(614.00 1244.32) scale(1.01 0.886)"><text x="0" y="0" font-size="38.5">ns</text></g>
<line x1="477.7" y1="1275.3" x2="527.5" y2="1275.3" stroke="#d4a516" stroke-width="2.8"/>
<path d="M502.2 1281.7L507.8 1272.0L496.6 1272.0Z" fill="#d4a516"/>
<g transform="translate(540.90 1289.96) scale(0.915 1.0)"><text x="0.00" y="0" font-size="40">500</text></g>
<g transform="translate(614.00 1289.96) scale(1.01 0.886)"><text x="0" y="0" font-size="38.5">ns</text></g>
<line x1="477.7" y1="1320.9" x2="527.5" y2="1320.9" stroke="#4db8e8" stroke-width="2.8"/>
<path d="M502.2 1326.0L497.8 1323.5L497.8 1318.4L502.2 1315.8L506.6 1318.4L506.6 1323.5Z" fill="#4db8e8"/>
<g transform="translate(540.90 1335.60) scale(0.915 1.0)"><text x="0.00" y="0" font-size="40">600</text></g>
<g transform="translate(614.00 1335.60) scale(1.01 0.886)"><text x="0" y="0" font-size="38.5">ns</text></g>
<line x1="477.7" y1="1366.5" x2="527.5" y2="1366.5" stroke="#33ee33" stroke-width="2.8"/>
<path d="M502.2 1361.2L507.2 1364.9L505.3 1370.8L499.1 1370.8L497.2 1364.9Z" fill="#33ee33"/>
<g transform="translate(540.90 1381.24) scale(0.915 1.0)"><text x="0.00" y="0" font-size="40">700</text></g>
<g transform="translate(614.00 1381.24) scale(1.01 0.886)"><text x="0" y="0" font-size="38.5">ns</text></g>
<line x1="477.7" y1="1412.2" x2="527.5" y2="1412.2" stroke="#800000" stroke-width="2.8"/>
<path d="M495.7 1412.2L505.4 1406.6L505.4 1417.8Z" fill="#800000"/>
<g transform="translate(540.90 1426.88) scale(0.915 1.0)"><text x="0.00" y="0" font-size="40">800</text></g>
<g transform="translate(614.00 1426.88) scale(1.01 0.886)"><text x="0" y="0" font-size="38.5">ns</text></g>
<line x1="477.7" y1="1457.8" x2="527.5" y2="1457.8" stroke="#dd55cc" stroke-width="2.8"/>
<path d="M508.7 1457.8L499.0 1452.2L499.0 1463.4Z" fill="#dd55cc"/>
<g transform="translate(540.90 1472.52) scale(0.915 1.0)"><text x="0.00" y="0" font-size="40">900</text></g>
<g transform="translate(614.00 1472.52) scale(1.01 0.886)"><text x="0" y="0" font-size="38.5">ns</text></g>
<line x1="477.7" y1="1503.5" x2="527.5" y2="1503.5" stroke="#ff8000" stroke-width="2.8"/>
<circle cx="502.2" cy="1503.5" r="4.6" fill="#ff8000"/>
<g transform="translate(540.90 1518.16) scale(0.915 1.0)"><path d="M10.06 0.00L10.06 -24.16L3.85 -19.73L3.85 -23.05L10.35 -27.52L13.59 -27.52L13.59 0.00Z" fill="#000" stroke="#000" stroke-width="0.6" stroke-linejoin="round"/></g>
<g transform="translate(572.80 1518.16) scale(1.01 0.886)"><text x="0" y="0" font-size="38.5">μs</text></g>
<text x="479.4" y="989.9" font-size="37" letter-spacing="0.72">Device size</text>
<g transform="translate(493.20 1034.90) scale(0.918 1.0)"><path d="M10.06 0.00L10.06 -24.16L3.85 -19.73L3.85 -23.05L10.35 -27.52L13.59 -27.52L13.59 0.00Z" fill="#000" stroke="#000" stroke-width="0.6" stroke-linejoin="round"/><text x="22.25" y="0" font-size="40">20</text></g>
<g transform="translate(565.00 1034.90) scale(0.977 0.92)"><text x="0" y="0" font-size="38.5">nm</text></g>
<rect x="622.5" y="1007" width="28" height="27" fill="none" stroke="#000" stroke-width="3"/>
<text transform="translate(411.9 1223.5) rotate(-90) scale(0.99 1)" font-size="33.5">Narrow</text>
<text transform="translate(264.0 1686.6) scale(1 1.015)" font-size="65.8">Switching voltage (V)</text>
<text transform="translate(52.1 1313.0) rotate(-90) scale(1 1.045)" font-size="66">WER</text>
<text class="lt" x="524.4" y="1744.3" font-size="34.5" fill="#111">(b)</text>
</g>
</svg></body></html>
